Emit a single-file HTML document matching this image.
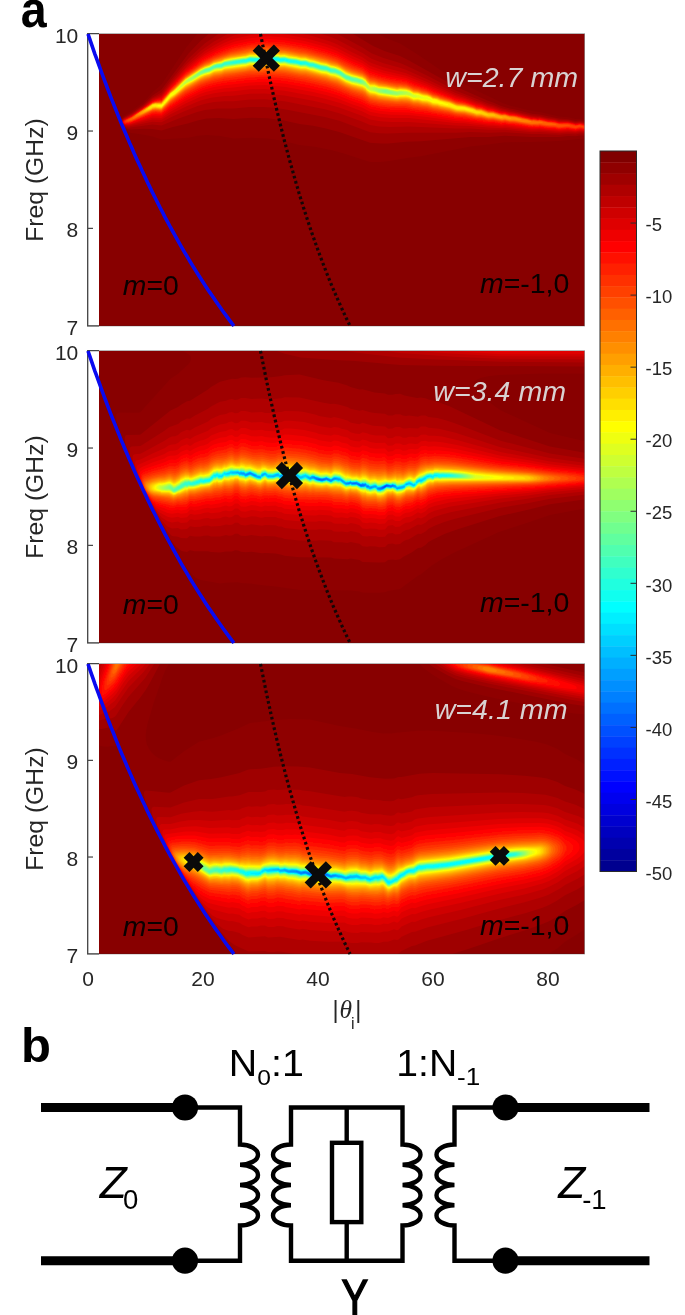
<!DOCTYPE html>
<html><head><meta charset="utf-8"><title>Figure</title><style>html,body{margin:0;padding:0;background:#fff}svg{display:block}</style></head><body>
<svg width="685" height="1315" viewBox="0 0 685 1315" font-family="'Liberation Sans', sans-serif">
<defs>
<filter id="bl" x="-5%" y="-5%" width="110%" height="110%"><feGaussianBlur stdDeviation="0.7"/></filter>
<clipPath id="c0"><rect x="99" y="34" width="485.5" height="292"/></clipPath>
<clipPath id="c1"><rect x="99" y="351" width="485.5" height="292"/></clipPath>
<clipPath id="c2"><rect x="99" y="664" width="485.5" height="290"/></clipPath>
<g id="xm"><rect x="-15" y="-4.3" width="30" height="8.6" transform="rotate(45)"/><rect x="-15" y="-4.3" width="30" height="8.6" transform="rotate(-45)"/></g>
<g id="xs"><rect x="-10" y="-4.1" width="20" height="8.2" transform="rotate(45)"/><rect x="-10" y="-4.1" width="20" height="8.2" transform="rotate(-45)"/></g>
</defs>
<rect width="685" height="1315" fill="#fff"/>
<g clip-path="url(#c0)"><g filter="url(#bl)">
<rect x="93" y="28" width="497.5" height="304" fill="#880000"/>
<path fill="#8f0000" d="M118.4 121 119.5 119 123.2 116 131.5 110.9 143.5 101.9 152.5 92.2 161.5 84.5 186.5 47 198.8 32 373.8 32 386 38 400 43.5 418 54.7 451 77.2 476.5 90.5 502 102.8 509.5 105.4 532 111 539.5 112.1 559 116.4 568 117.3 575.5 119.1 580 119 586 120.3 586 138.3 559 140.9 532 142.1 505 142.3 488.5 144.6 470.5 146.4 421 156.2 407 158 389.5 161 380.5 161.9 371.5 162 368.5 161.5 343 153.2 331 150 316 147.1 299.5 144.9 283.5 141 268 138.6 251.5 137.7 233.5 138.4 220 136 206.5 135.1 197.5 135.8 188.5 137.7 161.5 139.4 152.5 136.6 145 134.9 130 132.7 127 131.1 122.1 127 118.7 123Z"/>
<path fill="#9f0000" d="M119.6 122 119.7 121 124 117.1 131.5 112.8 143.5 104.2 152.5 95.6 161.5 89.6 188.5 53.4 200.5 41 210.9 32 349.8 32 373.1 46 385 51.2 400 56.1 409 60.4 455.5 86.6 488.5 101 493 102.4 501.1 106 509.5 108.5 514 109.2 532 113.7 539.5 114.5 559 118.6 568 119.2 575.5 121 580 120.6 586 122 586 135.4 580 135.4 575.5 136.2 568 136.1 559 136.9 532 137 505 135.8 488.5 136.9 470.5 137.1 421 141.2 406 141.7 388 143.4 380.5 143.5 370 142.7 340 132.2 325 128.2 313 125.8 299.5 123.9 283 120.3 268 118.3 251.5 117.8 233.5 119.1 218.5 118.1 206.5 118.6 197.5 120.4 188.5 123.2 172 127.2 161.5 130.4 152.5 128.9 143.5 128.8 131.5 129.6 128.5 129.3 125.5 128.1 122.5 126 120.5 124Z"/>
<path fill="#af0000" d="M120.4 122 121.7 120 124 118 131.5 113.9 143.5 105.4 152.5 97.4 161.5 92.4 170.5 80.4 188.5 58.4 205 43.2 221.3 32 333.8 32 362.5 47.5 371.5 53.2 383.5 58.1 400 63 406 65.4 427 75.6 455.5 90.4 488.5 103.5 493 104.7 502 108.3 532 115.3 539.5 115.9 548.5 117.9 554.5 118.6 559 119.8 568 120.2 575.5 122 580 121.5 586 122.9 586 133.8 580 133.6 575.5 134.4 568 134 559 134.7 539.5 133.9 532 134.1 505 132.3 488.5 132.7 470.5 132.1 455.5 132.7 406 132.7 388 133.6 379 133.3 370 132.2 340 121.1 325 117 284.5 109.2 274 107.7 263.5 106.9 250 107 233.5 108.5 217 108.4 205 109.9 197.1 112 178 118.8 161.5 125.6 152.5 124.6 128.5 127.7 125.5 126.9 122.5 125.2 121.3 124Z"/>
<path fill="#bf0000" d="M121.1 122 121.6 121 124 118.6 131.5 114.6 143.5 106.3 152.5 98.6 161.5 94.4 170.5 82.7 185.5 65 200.5 51.1 214 41.5 231.3 32 315.3 32 329.5 36.4 337 39.6 362.5 53 371.5 58.7 383.5 63.3 400 67.7 406 69.8 427 79.2 455.5 93 464.5 96 476.5 100.9 481 102.1 488.5 105.2 493 106.2 502 109.6 505 110 509.5 111.4 517 112.7 532 116.3 538 117 539.5 116.8 548.5 118.8 554.5 119.4 559 120.7 568 121 575.5 122.7 580 122.2 586 123.5 586 132.7 580 132.3 575.5 133.1 568 132.5 559 133.2 539.5 132 532 132.2 505 129.8 488.5 129.8 470.5 128.6 455.5 128.6 409 126.6 389.5 126.9 379 126.4 370 125 362.5 121.7 340 113.5 325 109.3 284.5 101.3 265 99.3 250 99.5 233.5 101.2 224.5 101.2 214 102.1 205 103.7 197.5 106 182.5 112.1 170.5 117.4 161.5 122.3 152.5 121.7 128.5 126.5 125.5 126 122.5 124.5Z"/>
<path fill="#cf0000" d="M121.6 122 124 119.2 131.5 115.2 143.5 107 152.5 99.6 161.5 95.9 170.5 84.4 188.5 64.4 205 50.8 214 45.2 224.5 39.5 233.5 35.5 247.6 32 294 32 313 36.2 329.5 41.2 337 44.3 352 52.2 362.5 57.2 368.5 61.4 371.5 63 383.5 67.3 406 73.2 427 81.9 455.5 95 464.5 97.7 476.5 102.4 481 103.5 487 106 493 107.4 502 110.7 517 113.5 532 117.2 538 117.8 539.5 117.5 548.5 119.5 554.5 120.1 559 121.4 568 121.5 575.5 123.3 580 122.7 586 124.1 586 131.8 580 131.3 575.5 132.1 568 131.4 559 132 539.5 130.5 532 130.7 505 127.9 502 128.2 488.5 127.6 470.5 125.9 455.5 125.4 409 121.9 391 121.9 380.5 121.3 370 119.6 362.5 116.1 340 107.7 325 103.4 313 100.7 284.5 95.4 265 93.5 250 93.8 233.5 95.7 224.5 95.9 211 97.7 200.5 100.4 185.5 106.7 170.5 114.2 161.5 119.8 152.5 119.5 128.5 125.5 124 124.8 122.5 124Z"/>
<path fill="#df0000" d="M122.1 122 124 119.6 131.5 115.7 143.5 107.5 152.5 100.4 161.5 97.1 170.5 85.8 185.5 69.3 196 60.2 205 53.4 217 46.5 224.5 42.8 233.5 39.1 250 35.2 265 33.2 269.5 33.1 284.5 34.3 307 38.5 326.5 43.9 337 47.9 352 55.8 362.5 60.5 370 65.8 383.5 70.4 406 75.8 427 84.1 433 87.1 457 97.1 464.5 99.1 476.5 103.7 481 104.6 488.5 107.6 493 108.4 500.5 111.1 505 111.7 509.5 113.1 514 113.6 532 117.8 533.5 117.6 538 118.4 539.5 118.1 548.5 120.1 554.5 120.6 559 121.9 568 122 575.5 123.8 580 123.2 586 124.5 586 131.1 580 130.4 575.5 131.3 568 130.4 559 131 539.5 129.3 532 129.5 505 126.4 502 126.7 493 125.8 487 125.7 481 124.8 476.5 124.7 464.5 123.3 455.5 123 409 118.1 391 117.9 380.5 117.2 370 115.3 362.5 111.5 340 103.1 325 98.7 313 95.9 284.5 90.7 265 88.9 250 89.3 233.5 91.2 224.5 91.7 214 93.2 206.5 94.9 200.5 96.8 185.5 103.5 170.5 111.7 161.5 117.9 152.5 117.7 128.5 124.8 124 124.3 122.5 123.2Z"/>
<path fill="#ef0000" d="M122.6 122 124.1 120 131.5 116.1 143.5 108 152.5 101 155.5 99.7 161.5 98.1 170.5 87 185.5 70.9 200.5 58.6 205 55.6 214 50.5 224.5 45.5 235 41.6 250 38.3 265 36.4 269.5 36.3 284.5 37.6 305.5 41.3 326.5 47.1 337 51 352 58.7 362.5 63.2 370 68.6 383.5 73 406 78 413.5 81.1 427 85.9 433 88.8 455.5 97.9 464.5 100.2 476.5 104.7 481 105.6 488.5 108.5 493 109.2 502 112.2 505 112.3 509.5 113.7 517 114.8 532 118.4 533.5 118.2 538 118.9 539.5 118.6 548.5 120.6 554.5 121.1 559 122.4 568 122.4 575.5 124.2 580 123.5 586 124.9 586 130.5 580 129.7 575.5 130.7 568 129.6 559 130.2 554.5 129.5 548.5 129.4 539.5 128.3 538 128.6 532 128.5 505 125.1 502 125.4 493 124.4 488.5 124.4 464.5 121.4 455.5 120.9 427 117 409 115 391 114.7 380.5 113.8 370 111.8 362.5 107.8 352 104.2 337 98.2 325.6 95 313 92 285.8 87 265 85 250 85.6 233.5 87.6 224.5 88.2 214 89.9 206.5 91.8 200.5 93.7 185.5 100.8 170.5 109.6 161.5 116.3 152.5 116.2 131.5 123.5 128.5 124.1 125.5 124.2 124 123.8 122.9 123Z"/>
<path fill="#ff0000" d="M123.1 122 123.4 121 124.6 120 131.5 116.4 143.5 108.3 152.5 101.5 155.5 100.3 161.5 99 170.5 88 185.5 72.2 200.5 60.3 205 57.4 217 51.1 224.5 47.8 233.5 44.5 250 40.9 265 39.1 269.5 39.1 284.5 40.3 305.5 44 326.5 49.7 337 53.5 352 61.2 362.5 65.5 370 71 379 74 391 77 406 79.8 413.7 83 427 87.4 433 90.3 455.5 99 464.5 101.2 476.5 105.6 481 106.4 487.6 109 493 109.8 502 112.8 505 112.8 509.5 114.2 514 114.6 532 118.9 533.5 118.6 538 119.3 539.5 119.1 548.5 121 554.5 121.5 559 122.8 568 122.8 572.5 123.5 575.5 124.6 580 123.9 586 125.2 586 129.9 580 129.1 575.5 130 568 128.9 559 129.5 554.5 128.7 548.5 128.6 539.5 127.4 538 127.8 532 127.6 505 124.1 502 124.4 493 123.1 488.5 123.2 464.5 119.8 457 119.4 427 114.7 415 113.5 409 112.4 391 111.9 379 110.7 370 108.8 362.5 104.6 352 101.1 337 95 326.5 92 305.5 87.2 284.5 83.5 265 81.8 250 82.4 224.5 85.3 214 87.1 205 89.6 200.5 91.2 185.5 98.5 170.5 107.8 161.5 115 155.5 114.6 152.5 114.9 128.5 123.6 125.5 123.8 124 123.4Z"/>
<path fill="#ff1000" d="M123.6 122 123.8 121 125 120 131.5 116.7 152.5 102 155.5 100.9 161.5 99.7 170.5 88.8 185.5 73.3 200.5 61.7 205 58.9 217 52.8 232 47.1 250 43.1 266.5 41.4 284.5 42.6 305.5 46.2 326.5 51.9 337 55.6 352 63.3 362.5 67.4 370 73.1 379 75.9 391 78.8 406 81.3 415 85 427 88.6 433 91.5 449.5 97.4 455.5 100 464.5 102 476.5 106.3 482.5 107.5 488.5 109.9 493 110.4 500.7 113 505 113.3 509.5 114.7 517 115.6 532 119.3 533.5 119 538 119.7 539.5 119.4 548.5 121.4 554.5 121.8 559 123.1 568 123.1 572.5 123.8 575.5 124.9 580 124.2 586 125.5 586 129.5 580 128.6 575.5 129.5 568 128.3 559 128.9 554.5 128 548.5 127.9 539.5 126.7 538 127 532 126.9 514 124.2 509.5 124.1 505 123.2 500.5 123.4 493 122.1 488.5 122.2 464.5 118.4 457 118 427 112.7 413.5 111.2 409 110.2 391 109.6 380.5 108.5 370 106.3 362.5 102 352 98.5 337 92.3 326.5 89.2 305.5 84.4 284.5 80.7 265 79.1 250 79.7 224.5 82.8 214 84.8 205 87.3 200.5 89 185.5 96.6 170.5 106.3 161.5 113.9 155.5 113.5 152.5 113.8 139 118.9 131.5 122.3 128.5 123.1 125.5 123.4 124.1 123Z"/>
<path fill="#ff2000" d="M124.2 122 124.3 121 125.5 120 131.5 117 152.5 102.3 155.5 101.3 161.5 100.3 170.5 89.4 185.5 74.2 200.5 63 205 60.2 217 54.3 232 48.8 250 45 266.5 43.3 284.5 44.5 305.5 48.2 326.5 53.8 337 57.4 352 65.1 362.5 69 370 74.8 379 77.6 391 80.3 406 82.6 414.3 86 418 86.8 427 89.7 433 92.5 449.5 98.2 455.5 100.8 464.5 102.7 473.5 105.6 476.5 107 481 107.6 487 110 493 110.9 502 113.7 505 113.6 509.5 115.1 514 115.4 532 119.6 533.5 119.3 538 120.1 539.5 119.7 548.5 121.7 554.5 122.1 559 123.4 568 123.4 572.5 124.2 575.5 125.2 580 124.5 586 125.8 586 129 580 128.1 575.5 129 568 127.8 559 128.4 554.5 127.5 548.5 127.4 539.5 126 538 126.4 533.5 126 532 126.3 517 123.8 509.5 123.4 505 122.4 502 122.7 493 121.3 488.5 121.3 481 119.7 476.5 119.5 464.5 117.2 457 116.7 449.5 115 433 112.5 427 111 413.5 109.5 406 107.9 391 107.6 380.5 106.5 370 104.2 362.5 99.7 352 96.3 337 89.9 326.5 86.8 305.5 81.9 284.5 78.3 265 76.7 250 77.4 224.5 80.7 214 82.8 205 85.4 200.5 87.2 185.5 94.9 170.5 105 161.5 112.9 155.5 112.5 152.5 112.9 131.5 121.8 125.5 123Z"/>
<path fill="#ff3000" d="M125 121 127 119.5 131.5 117.3 152.5 102.7 155.5 101.7 161.5 100.9 169.6 91 185.5 75.1 200.5 64 205 61.3 214 56.8 230.5 50.7 250 46.6 260.5 45.9 265 44.9 284.5 46.2 305.5 49.8 326.5 55.4 337 59 352 66.6 362.5 70.4 370 76.3 379 79 391 81.7 406 83.8 413.9 87 418 87.8 427 90.7 433 93.5 451 99.5 455.5 101.5 464.5 103.3 473.5 106.1 476.5 107.5 481 108.1 488.5 110.9 493 111.3 501.4 114 505 114 509.5 115.4 514 115.7 523 118 527.5 118.6 532 120 533.5 119.6 538 120.4 539.5 120 548.5 122 554.5 122.4 559 123.7 568 123.6 572.5 124.5 575.5 125.6 580 124.7 581.5 125.5 586 126.3 586 128.4 581.5 128.1 580 127.5 575.5 128.5 568 127.2 559 127.9 554.5 126.9 548.5 126.8 539.5 125.4 538 125.8 533.5 125.4 532 125.7 514 122.8 509.5 122.7 505 121.7 502 122 493 120.5 488.5 120.5 481 118.8 476.5 118.7 464.5 116.2 457 115.7 449.5 113.9 433 111.1 427 109.5 413.5 107.9 406 106.2 391 105.9 379 104.5 370 102.4 362.5 97.7 352 94.4 337 87.9 326.5 84.8 305.5 79.9 284.5 76.3 265 74.7 260.5 75.3 250 75.5 224.5 78.8 214 81 205 83.8 200.5 85.6 185.5 93.5 170.5 103.9 161.5 112.1 160 112.3 155.5 111.7 152.5 112.1 131.5 121.4 128.5 122.3 125.5 122.4 125 122Z"/>
<path fill="#ff4000" d="M125.8 121 126.6 120 131.5 117.5 152.5 103 155.5 102 161.5 101.3 170.1 91 185.5 75.8 200.5 64.9 205 62.3 214 57.9 230.5 52 250 47.9 260.5 47.3 265 46.3 284.5 47.6 305.5 51.2 326.5 56.8 337 60.3 346 65.2 352 67.9 362.5 71.6 370 77.7 374.5 78.6 379 80.2 391 82.8 406 84.7 414.1 88 418 88.7 421.3 90 427 91.4 433 94.3 437.5 95.4 440.5 96.8 449.5 99.5 455.5 102.1 464.5 103.8 473.5 106.6 476.5 108 481 108.5 487.2 111 493 111.6 502 114.4 505 114.3 509.5 115.7 517 116.6 532 120.3 533.5 120 538 120.6 539.5 120.3 548.5 122.3 554.5 122.7 560.5 124.2 568 123.9 575.5 125.9 580 125.3 583 126 583.5 127 581.5 127.1 580 126.7 575.5 128.1 568 126.7 559 127.4 554.5 126.4 548.5 126.3 539.5 124.9 538 125.3 533.5 124.9 532 125.2 514 122.2 509.5 122.1 505 121.1 502 121.5 493 119.8 488.5 119.9 481 118.1 476.5 117.9 464.5 115.3 457 114.8 449.5 112.8 433 110 427 108.3 413.5 106.6 406 104.8 391 104.5 379 102.9 370 100.9 362.5 96 352 92.8 337 86.2 326.5 83.1 305.5 78.1 301 77.6 284.5 74.5 265 72.9 260.5 73.6 250 73.8 224.5 77.3 214 79.5 205 82.4 200.5 84.2 185.5 92.2 170.5 102.9 161.5 111.4 160 111.6 155.5 111 152.5 111.4 131.5 121 127 122Z"/>
<path fill="#ff5000" d="M127.3 121 127.4 120 131.5 117.7 152.5 103.2 155.5 102.3 161.5 101.8 169.6 92 185.5 76.4 200.5 65.6 205 63.1 209.5 61.3 214 58.8 230.5 53.1 250 49.1 260.5 48.6 265 47.6 284.5 48.8 301 52 305.5 52.4 326.5 58 337 61.5 346 66.4 352 69.1 362.5 72.7 365.5 74.7 370 78.8 374.5 79.7 379 81.3 397 84.8 400 84.7 406 85.5 414.6 89 418 89.4 422 91 427 92.1 433 95 437.5 96 440.5 97.4 449.5 100.1 456.6 103 464.5 104.3 473.5 107 476.5 108.4 482.5 109.4 488.5 111.7 493 112 502 114.7 505 114.5 509.5 116 517 116.8 532 120.5 533.5 120.3 538 120.9 539.5 120.6 548.5 122.6 554.5 123 559 124.6 569.9 125 569.5 125.7 559 126.8 554.5 125.8 544 125.3 539.5 124.3 538 124.8 533.5 124.4 532 124.7 514 121.7 509.5 121.6 505 120.6 500.5 120.8 493 119.2 488.5 119.3 481 117.5 476.5 117.3 464.5 114.6 455.5 113.7 449.5 112 433 109 427 107.2 413.5 105.5 409 104 406 103.5 397 103.7 379 101.7 370 99.6 362.5 94.5 352 91.3 337 84.7 326.5 81.6 305.5 76.5 301 76.1 284.5 73 265 71.4 260.5 72.2 250 72.3 224.5 75.9 221.5 76.9 214 78.2 200.5 83 185.5 91.1 170.5 102.1 161.5 110.8 155.5 110.4 152.5 110.8 131.5 120.6 128.5 121.3Z"/>
<path fill="#ff6000" d="M129.4 120 129.9 119 152.5 103.4 155.5 102.5 161.5 102.1 169.9 92 173.5 89 185.5 76.9 200.5 66.3 205 63.8 209.5 62.1 214 59.5 230.5 54 250 50.1 260.5 49.7 265 48.6 284.5 49.9 301 53.1 305.5 53.4 326.5 59 337 62.5 346 67.5 352 70.1 362.5 73.5 365.5 75.6 370 79.8 374.5 80.6 379 82.2 397 85.6 400 85.5 406 86.3 409 87.1 413.5 89.4 418 90.1 422.5 91.8 427 92.7 433 95.5 437.5 96.5 440.5 97.9 449.5 100.5 455.5 103.1 458.5 104 464.5 104.7 473.5 107.4 476.5 108.8 481 109.2 488.5 112.1 493 112.3 501.9 115 505 114.8 509.5 116.2 514 116.5 532 120.8 533.5 120.6 538 121.3 539.5 120.8 544 122.1 545.5 122 547 122.7 551.7 123 553 123.7 555.6 124 556.4 125 548.5 125.2 539.5 123.8 538 124.3 533.5 123.9 532 124.3 514 121.2 509.5 121.2 505 120.1 502 120.5 493 118.7 488.5 118.8 481 116.9 476.5 116.7 464.5 113.9 457 113.3 449.5 111.2 433 108.1 427 106.2 422.5 105.8 418 104.7 413.5 104.5 409 102.9 401.5 102.3 397 102.6 379 100.5 370 98.4 365.5 94.9 362.5 93.2 352 90.1 337 83.4 326.5 80.2 305.5 75.2 301 74.8 284.5 71.7 265 70.1 260.5 70.9 250 71 224.5 74.7 221.5 75.8 214 77.1 200.5 82 185.5 90.2 170.5 101.4 161.5 110.2 160 110.5 155.5 109.8 152.5 110.3 131.5 120.1Z"/>
<path fill="#ff7000" d="M132.6 118 136 114.8 152.5 103.6 155.5 102.8 157 103 161.5 102.5 170.3 92 175 87.9 185.5 77.3 200.5 66.9 205 64.4 209.5 62.7 214 60.2 230.5 54.8 245.5 52.2 250 51 260.5 50.7 265 49.5 284.5 50.8 301 54 305.5 54.3 310 55.8 313 56.2 326.5 59.9 337 63.3 346 68.4 352 70.9 362.5 74.3 365.5 76.4 367 78.2 370 80.7 374.5 81.4 379 83 397 86.4 400 86.2 406 86.9 410.5 88.4 413.5 90 418 90.7 421.3 92 427 93.3 433 96.1 437.5 97.1 440.5 98.4 449.5 101 457 104 464.5 105 473.5 107.7 476.5 109.1 481 109.5 488.5 112.3 493 112.5 502 115.3 505 115 509.5 116.5 514 116.7 523 119.1 527.5 119.7 532 121.3 533.5 120.9 535 121.5 542.3 122 542.9 123 532 123.7 514 120.7 509.5 120.7 505 119.6 502 120 493 118.3 488.5 118.3 481 116.4 476.5 116.2 464.5 113.3 455.5 112.4 449.5 110.5 440.5 108.9 437.5 107.9 433 107.4 427 105.4 422.5 104.9 418 103.8 413.5 103.6 409 102 401.5 101.3 397 101.7 379 99.5 370 97.4 367 95.4 365.5 93.8 362.5 92.1 352 89 346 86.7 337 82.2 331 80.7 326.5 79.1 305.5 74 301 73.7 284.5 70.5 265 68.9 260.5 69.9 250 69.9 245.5 70.9 224.5 73.7 221.5 74.8 214 76.1 209.5 78 205 79.2 200.5 81.1 185.5 89.4 170.5 100.7 161.5 109.8 155.5 109.4 152.5 109.8 133 119Z"/>
<path fill="#ff8000" d="M135.5 116 136 115 152.5 103.8 155.5 103 161.5 102.8 169.6 93 173.5 89.7 185.5 77.7 200.5 67.4 205 65 209.5 63.3 214 60.8 230.5 55.6 245.5 53 250 51.8 260.5 51.5 265 50.3 278.5 51.1 280 51.6 284.5 51.6 301 54.8 305.5 55.2 326.5 60.6 331 62.5 337 64.1 340 65.4 346 69.2 352 71.7 362.5 75 365.5 77.1 367 79 370 81.5 374.5 82.1 379 83.7 386.5 84.8 391 86 397 87 400 86.8 406 87.4 409 88.3 414.9 91 418 91.2 422.5 92.9 427 93.7 433 96.5 437.5 97.5 440.5 98.9 449.5 101.3 455.8 104 464.5 105.3 473.5 108 476.5 109.4 481 109.8 488.5 112.6 493 112.8 500.5 115.2 505 115.3 509.5 116.7 514 117 523 119.6 527.2 120 529 120.9 530.5 121 531.6 122 529 122.3 523 121.9 514 120.3 509.5 120.3 505 119.2 502 119.6 493 117.8 488.5 117.9 481 115.9 476.5 115.8 464.5 112.7 455.5 111.9 449.5 109.9 440.5 108.2 437.5 107.2 433 106.7 427 104.6 422.5 104.2 418 103 413.5 102.8 409 101.1 401.5 100.5 397 100.9 379 98.7 374.5 97.3 370 96.5 367 94.5 365.5 92.8 362.5 91.1 352 88.1 346 85.8 337 81.2 331 79.8 326.5 78.1 305.5 73 301 72.7 284.5 69.5 280 69.4 278.5 69 265 67.9 260.5 68.9 250 68.9 245.5 70 224.5 72.8 221.5 73.9 214 75.2 209.5 77.2 205 78.4 200.5 80.3 185.5 88.7 170.5 100.2 161.5 109.4 160 109.6 155.5 108.9 152.5 109.4 151 110.5 135.6 117Z"/>
<path fill="#ff8f00" d="M137.5 115 139 113 152.5 104 155.5 103.2 161.5 103.1 169.9 93 173.5 90 185.5 78.1 200.5 67.8 205 65.4 209.5 63.9 214 61.3 230.5 56.2 245.5 53.7 250 52.5 260.5 52.2 265 51 278.5 51.9 280 52.4 284.5 52.4 301 55.6 305.5 55.9 320.5 60.1 326.5 61.3 331 63.2 337 64.8 340 66.1 346 69.9 352 72.4 362.5 75.6 365.5 77.7 367 79.6 370 82.2 374.5 82.8 379 84.4 397 87.6 400 87.3 406 87.9 410.5 89.4 413.5 91.1 418 91.7 421.3 93 427 94.2 430 95.2 433 97 437.5 97.9 440.5 99.2 449.5 101.6 457 104.7 464.5 105.6 473.5 108.3 476.5 109.7 481 110.1 488.5 112.9 493 113 500.5 115.5 505 115.6 509.5 117 517 117.9 518.5 118.8 520.2 119 521.6 120 518.5 120.3 514 119.6 509.5 119.8 505 118.7 502 119.2 493 117.4 488.5 117.5 481 115.5 476.5 115.4 473.5 114.3 464.5 112.2 455.5 111.4 449.5 109.3 440.5 107.6 437.5 106.6 433 106.1 427 103.9 422.5 103.5 418 102.3 413.5 102.1 406.9 100 401.5 99.7 397 100.2 379 97.9 376 96.8 370 95.7 367 93.7 365.5 92 362.5 90.2 352 87.3 346 84.9 337 80.3 331 78.9 326.5 77.2 305.5 72 301 71.8 284.5 68.6 280 68.6 278.5 68.1 268 67.6 265 67 260.5 68.1 250 68.1 245.5 69.1 224.5 71.9 221.5 73.2 214 74.5 209.5 76.5 205 77.7 200.5 79.6 185.5 88 174.4 97 170.5 99.7 161.5 109 160 109.2 155.5 108.6 152.5 109 143.5 113.5 139 115.1Z"/>
<path fill="#ff9f00" d="M140.3 113 152.5 104.2 155.5 103.3 161.5 103.3 170.1 93 175 88.9 185.5 78.4 200.5 68.2 205 65.9 209.5 64.3 214 61.8 221.5 59.9 224.5 58.3 230.5 56.8 245.5 54.3 250 53.1 260.5 52.9 265 51.6 278.5 52.5 280 53.1 284.5 53 301 56.2 305.5 56.5 310 58 313 58.3 321.5 61 326.5 62 331 63.8 337 65.3 340 66.7 346 70.5 352 73 362.5 76.2 365.5 78.3 367 80.2 370 82.8 374.5 83.3 379 84.9 386.5 85.9 397 88.1 400 87.8 406 88.3 409 89.2 413.5 91.5 418 92.1 422.5 93.7 427 94.5 430 95.6 433 97.4 437.5 98.2 440.5 99.6 449.5 102 457 105 464.5 105.9 473.5 108.5 476.5 110 481 110.3 488.5 113.2 493 113.3 500.5 115.8 505 115.9 509.5 117.8 511.6 118 510.5 119 509.5 119.1 505 118.1 500.5 118.5 493 117 488.5 117.1 481 115.1 476.5 115 473.5 113.9 464.5 111.8 457 111.2 449.5 108.8 440.5 107.1 437.5 106 433 105.5 427 103.3 422.5 102.9 418 101.7 413.5 101.5 409 99.7 406 99.2 400 99.1 397 99.5 379 97.2 375.6 96 370 95 367 92.9 365.5 91.2 362.5 89.4 352 86.6 346 84.2 337 79.5 331 78.1 326.5 76.4 322 75.6 305.5 71.2 301 71 284.5 67.8 280 67.8 278.5 67.3 268 66.8 265 66.2 260.5 67.4 250 67.3 245.5 68.4 224.5 71.2 221.5 72.5 214 73.8 209.5 75.9 205 77.1 200.5 78.9 185.5 87.4 173.8 97 170.5 99.2 161.5 108.7 155.5 108.2 152.5 108.7 151 109.8 143.5 113.1 140.5 114Z"/>
<path fill="#ffaf00" d="M142.1 112 152.5 104.3 155.5 103.5 161.5 103.5 170.4 93 175 89.2 185.5 78.7 200.5 68.6 205 66.3 209.5 64.8 214 62.2 221.5 60.3 224.5 58.8 230.5 57.3 245.5 54.9 250 53.6 260.5 53.5 265 52.2 278.5 53.1 280 53.6 284.5 53.5 301 56.8 305.5 57 320.5 61.3 326.5 62.5 331 64.4 337 65.9 340 67.2 346 71.1 352 73.5 362.5 76.6 365.5 78.7 367 80.8 370 83.4 374.5 83.8 379 85.4 386.5 86.4 397 88.5 400 88.2 406 88.7 409 89.6 413.5 92 418 92.5 422 94 427 94.9 430 96 433 97.7 437.5 98.5 440.5 99.9 449.5 102.3 455.9 105 464.5 106.2 473.5 108.8 476.5 110.3 481 110.6 488.5 113.5 493 113.6 502.8 117 502.1 118 500.5 118 493 116.5 487 116.5 481 114.6 476.5 114.6 473.5 113.5 464.5 111.4 458.5 111.1 455.5 110.5 449.5 108.3 440.5 106.6 437.5 105.5 433 105 427 102.7 422.5 102.3 418 101.1 413.5 101 409 99.1 406 98.5 397 98.9 379 96.6 374.5 95.1 370 94.4 367 92.3 365.5 90.5 362.5 88.7 352 85.9 346 83.6 340 80.1 337 78.8 331 77.5 326.5 75.7 320.5 74.5 305.5 70.5 301 70.3 284.5 67.1 280 67.1 278.5 66.6 268 66.1 265 65.5 260.5 66.7 250 66.6 245.5 67.8 224.5 70.6 221.5 71.9 214 73.1 209.5 75.3 205 76.5 200.5 78.4 185.5 86.9 174.5 96 170.5 98.7 161.5 108.3 160 108.5 155.5 107.8 152.5 108.4 151 109.4 143.5 112.5Z"/>
<path fill="#ffbf00" d="M144.1 111 146.1 109 152.5 104.5 155.5 103.7 161.5 103.7 170.5 93.1 173.5 90.8 185.5 79 200.5 68.9 205 66.6 209.5 65.1 214 62.6 221.5 60.8 224.5 59.2 230.5 57.7 245.5 55.4 250 54.1 260.5 54 265 52.6 268 53.2 278.5 53.6 280 54.2 284.5 54.1 301 57.3 305.5 57.5 310 59.1 313 59.4 321.2 62 326.5 63 331 64.9 337 66.3 340 67.7 346 71.6 352 74 362.5 77.1 365.5 79.2 367 81.2 370 83.9 374.5 84.3 379 85.9 386.5 86.8 397 89 400 88.6 406 89.1 410.5 90.6 413.5 92.3 418 92.8 422.5 94.5 427 95.2 430 96.3 433 98.1 437.5 98.9 440.5 100.3 449.5 102.5 455.5 105.2 458.5 105.9 464.5 106.4 473.5 109 476.5 110.5 481.6 111 487 113.5 493 113.9 495.2 115 495.3 116 487 116.1 481 114.2 476.5 114.2 473.5 113.1 464.5 110.9 457 110.4 449.5 107.8 440.5 106.1 437.5 105 433 104.5 430 103 427 102.2 422.5 101.8 418 100.6 413.5 100.5 409 98.5 406 98 400 98 397 98.4 379 96.1 376 94.9 370 93.8 367 91.7 365.5 89.9 362.5 88.1 352 85.3 346 83 337 78.2 331 76.8 326.5 75 322 74.3 305.5 69.9 301 69.7 284.5 66.5 280 66.5 278.5 65.9 268 65.5 265 64.9 260.5 66.1 250 66 245.5 67.2 224.5 70 221.5 71.3 214 72.6 209.5 74.8 205 76 200.5 77.9 185.5 86.4 174 96 170.5 98.3 161.5 108 160 108.2 155.5 107.5 152.5 108 151 109.1 146.5 111 145 111.3Z"/>
<path fill="#ffcf00" d="M146 110 146.4 109 152.5 104.7 155.5 103.8 157 104.2 161.5 104 170.5 93.3 173.6 91 185.5 79.2 200.5 69.2 205 66.9 209.5 65.5 214 62.9 221.5 61.1 224.5 59.5 230.5 58.1 245.5 55.9 250 54.5 260.5 54.5 265 53.1 268 53.6 278.5 54.1 280 54.6 284.5 54.5 289 55.7 296.5 56.6 301 57.8 305.5 58 320.5 62.3 326.5 63.4 331 65.3 337 66.8 340 68.1 346 72.1 352 74.4 362.5 77.4 365.5 79.6 367 81.7 370 84.4 374.5 84.7 379 86.3 386.5 87.2 397 89.3 400 88.9 406 89.4 409 90.2 413.5 92.7 418 93.2 422.5 94.8 427 95.5 430 96.6 433 98.4 434.5 98.4 440.5 100.6 449.5 102.8 455.5 105.5 458.5 106.2 464.5 106.7 473.5 109.4 476.5 110.8 481 111.2 487.4 114 488 115 485.5 115 481 113.7 476.5 113.8 473.5 112.7 464.5 110.5 457 110 449.5 107.4 440.5 105.6 437.5 104.5 433 104 430 102.5 427 101.7 422.5 101.3 418 100.1 413.5 100 409 98 406 97.5 400 97.5 397 97.9 379 95.6 374.6 94 370 93.3 367 91.1 365.5 89.3 362.5 87.5 352 84.8 346 82.5 340 78.9 337 77.6 331 76.3 326.5 74.5 320.5 73.4 305.5 69.3 301 69.1 284.5 65.9 280 66 278.5 65.4 268 64.9 265 64.3 260.5 65.6 250 65.4 245.5 66.7 224.5 69.5 221.5 70.8 214 72.1 209.5 74.3 205 75.5 200.5 77.4 185.5 85.9 175 94.8 170.5 97.9 161.5 107.7 155.5 107.2 152.5 107.6 151 108.8 148 109.9Z"/>
<path fill="#ffdf00" d="M148 109 148.1 108 152.5 104.8 155.5 104 157 104.5 161.9 104 170.5 93.6 173.9 91 185.5 79.4 200.5 69.5 205 67.2 209.5 65.8 214 63.2 221.5 61.5 224.5 59.9 230.5 58.5 245.5 56.3 250 54.9 260.5 55 265 53.5 268 54.1 278.5 54.4 280 55.1 284.5 54.9 301 58.2 305.5 58.3 310 60 313 60.2 321.7 63 326.5 63.8 331 65.7 337 67.2 340 68.5 346 72.5 352 74.8 362.5 77.8 365.5 80 367 82.1 370 84.8 374.5 85.1 379 86.7 386.5 87.5 397 89.7 400 89.3 406 89.7 409 90.5 413.5 93 418 93.5 422.5 95.1 427 95.8 430 96.9 433 98.7 434.5 98.7 440.5 100.9 449.5 103.1 457 106.2 464.5 106.9 474.4 110 476.5 111.3 480.7 112 480.4 113 476.5 113.2 464.5 110.1 457 109.5 449.5 106.9 440.5 105.2 437.5 104 433 103.6 430 102 427 101.2 422.5 100.8 418 99.6 413.5 99.6 409 97.5 406 97 400 97 397 97.5 379 95.1 376 93.9 370 92.8 367 90.6 365.5 88.8 362.5 87 352 84.3 346 82 340 78.4 334 76.1 331 75.8 326.5 73.9 322 73.2 305.5 68.8 301 68.7 284.5 65.4 280 65.5 278.5 64.9 268 64.5 265 63.8 260.5 65.1 250 64.9 245.5 66.2 224.5 69 221.5 70.4 214 71.6 209.5 73.9 205 75.1 200.5 77 185.5 85.5 175 94.4 170.5 97.5 161.5 107.4 157 107.2 155.5 106.8 152.5 107.3 149.5 109Z"/>
<path fill="#ffef00" d="M152.2 106 152.5 105 161.5 104.6 162.3 104 170.5 93.8 174.2 91 185.5 79.7 200.5 69.7 205 67.4 209.5 66.1 214 63.5 221.5 61.8 224.5 60.2 230.5 58.8 244 56.5 245.5 56.6 250 55.2 260.5 55.3 262 54.5 265 53.8 268 54.4 278.5 54.8 280 55.5 284.5 55.3 289 56.5 296.5 57.4 301 58.6 305.5 58.7 320.5 63.1 326.5 64.2 331 66.1 334 66.5 340 68.9 346 72.9 352 75.2 362.5 78.1 365.5 80.3 367 82.5 370 85.3 374.5 85.5 379 87.1 386.5 87.8 397 90 400 89.5 406 90 409 90.8 413.5 93.4 418 93.8 422.5 95.5 427 96.2 430 97.3 433 99.1 434.5 99 437.5 99.8 440.5 101.3 451 104 457 106.7 462.5 107 466.2 108 470.5 109.7 472.6 110 473.1 111 466 110 464.5 109.3 456.8 109 449.5 106.3 446.5 106 442 104.6 439 104.2 437.5 103.5 433 103.1 430 101.5 427 100.7 422.5 100.4 418 99.1 413.5 99.2 409 97.1 406 96.5 400 96.6 397 97.1 379 94.7 374.5 93 370 92.3 367 90.2 365.5 88.3 362.5 86.5 352 83.9 346 81.6 340 77.9 334 75.7 331 75.3 326.5 73.5 320.5 72.4 305.5 68.3 301 68.2 284.5 64.9 280 65 278.5 64.4 268 64 265 63.3 260.5 64.7 250 64.5 245.5 65.8 224.5 68.6 221.5 70 214 71.2 209.5 73.6 205 74.7 200.5 76.6 185.5 85.1 175 94 170.5 97.1 161.5 107.1 158.2 107 155.5 106.3 152.5 106.6ZM150.6 107 151.6 107 151 107.6Z"/>
<path fill="#ffff00" d="M165.6 101 166 99.8 167.1 99 167.4 98 168.7 97 168.9 96 170.1 95 170.5 94.1 175.6 90 185.5 79.9 200.5 70 205 67.7 209.5 66.3 214 63.7 221.5 62.1 224.5 60.5 238 57.8 245.5 57 250 55.6 260.5 55.7 265 54.2 268 54.8 278.5 55.2 280 55.8 284.5 55.6 289 56.9 296.5 57.7 301 59 305.5 59.1 310 60.7 313 61 322 63.8 326.5 64.5 331 66.4 334 66.8 340 69.2 346 73.2 352 75.5 356.5 76.4 362.5 78.4 365.5 80.6 367 82.8 370 85.7 374.5 85.8 379 87.4 386.5 88.1 397 90.3 400 89.8 406 90.3 410.5 91.8 413.5 93.7 418 94.1 421 95.4 427 96.6 430 97.6 433 99.6 436.4 100 439 101.4 442 101.9 446.5 103.9 448.1 104 448.1 105 446.1 105 442 103.9 440.5 103.9 437.5 102.8 433 102.5 427 100.1 422.5 99.9 418 98.7 413.5 98.7 409 96.6 406 96.1 400 96.2 397 96.8 379 94.3 376 93 370 91.9 367 89.7 365.5 87.8 362.5 86.1 352 83.5 346 81.2 340 77.5 334 75.2 331 74.9 326.5 73 322 72.4 313 69.7 310 69.4 305.5 67.8 301 67.8 284.5 64.5 280 64.7 278.5 64 268 63.6 265 62.9 260.5 64.3 250 64.1 245.5 65.4 224.5 68.2 221.5 69.7 217 70.1 214 70.8 209.5 73.2 205 74.4 200.5 76.2 191.5 81.7 188.5 82.9 185.5 84.8 173.5 94.7 169.8 97 166 101.8ZM165.6 102 164.5 103.5 163.8 103 164.5 101.8ZM163.7 104 163 105.2 161.5 106.4 157.5 106 157.7 105 161.5 104.9 163 103.6Z"/>
<path fill="#efff10" d="M172.2 94 183.6 82 188.5 77.9 191.5 76.3 200.5 70.1 205 67.9 209.5 66.5 214 64 221.5 62.3 224.5 60.7 230.5 59.4 244 57.2 245.5 57.3 250 55.9 260.5 56 262 55.2 265 54.4 268 55.1 278.5 55.4 280 56.1 284.5 55.9 289 57.2 296.5 58 301 59.3 305.5 59.3 310 61 313 61.2 321.6 64 326.5 64.8 331 66.8 335.5 67.5 340 69.4 346 73.5 352 75.8 356.5 76.7 362.5 78.7 365.5 80.9 367 83.2 370 86.1 374.5 86.2 379 87.7 386.5 88.3 391 89.6 397 90.6 400 90.1 406 90.5 409 91.4 415 94.4 418 94.5 422.5 96.3 427 96.9 429.8 98 432.2 100 431.5 100.9 427 99.4 422.5 99.3 418 98.2 413.5 98.3 409 96.2 406 95.7 400 95.8 397 96.4 379 93.9 374.5 92.2 370 91.4 367 89.3 365.5 87.4 362.5 85.7 352 83.1 346 80.8 340 77.1 334 74.8 331 74.6 326.5 72.6 320.5 71.6 305.5 67.5 301 67.4 296.5 66.2 289 65.3 284.5 64.1 280 64.3 278.5 63.6 268 63.2 265 62.5 260.5 63.9 250 63.7 245.5 65 224.5 67.8 221.5 69.3 217 69.7 214 70.5 209.5 72.9 205 74 200.5 75.9 191.5 81.3 188.5 82.5 185.5 84.4 173.5 94.1Z"/>
<path fill="#dfff20" d="M175.9 91 178 87.9 180.4 86 180.9 85 185.5 80.4 188.5 78.1 191.5 76.5 200.5 70.3 205 68.1 209.5 66.8 214 64.2 221.5 62.6 224.5 61 230.5 59.6 244 57.4 245.5 57.5 250 56.1 260.5 56.3 262 55.4 265 54.7 268 55.4 278.5 55.7 280 56.4 284.5 56.2 289 57.4 296.5 58.3 301 59.6 305.5 59.6 310 61.3 313 61.5 320.5 64 326.5 65.1 331 67.1 334 67.4 340 69.7 346 73.8 352 76.1 356.5 77 362.5 79 365.5 81.2 367 83.5 370 86.5 374.5 86.5 379 88 386.5 88.6 391 89.9 397 90.9 400 90.4 406 90.8 409.8 92 413.5 94.4 418.6 95 421 96.7 422.4 97 422.5 98 421 98.1 419.5 97.4 414.1 98 409 95.8 406 95.3 400 95.5 397 96.1 379 93.6 374.5 91.8 370 91 367 88.9 365.5 87 362.5 85.3 352 82.8 346 80.5 340 76.7 336 75 331 74.2 326.5 72.3 320.5 71.3 313 68.9 310 68.7 305.5 67.1 301 67.1 296.5 65.8 289 65 284.5 63.7 280 63.9 278.5 63.3 268 62.9 265 62.1 260.5 63.7 250 63.4 245.5 64.7 241 65 224.5 67.5 221.5 69 214 70.2 209.5 72.6 205 73.8 200.5 75.6 193 80.2 185.5 84 179.5 89.2 176.5 91.2Z"/>
<path fill="#cfff30" d="M179.5 87 184 82 188.5 78.3 200.5 70.5 205 68.3 209.5 67 214 64.4 217 63.4 221.5 62.8 224.5 61.2 230.5 59.9 244 57.7 245.5 57.8 250 56.3 260.5 56.6 262 55.7 265 55 268 55.6 278.5 56 280 56.7 284.5 56.4 289 57.7 296.5 58.6 301 59.9 305.5 59.9 310 61.5 313 61.8 320.5 64.3 326.5 65.3 331 67.3 334 67.6 340 70 346 74.1 352 76.4 356.5 77.2 362.5 79.2 365.5 81.5 367 83.8 370 87 374.5 86.8 379 88.3 386.5 88.8 391 90.2 397 91.2 400 90.6 406 91.1 409.2 92 413.5 94.8 416.6 96 416.1 97 413.5 97.3 409 95.3 406 94.9 400 95.1 397 95.8 379 93.3 376 91.8 370 90.4 367 88.5 365.5 86.6 362.5 84.9 352 82.5 346 80.2 340 76.4 334 74.1 331 73.9 326.5 71.9 322 71.3 313 68.6 310 68.4 305.5 66.7 301 66.8 296.5 65.5 289 64.7 284.5 63.4 280 63.7 278.5 62.9 268 62.6 265 61.8 260.5 63.4 250 63 245.5 64.4 238 65.1 224.5 67.2 221.5 68.7 217 69.1 214 69.9 209.5 72.3 205 73.5 200.5 75.3 193 79.9 185.5 83.6 181 87.2Z"/>
<path fill="#bfff40" d="M183.2 84 185.5 80.9 200.5 70.7 205 68.5 209.5 67.2 214 64.5 217 63.6 221.5 63 224.5 61.4 230.5 60.1 244 57.9 245.5 58.1 250 56.6 257.5 57.1 260.5 56.8 262 56 265 55.2 268 55.9 278.5 56.2 280 57 284.5 56.7 289 58 296.5 58.8 301 60.1 305.5 60.1 310 61.8 313 62 322 64.9 326.5 65.5 331 67.5 335.5 68.2 340 70.2 346 74.4 352 76.6 356.5 77.5 362.5 79.5 365.5 81.8 370 87.9 374.5 87.2 379 88.6 386.5 89.1 391 90.4 397 91.4 400 90.9 406 91.5 410.3 93 412.1 95 410.5 95.2 406 94.4 400 94.8 397 95.5 379.4 93 376 91.4 368.5 89.1 367 88.1 365.5 86.2 362.5 84.6 352 82.2 346 79.9 340 76.1 334 73.8 331 73.6 326.5 71.6 320.5 70.7 313 68.3 310 68.1 305.5 66.4 301 66.5 296.5 65.2 289 64.4 284.5 63.1 280 63.4 278.5 62.7 268 62.3 265 61.5 260.5 63.1 250 62.8 245.5 64.1 244 64 224.5 66.9 221.5 68.5 217 68.8 214 69.6 209.5 72 205 73.2 200.5 75 191.5 80.4 188.5 81.4 184 84.2Z"/>
<path fill="#afff50" d="M186.6 81 188.5 78.9 191.5 77.3 200.5 70.9 205 68.7 209.5 67.4 214 64.7 217 63.8 221.5 63.2 224.5 61.6 230.5 60.3 244 58.1 245.5 58.3 250 56.8 260.5 57.1 262 56.2 265 55.4 268 56.1 278.5 56.4 280 57.2 284.5 56.9 289 58.2 296.5 59 301 60.3 305.5 60.3 310 62 313 62.2 321.5 65 326.5 65.8 331 67.8 335.5 68.4 340 70.4 346 74.6 352 76.9 356.5 77.7 362.5 79.7 365.5 82.1 368.5 86.8 368.7 88 367 87.6 366 86 362.5 84.2 361 84.2 356.5 82.7 352 81.9 346 79.7 340 75.8 335.8 74 331 73.3 326.5 71.3 320.5 70.4 313 68 310 67.8 305.5 66.1 301 66.2 296.5 64.9 289 64.1 284.5 62.8 280 63.1 278.5 62.4 268 62 265 61.2 260.5 62.8 250 62.5 245.5 63.9 241 64.2 224.5 66.7 221.5 68.2 217 68.6 214 69.3 209.5 71.8 205 72.9 200.5 74.7 191.5 80 187 81.7ZM372.5 89 372.8 88 376 87.8 377.5 88.6 386.5 89.3 397 91.7 400 91.2 406 91.9 407.7 93 404.5 94.2 400 94.4 397 95.1 391 94.6 379 92.5 373.1 90Z"/>
<path fill="#9fff60" d="M189.9 79 200.6 71 205 68.8 209.5 67.5 214 64.9 221.5 63.4 224.5 61.7 230.5 60.4 244 58.3 245.5 58.5 250 57 260.5 57.3 262 56.3 265 55.6 268 56.3 278.5 56.6 280 57.4 284.5 57.1 289 58.4 296.5 59.2 301 60.5 305.5 60.5 310 62.2 313 62.4 320.6 65 326.5 66 331 68 335.5 68.6 340 70.6 346 74.8 352 77.1 356.5 77.9 362.5 79.9 365.5 82.5 366.6 85 365.5 85.3 362.5 83.9 361 83.9 356.5 82.4 352 81.6 346 79.4 340 75.5 335.5 73.6 331 73.1 326.5 71 322 70.5 313 67.7 310 67.6 305.5 65.9 301 65.9 296.5 64.7 289 63.9 284.5 62.6 280 62.9 278.5 62.1 268 61.8 265 61 260.5 62.6 250 62.2 245.5 63.7 241 63.9 224.5 66.4 221.5 68 217 68.3 214 69.1 209.5 71.6 205 72.7 200.5 74.5 191.5 79.3 190 79.3ZM375.4 89 376 88.7 379 89.3 386.5 89.5 397 92 400 91.7 402.9 92 403.2 93 397 94.7 391 94.3 378.5 92 375.6 90Z"/>
<path fill="#8fff70" d="M193.2 77 200.5 71.4 205 69 209.5 67.7 214 65.1 217 64.2 221.5 63.6 224.5 61.9 244 58.5 245.5 58.7 250 57.2 257.5 57.7 260.5 57.5 262 56.5 265 55.8 268 56.5 278.5 56.8 280 57.6 284.5 57.3 289 58.6 296.5 59.4 301 60.7 305.5 60.7 310 62.4 313 62.6 320.5 65.2 326.5 66.2 331 68.2 335.5 68.8 340 70.8 346 75.1 352 77.3 356.5 78.1 362.5 80.3 365.5 83 365.5 84 361 83.6 356.5 82.1 352 81.4 346 79.2 340 75.3 335.5 73.3 331 72.8 326.5 70.8 322 70.3 313 67.5 310 67.3 305.5 65.6 301 65.7 296.5 64.5 289 63.7 284.5 62.4 280 62.7 278.5 61.9 268 61.6 265 60.8 260.5 62.4 257.5 62.6 250 62 245.5 63.5 238 64.1 224.5 66.2 221.5 67.8 217 68.1 214 68.8 209.5 71.4 205 72.4 200.5 74.2 194.5 77.3ZM378.4 90 386.5 89.8 391 91.3 395.5 91.9 397 92.8 398.4 93 397 94.1 391 93.9 380 92 378.4 91Z"/>
<path fill="#80ff80" d="M196.5 75 200.5 71.7 205 69.3 209.5 67.9 214 65.3 217 64.3 221.5 63.8 224.5 62.1 238 59.6 239.5 59.7 244 58.7 245.5 58.9 250 57.3 257.5 57.9 260.5 57.6 262 56.7 265 56 268 56.7 278.5 57 280 57.8 284.5 57.4 289 58.8 296.5 59.6 301 60.9 305.5 60.9 310 62.6 313 62.8 320.5 65.3 326.5 66.3 331 68.4 334 68.7 337 69.7 341.5 72 346 75.3 350.5 76.7 352 77.5 356.5 78.4 362.5 80.6 364 82 364 83 361 83.2 356.5 81.8 352 81.1 346 78.9 340 75 335.5 73.1 331 72.6 326.5 70.6 320.5 69.7 313 67.2 310 67.1 305.5 65.4 301 65.5 296.5 64.2 289 63.4 284.5 62.1 280 62.5 278.5 61.7 268 61.4 265 60.5 260.5 62.2 257.5 62.4 250 61.8 245.5 63.3 244 63.1 224.5 65.9 221.5 67.6 217 67.8 214 68.6 209.5 71.1 205 72.2 197.5 75.2ZM381.2 91 381.7 90 386.4 90 391 91.9 392.5 92 392.5 93 389.5 93.1 383.5 92.2Z"/>
<path fill="#70ff8f" d="M199.9 73 200.4 72 206.3 69 209.5 68.2 214 65.5 217 64.5 221.5 63.9 224.5 62.3 238 59.8 239.5 59.8 244 58.9 245.5 59.1 250 57.5 257.5 58.1 260.5 57.8 262 56.9 265 56.1 268 56.8 278.5 57.2 280 58 284.5 57.6 289 59 296.5 59.8 301 61.1 305.5 61.1 310 62.8 313 63 320.5 65.5 326.5 66.5 331 68.6 334 68.8 337 69.8 341.1 72 346 75.6 350.5 76.9 352 77.8 356.5 78.6 362.4 81 362.4 82 361 82.8 356.5 81.4 352 80.8 346 78.6 340 74.7 335.5 72.8 331 72.3 326.5 70.3 320.5 69.5 313 67 310 66.9 305.5 65.2 301 65.3 296.5 64 289 63.2 284.5 61.9 280 62.3 278.5 61.5 268 61.2 265 60.3 260.5 62 257.5 62.2 250 61.6 245.5 63 244 62.9 224.5 65.7 221.5 67.3 217 67.6 214 68.3 209 71 202 73.1ZM384.2 91 385 90.6 386.6 91 385 92Z"/>
<path fill="#60ff9f" d="M203.4 71 205 69.8 209.5 68.5 214 65.7 217 64.7 221.5 64.2 224.5 62.5 238 59.9 239.5 60 244 59.1 245.5 59.2 250 57.6 257.5 58.2 260.5 58 262 57.1 265 56.3 268 57 278.5 57.3 280 58.1 284.5 57.8 289 59.1 296.5 59.9 301 61.3 305.5 61.2 310 63 313 63.2 322 66.1 326.5 66.7 331 68.8 335.5 69.5 340 71.5 346 75.8 353.5 78.5 356.9 79 359.5 80 360.8 81 360.7 82 359.5 82.1 356.5 81.1 352 80.4 346 78.4 340 74.4 335.5 72.5 331 72.1 326.5 70.1 320.5 69.2 313 66.8 310 66.7 305.5 64.9 301 65.1 296.5 63.8 289 63 284.5 61.7 280 62.1 278.5 61.3 268 61 265 60.1 260.5 61.8 257.5 62 250 61.4 245.5 62.8 244 62.7 224.5 65.5 221.5 67.1 217 67.3 214 68.1 207.9 71 205 71.3 203.5 72Z"/>
<path fill="#50ffaf" d="M207.9 70 208.7 69 209.5 68.9 214 65.9 215.5 65.7 217 64.9 221.5 64.4 224.5 62.7 238 60.1 239.5 60.2 241 59.7 245.5 59.4 250 57.8 257.5 58.4 260.5 58.2 262 57.2 265 56.4 268 57.2 278.5 57.5 280 58.3 284.5 57.9 289 59.3 296.5 60.1 301 61.5 305.5 61.4 310 63.2 313 63.4 322 66.4 326.5 66.9 331 69 336.3 70 340.4 72 346 76.2 350.5 77.8 352 78.8 353.9 79 354.8 80 352 80 350.5 79.2 346 78.1 340 74.1 335.5 72.2 331 71.8 326.5 69.8 320.5 69 313 66.5 310 66.5 305.5 64.7 301 64.9 296.5 63.6 289 62.8 284.5 61.5 280 61.9 278.5 61.1 268 60.8 265 59.9 260.5 61.6 250 61.2 245.5 62.6 241 62.9 224.5 65.3 221.5 66.8 214 67.6 209.5 70.1Z"/>
<path fill="#40ffbf" d="M214.6 67 215.1 66 221.5 64.7 224.5 62.8 238 60.4 239.5 60.5 241 59.8 245.5 59.6 250 57.9 257.5 58.6 260.5 58.4 262 57.4 265 56.5 268 57.3 278.5 57.6 280 58.5 284.5 58.1 289 59.5 296.5 60.3 301 61.6 305.5 61.6 310 63.4 314.5 64 322 66.6 326 67 331 69.5 335.5 69.9 341.2 73 338.5 73.1 334 71.4 331 71.4 326.5 69.4 321.4 69 313 66.3 310 66.2 305.5 64.5 301 64.7 296.5 63.4 289 62.6 284.5 61.3 280 61.7 278.5 60.9 268 60.6 265 59.7 260.5 61.5 250 61 245.5 62.5 244 62.3 233.5 64 230.5 64 224.5 65 221.5 66.4 218.6 67 217 66.4 215.7 67ZM341.5 74.2 341.2 74 341.5 73.3 341.9 74Z"/>
<path fill="#30ffcf" d="M221.2 66 221.4 65 224.9 63 239.5 60.7 241 60 245.5 59.8 250 58.2 260.5 58.6 262 57.5 265 56.7 268 57.5 278.5 57.8 280 58.6 284.5 58.3 289 59.6 296.5 60.5 301 61.8 305.5 61.7 310 63.6 313.9 64 320.5 66.6 325 67.1 331.4 70 331 70.9 328 69.4 318.9 68 313 66.1 310 66 305.5 64.3 301 64.5 296.5 63.2 289 62.4 284.5 61.1 280 61.5 278.5 60.7 268 60.4 265 59.5 260.5 61.3 257.5 61.4 250 60.7 245.5 62.3 241 62.4 239.5 62.9 238 62.7 233.5 63.5 230.5 63.5 229 64.1 224.5 64.3Z"/>
<path fill="#20ffdf" d="M231.7 63 231.9 62 236.5 61.6 237.3 61 244 59.8 245.5 59.9 250 58.5 260.5 58.7 262 57.7 265 56.8 268 57.7 278.5 57.9 280 58.8 284.5 58.5 289 59.8 298 61 299.5 61.7 305.5 61.9 310 63.9 313.2 64 319.7 67 316.9 67 313 65.5 310 65.5 305.5 64.1 301 64.2 295 62.8 289 62.3 284.5 60.9 280 61.3 278.5 60.5 268 60.3 265 59.3 263.5 59.6 260.5 61.1 257.5 61.3 250 60.4 245.5 62.1 244 61.7 238 62.3 235.8 63Z"/>
<path fill="#10ffef" d="M242.6 61 244 60.5 245.5 60.7 248.5 59 256 58.8 257.5 59.3 260.5 58.9 262 57.9 265 57 268 57.8 274 58.3 277 58 280 58.9 286 59 290.5 60.4 297.1 61 301 62.6 302.5 62.3 307.1 63 307.9 64 306.9 64 305.5 63.2 300.8 64 296.5 62.5 289 62.1 284.5 60.5 283 61.1 280 61.1 278.5 60.3 268 60.1 265 59.1 259.3 61 250 60.2 247 61.1Z"/>
<path fill="#00ffff" d="M261.2 59 262.4 58 265 57.6 272.5 58.6 278.5 58.7 280 59.5 281.5 59 283 59.5 284.5 58.9 289 60.9 292.5 61 287.5 61.1 284.5 60.1 280 60.6 278.5 60.1 270.4 60 265 58.6 262 59.3ZM255 60 260.5 59.5 260.9 60Z"/>
</g></g>
<rect x="87.5" y="33.5" width="497" height="292.5" fill="none" stroke="#303030" stroke-width="1" opacity="0.35"/>
<path d="M99 33.6H87.7V325.8H99" fill="none" stroke="#444" stroke-width="1.3"/>
<path d="M88 131.033h5" stroke="#444" stroke-width="1.2"/>
<path d="M88 228.367h5" stroke="#444" stroke-width="1.2"/>
<text x="78.3" y="42.8" font-size="21" fill="#262626" text-anchor="end">10</text>
<text x="78.3" y="140.133" font-size="21" fill="#262626" text-anchor="end">9</text>
<text x="78.3" y="237.467" font-size="21" fill="#262626" text-anchor="end">8</text>
<text x="78.3" y="334.8" font-size="21" fill="#262626" text-anchor="end">7</text>
<text transform="translate(42.8 180) rotate(-90)" font-size="24.7" fill="#262626" text-anchor="middle">Freq (GHz)</text>
<path d="M88.0 34.0 89.7 38.9 91.4 43.9 93.1 48.8 94.8 53.8 96.6 58.7 98.4 63.7 100.2 68.6 102.0 73.6 103.8 78.5 105.7 83.5 107.5 88.4 109.4 93.4 111.3 98.3 113.3 103.3 115.2 108.2 117.2 113.2 119.2 118.1 121.2 123.1 123.3 128.0 125.4 133.0 127.5 137.9 129.6 142.9 131.8 147.8 133.9 152.8 136.1 157.7 138.4 162.7 140.7 167.6 142.9 172.6 145.3 177.5 147.6 182.5 150.0 187.4 152.4 192.4 154.9 197.3 157.4 202.3 159.9 207.2 162.5 212.2 165.0 217.1 167.7 222.1 170.3 227.0 173.1 232.0 175.8 236.9 178.6 241.9 181.4 246.8 184.3 251.8 187.2 256.7 190.2 261.7 193.2 266.6 196.3 271.6 199.4 276.5 202.6 281.5 205.8 286.4 209.1 291.4 212.5 296.3 215.9 301.3 219.4 306.2 222.9 311.2 226.5 316.1 230.2 321.1 233.9 326.0" fill="none" stroke="#0a0af0" stroke-width="3.6"/>
<path d="M260.5 34.0 261.5 38.9 262.5 43.9 263.5 48.8 264.5 53.8 265.5 58.7 266.5 63.7 267.6 68.6 268.6 73.6 269.7 78.5 270.8 83.5 271.9 88.4 273.0 93.4 274.1 98.3 275.3 103.3 276.4 108.2 277.6 113.2 278.8 118.1 280.0 123.1 281.2 128.0 282.5 133.0 283.7 137.9 285.0 142.9 286.3 147.8 287.6 152.8 288.9 157.7 290.3 162.7 291.7 167.6 293.1 172.6 294.5 177.5 295.9 182.5 297.4 187.4 298.8 192.4 300.3 197.3 301.9 202.3 303.4 207.2 305.0 212.2 306.6 217.1 308.2 222.1 309.9 227.0 311.5 232.0 313.3 236.9 315.0 241.9 316.8 246.8 318.6 251.8 320.4 256.7 322.3 261.7 324.2 266.6 326.1 271.6 328.1 276.5 330.1 281.5 332.1 286.4 334.2 291.4 336.4 296.3 338.5 301.3 340.8 306.2 343.0 311.2 345.3 316.1 347.7 321.1 350.1 326.0" fill="none" stroke="#140606" stroke-width="3.2" stroke-dasharray="2.7 2.7"/>
<text x="445.3" y="86.7" font-size="27" font-style="italic" fill="#d9d2d2" textLength="132.8" lengthAdjust="spacingAndGlyphs">w=2.7 mm</text>
<text x="122.8" y="294.5" font-size="27" fill="#0a0000" textLength="56" lengthAdjust="spacingAndGlyphs"><tspan font-style="italic">m</tspan>=0</text>
<text x="479.9" y="292.9" font-size="27" fill="#0a0000" textLength="89.5" lengthAdjust="spacingAndGlyphs"><tspan font-style="italic">m</tspan>=-1,0</text>
<use href="#xm" x="266.3" y="58.2" fill="#0a0a0a"/>
<g clip-path="url(#c1)"><g filter="url(#bl)">
<rect x="93" y="345" width="497.5" height="304" fill="#880000"/>
<path fill="#8f0000" d="M116.2 415 116.5 413.9 118 412.9 119.5 412.6 139 412.7 140.5 412.1 170.5 378.8 178 373.8 188.5 364 190.1 362 191.1 359 190.9 357 190 355.4 185 352 177.3 349 586 349 586 373.6 542.5 373.4 498.9 375 488.5 376.2 480.6 378 478 379 475 380.9 474.1 382 473.4 384 473.6 386 475 388.9 479.4 394 488.9 402 500.5 410.3 550 433 586 441.6 586 508.2 550 515 529 522.3 499 531.9 455.5 551.9 442 559 431.5 565.8 421 574.2 418 575.7 400 589.1 388 590.9 385 592.2 379 592.7 367 592.8 362.5 592.5 359.5 591.5 350.5 590.5 334 590.3 331 589.9 299.5 590 275.5 586.5 262 585.3 251.5 583.8 241 583.1 238 582.3 226 582.7 220 583.5 200.5 580.1 196 578.1 193 575.4 187 568.4 181 559.9 166.6 537 139.5 489 132 470 122 441 116.5 421.4Z"/>
<path fill="#9f0000" d="M271.2 349 586 349 586 366.5 436 365.8 400 365.1 355 360.9 334 359.9 301 357.4 284.5 353.7ZM124.7 438 125.5 435.6 127 435 139 434.8 140.5 434.4 170.5 410.4 178 407.1 181 404.7 187 401.3 190 400.8 208 389.4 211 387.1 220 381.7 232 378.7 235 379.1 238 378.7 241 377.6 245.5 377.3 251.5 377.8 271 377.2 281.5 376 284.5 375.2 299.5 374.6 323.5 380.3 338.5 382.8 347.5 385.4 350.5 387 359.5 389.4 362.5 389.2 374.5 392.4 385 393.5 388 394.8 392.5 394.8 395.5 394 400 393.8 404.5 395.6 417.1 398 421 397.5 425.5 398.2 428.5 399.5 439 402.2 449.5 406.2 500.5 430.6 550 446.5 586 453 586 499.2 550 504.3 529 509.6 499 516.2 458.5 529 445 533.8 432.1 540 428.5 542.1 425.5 545 421 547.7 418 548.1 412 552.3 403 557 400 559.3 395.5 560.1 392.5 559.4 388 560.1 385 562.2 379 562.6 362.5 562 359.5 560.1 350.5 558.6 347.5 559.2 334 558.6 331 557.6 299.5 557.3 284.5 555.7 281.5 554.7 275.5 553.6 265 553 262 553.3 251.5 551.7 245.5 552.2 241 551.8 238 550.4 235 550.3 232 551.6 226 551.4 220 552.5 211 552 208 551.2 194.5 551.2 190 550.3 187 551.9 184 551.6 181 550.8 175 545.4 170.5 539.6 156.6 517 141.2 490 136.9 480 129.3 458 125.5 444.8Z"/>
<path fill="#af0000" d="M331.6 349 586 349 586 362.4 500.5 361.8 425.5 359.1 398.5 357.5 365.5 353.7ZM129.5 449 130 447.4 131.5 446.6 140.5 446 164.5 430.7 169 427.3 178 423.9 181 421.4 187 418.5 190 418.8 194.5 415.8 208 408.8 211 406.4 220 401.8 226 400.8 229 399.5 232 399 235 399.9 238 399.6 241 398 245.5 397.9 251.5 398.9 262 398.5 265 399 271 399.2 281.5 398.2 284.5 397.3 299.5 397.6 323.5 402.8 331 404.1 334 403.7 338.5 404.5 347.5 407 350.5 408.7 359.5 410.7 362.5 409.9 370 412.2 374.5 413 385 413.7 388 415.6 392.5 415.5 395.5 414.3 400 414.2 403 415.5 406 415.9 409 415.6 418 416.8 421 415.4 425.5 415.6 428.5 416.9 437.5 418.1 446.5 420.4 455.5 423.4 500.5 440.7 550 453.5 586 458.9 586 494.4 550 498.7 527.5 503.3 500.5 507.8 454.1 519 443.5 522.2 434.5 525.7 428.5 528.7 425.5 531.6 421 534.1 418 533.8 409 539.3 406 540 403 541.5 400 544 395.5 544.6 392.5 543.4 388 544.1 385 546.9 379 547.2 376 546.6 370 546.3 367 546.8 362.5 546.3 359.5 543.7 350.5 541.9 347.5 542.9 341.5 542.2 334 542.2 331 540.8 319 540.3 316 540.8 299.5 540.5 284.5 539 281.5 537.7 278.5 537.5 275.5 536.5 265 536.1 262 536.6 251.5 535.1 245.5 536 241 535.7 238 533.7 235 533.7 232 535.4 229 535.7 226 535.1 220 536.4 211 536.5 208 535.6 203.5 535.8 200.5 536.5 194.5 536.6 190 535.8 187 538.2 181 538.1 178 536.8 172 535.9 167.5 531.5 158.5 518.2 144.1 494 139.6 485 134 469 130 455.4Z"/>
<path fill="#bf0000" d="M374.8 349 586 349 586 359.3 500.5 358.8 454 356.8 400 353ZM132.6 457 133 455.3 134.5 454.3 140.5 453.7 164.5 440.8 169 437.7 172 436.6 175 436.2 178 435 181 432.3 187 429.7 190 430.6 194.5 427.7 208 421.5 211 419 220 414.9 226 414 229 412.6 232 412.1 235 413.3 238 413.1 241 411.1 245.5 411 251.5 412.5 262 412.1 265 412.9 275.5 413 278.5 412.1 281.5 412 284.5 410.9 298 411.3 304 412.1 316 414.8 319 415.9 331 417.9 334 417.1 338.5 417.9 347.5 420.4 350.5 422.4 355 423.5 359.5 424.2 362.5 422.8 373 425.7 385 426.4 388 428.7 392.5 428.6 395.5 427 400 426.9 403 428.4 406 428.6 409 427.9 418 428.6 421 426.6 425.5 426.6 428.5 427.8 439 428.7 455.5 432.7 500.5 447.2 550 458.1 586 463 586 491.2 550 495 529 498.6 500.5 502.5 451.7 512 442 514.5 434.5 517.1 428.5 519.9 425.5 522.8 421 525.1 418 524.4 409 529.6 406 530.1 403 531.5 400 533.9 395.5 534.4 392.5 532.9 388 533.5 385 536.8 379 537.1 376 536.3 370 536 367 536.5 362.5 536 359.5 533 355 531.7 350.5 531 347.5 532.2 341.5 531.4 338.5 531.7 334 531.4 331 529.8 319 529.2 316 529.7 299.5 529.4 284.5 528.1 281.5 526.6 278.5 526.4 275.5 525.2 265 525 262 525.8 251.5 524.2 245.5 525.4 241 525.1 238 522.7 235 522.7 232 524.8 229 525.1 226 524.4 220 525.9 211 526.4 208 525.4 203.5 525.8 200.5 526.7 194.5 527.1 190 526.3 187 529.1 181 529.4 178 528 172 528.5 167.5 526.6 161.5 520.3 157 514 145.9 496 141 487 138.3 480 133 462Z"/>
<path fill="#cf0000" d="M406.1 349 586 349 586 356.6 499 356.3 442.6 353 420.9 351ZM134.9 463 136 460.4 140.5 459.4 152.5 453.5 164.5 448.2 169 445.3 172 444.4 175 444.3 178 443.1 181 440.3 187 437.8 190 439.2 194.5 436.3 208 430.8 211 428.2 220 424.5 226 423.6 229 422.1 232 421.6 235 423.2 238 423 241 420.7 245.5 420.7 251.5 422.4 262 422 265 423 271 423.4 275.5 423.3 278.5 422.2 281.5 422.1 284.5 420.8 290.5 420.8 304 422.1 316 424.9 319 426.1 331 427.9 334 426.9 338.5 427.6 341.5 428.8 347.5 430.1 350.5 432.3 355 433.4 359.5 434 362.5 432.2 367 433.2 370 434.6 376 435.6 385 435.6 388 438.3 392.5 438.1 395.5 436.3 400 436.2 403 437.7 406 437.7 409 436.8 412 436.7 415 437.3 418 437.1 421 434.8 425.5 434.5 428.5 435.7 434.5 435.7 442 436.6 457 439.9 500.5 452 550 461.5 586 466 586 488.7 550 492.3 527.5 495.6 500.5 498.6 449.5 506.8 434.5 510.8 428.5 513.4 425.5 516.3 421 518.5 418 517.6 412 521.3 409 522.6 406 522.8 403 524.2 400 526.6 395.5 526.9 392.5 525.1 388 525.8 385 529.4 379 529.7 376 528.8 370 528.5 367 529.1 362.5 528.4 359.5 525.2 355 523.7 350.5 523 347.5 524.4 341.5 523.5 338.5 523.8 334 523.6 331 521.8 319 521.1 316 521.7 299.5 521.3 284.5 520.1 281.5 518.5 278.5 518.3 275.5 517 265 516.9 262 517.8 260.5 517.7 256 516.6 251.5 516.2 245.5 517.7 241 517.4 238 514.7 235 514.7 232 517.1 229 517.4 226 516.6 223 517.1 220 518.2 211 519 208 518 203.5 518.5 200.5 519.6 194.5 520.1 191.5 519.3 190 519.4 187 522.5 181 522.9 178 521.6 172 522.4 167.5 521.3 161.5 517.2 157 512.2 148.9 500 142.9 490 139.9 483 135.9 470Z"/>
<path fill="#df0000" d="M440.1 349 586 349 586 354.2 500.5 354.2 460 351.4ZM136.8 468 137.1 466 137.8 465 152.5 458.5 164.5 453.9 167.5 451.9 170.5 450.8 175 450.5 178 449.4 181 446.6 187 444.2 190 445.9 191.5 445.3 194.5 443.1 200.5 440.4 203.5 439.9 208 438 211 435.4 220 431.9 226 431.1 229 429.5 232 429 235 430.8 238 430.6 241 428.1 245.5 428.1 251.5 430.2 256 430.3 262 429.7 265 430.8 272.5 431.3 275.5 431.2 278.5 430 281.5 430 284.5 428.4 290.5 428.5 304 429.9 316 432.7 319 434 331 435.7 334 434.4 338.5 435.1 341.5 436.3 347.5 437.6 350.5 440 355 441.1 359.5 441.5 362.5 439.4 367 440.4 370 442 376 442.9 385 442.8 388 445.7 392.5 445.4 395.5 443.5 400 443.4 403 445 406 444.8 409 443.6 412 443.5 415 444.1 418 443.8 421 441.2 425.5 440.7 428.5 441.8 434.5 441.6 442 442.3 457 445.1 500.5 455.8 529 460.3 550 464.2 586 468.4 586 486.8 550 490.1 527.5 493.1 500.5 495.6 449.5 502.4 434.5 505.9 428.5 508.3 425.5 511.2 421 513.4 418 512.3 412 515.9 409 517 406 517.2 403 518.5 400 521 395.5 521.1 392.5 519.2 388 519.9 385 523.6 379 524 375.8 523 370 522.6 367 523.2 362.5 522.6 359.5 519.1 355 517.6 350.5 516.8 347.5 518.3 341.5 517.3 338.5 517.7 334 517.4 331 515.6 319 514.8 316 515.4 304 515.3 284.5 513.8 281.5 512.2 278.5 512 275.5 510.7 268 510.9 265 510.6 262 511.6 260.5 511.6 256 510.5 251.5 510 245.5 511.7 241 511.3 238 508.4 235 508.4 232 511 229 511.3 226 510.5 223 511 220 512.2 211 513.2 208 512.3 203.5 512.9 200.5 514 194.5 514.7 191.5 513.9 190 514 187 517.2 181 517.9 178 516.7 172 517.7 167.5 516.7 160 512.8 157 510.2 152.5 504.5 144.4 492 141.4 486 137.5 473.1Z"/>
<path fill="#ef0000" d="M472.8 349 586 349 586 351 500.5 352.1 486.7 351ZM138.4 471 139 468.9 142 466.9 152.5 462.6 164.5 458.5 167.5 456.6 170.5 455.7 175 455.6 178 454.5 181 451.7 187 449.4 190 451.3 194.5 448.5 200.5 446 203.5 445.6 208 443.8 211 441.1 220 437.8 226 437.1 229 435.4 232 434.9 235 436.9 238 436.7 241 434.1 245.5 434.2 251.5 436.3 256 436.6 262 435.9 265 437.1 272.5 437.7 275.5 437.6 278.5 436.3 281.5 436.3 284.5 434.6 290.5 434.7 304 436.2 316 439 319 440.3 331 442 334 440.5 338.5 441.1 341.5 442.4 347.5 443.7 350.5 446.2 355 447.3 359.5 447.6 362.5 445.3 367 446.3 370 448 376 448.8 385 448.6 388 451.7 392.5 451.3 395.5 449.2 400 449.3 403 450.8 406 450.5 409 449.2 412 449 415 449.6 418 449.1 421 446.3 425.5 445.7 428.5 446.7 434.5 446.3 442 446.9 457 449.3 500.5 458.8 527.5 462.6 550 466.4 586 470.5 586 485.1 550 488.4 527.5 491.1 500.5 493.2 448 499.1 434.5 501.9 428.5 504.2 425.5 507.1 421 509.2 418 508 412 511.6 409 512.6 406 512.7 403 514 400 516.4 395.5 516.5 392.5 514.4 388 515.1 385 518.9 379 519.3 374.5 518.2 370 517.9 367 518.5 362.5 517.8 359.5 514.2 355 512.7 350.5 511.9 347.5 513.4 341.5 512.4 338.5 512.7 334 512.4 331 510.6 319 509.8 316 510.4 313 510 310 510.4 284.5 508.8 281.5 507.1 278.5 507 275.5 505.6 268 505.9 265 505.6 262 506.7 260.5 506.7 256 505.5 251.5 505 245.5 506.8 241 506.4 238 503.4 235 503.4 232 506.1 229 506.4 226 505.6 224.5 505.8 220 507.3 211 508.6 208 507.7 203.5 508.4 200.5 509.5 194.5 510.4 191.5 509.6 190 509.7 187 513 181 513.8 178 512.7 172 513.8 167.5 512.9 158.5 509.1 155.5 506.8 152.5 503.3 146.1 494 142.7 488 139.9 480 138.7 475Z"/>
<path fill="#ff0000" d="M139.6 474 140.1 472 140.9 471 145 468.8 164.5 462.3 169 460.1 172 459.6 175 459.9 178 458.7 181 455.9 187 453.7 190 455.7 191.5 455.2 194.5 453 200.5 450.6 203.5 450.3 208 448.6 211 445.9 214 444.6 220 442.8 226 442 229 440.3 232 439.8 235 441.8 238 441.7 241 439 245.5 439.2 251.5 441.4 256 441.7 262 441.1 265 442.2 272.5 443 275.5 442.8 278.5 441.5 281.5 441.5 284.5 439.7 304 441.4 316 444.1 319 445.5 331 447.2 334 445.5 338.5 446.1 341.5 447.4 347.5 448.8 350.5 451.3 355 452.3 359.5 452.6 362.5 450.2 367 451.2 370.8 453 376 453.6 385 453.4 388 456.5 392.5 456 395.5 454 400 454.1 403 455.6 406 455.2 409 453.8 412 453.6 415 454.1 418 453.4 421 450.6 425.5 449.8 428.5 450.8 437.5 450.2 449.5 451.5 500.5 461.3 527.5 464.7 550 468.2 586 472.3 586 483.7 529 489.3 500.5 491.2 457.9 495 442 497 434.5 498.6 428.5 500.8 425.5 503.6 421 505.7 418 504.5 412 508 409 508.9 406 509 403 510.4 400 512.7 395.5 512.6 392.5 510.5 388 511.2 385 515 379 515.5 376 514.4 370 514 367 514.6 362.5 513.8 359.5 510.3 355 508.7 350.5 507.9 347.5 509.4 341.5 508.3 338.5 508.6 334 508.3 331 506.5 319 505.7 316 506.3 313 505.9 310 506.3 284.5 504.6 281.5 502.9 278.5 502.8 275.5 501.4 268 501.9 265 501.4 260.5 502.7 256 501.5 251.5 500.9 245.5 502.7 241 502.3 238 499.3 235 499.3 232 502 229 502.4 226 501.6 224.5 501.7 220 503.3 211 504.7 208 504 203.5 504.7 199 506.2 194.5 506.8 190 506.2 187 509.5 181 510.4 178 509.5 172 510.6 167.5 509.7 164.5 508.3 157 506 152.5 502.1 146.5 494 143 488 140.4 480Z"/>
<path fill="#ff1000" d="M140.5 477 141.2 474 143.5 472.1 155.5 467.9 164.5 465.5 169 463.4 172 463.1 175 463.5 178 462.3 181 459.4 187 457.3 190 459.3 191.5 458.9 194.5 456.8 200.5 454.4 203.5 454.2 208 452.6 211 449.9 217 447.6 226 446.2 229 444.4 232 443.9 235 445.9 238 445.8 241 443.1 245.5 443.4 251.5 445.7 256 446 262 445.3 265 446.4 271 447.3 275.5 447.2 278.5 445.8 281.5 445.8 284.5 444 298 444.9 304 445.7 316 448.5 319 449.9 331 451.4 334 449.7 338.5 450.2 341.5 451.5 347.5 453 350.5 455.5 355 456.5 359.5 456.8 362.5 454.3 367 455.3 370 457 376 457.7 385 457.4 388 460.5 392.5 460 395.5 458 400 458.2 403 459.6 406 459.1 409 457.6 412 457.4 415 457.9 418 457 421 454.1 425.5 453.2 428.5 454.1 434.5 453.4 449.5 454.5 500.5 463.4 586 473.8 586 482.4 529 487.9 454 493 442 494.4 434.5 495.8 428.5 497.9 425.5 500.7 421 502.8 418 501.6 412 505.1 409 505.9 406 506 403 507.4 400 509.6 395.5 509.4 392.5 507.2 388 507.9 385 511.8 379 512.3 376 511.1 370 510.8 367 511.3 362.5 510.5 359.5 507 355 505.3 350.5 504.5 347.5 506.1 341.5 504.8 338.5 505.1 334 504.8 331 503.1 319 502.2 316 502.8 313 502.4 310 502.8 284.5 501 281.5 499.5 278.5 499.3 275.5 498 268 498.5 265 497.9 260.5 499.4 256 498.1 251.5 497.5 245.5 499.4 241 498.9 238 495.9 235 495.9 232 498.5 229 498.9 226 498.2 224.5 498.3 220 500 217 500.1 211 501.5 208 500.9 203.5 501.7 199 503.2 194.5 503.8 190 503.3 187 506.5 181 507.5 178 506.8 172 508 167.5 507.1 164.5 505.8 157 503.9 152.5 500.9 148 495.5 143.9 489 141.5 483Z"/>
<path fill="#ff2000" d="M141.4 479 142 475.8 143.5 474.4 152.5 471.2 164.5 468.2 169 466.2 172 466 175 466.5 178 465.3 181 462.5 187 460.4 190 462.4 191.5 462 194.5 459.9 200.5 457.6 203.5 457.5 208 455.9 211 453.3 217 451 226 449.6 229 447.9 232 447.3 235 449.3 238 449.3 241 446.6 245.5 447 251.5 449.2 256 449.6 262 448.9 265 450 271 451 275.5 450.8 278.5 449.4 281.5 449.4 284.5 447.6 298 448.5 305.5 449.7 316 452.1 319 453.5 331 455.1 334 453.2 338.5 453.7 341.5 455 347.5 456.5 350.5 459 355 460 358 459.9 359.5 460.3 362.5 457.8 367 458.8 370 460.5 376 461.2 385 460.8 388 463.8 392.5 463.3 395.5 461.3 400 461.6 403 463 406 462.3 409 460.7 412 460.6 415 461.1 418 460 421 457.2 425.5 456.2 428.5 456.9 434.5 456 442 456.4 458.5 458.3 499.2 465 529 468.1 549.4 471 575.5 473.8 586 475.5 586 481.1 579.4 482 529 486.7 454 491 437.5 492.8 428.5 495.5 425.5 498.2 421 500.3 418 499.1 412 502.6 406 503.4 400 507 395.5 506.7 392.5 504.5 388 505.2 385 509 379 509.6 376 508.4 370 508.1 367 508.5 362.5 507.6 359.5 504.2 355 502.6 350.5 501.8 347.5 503.3 341.5 501.9 334 501.9 331 500.3 319 499.4 316 499.9 313 499.4 310 499.9 307 499.4 301 499.4 295 498.6 284.5 498 281.5 496.6 278.5 496.4 275.5 495.1 268 495.7 265 495 260.5 496.6 251.5 494.6 245.5 496.5 241 495.9 238 493 235 493 232 495.6 229 496 224.5 495.4 220 497.2 217 497.3 211 498.8 208 498.3 194.5 501.3 190 500.9 187 504 181 505.1 178 504.5 173.5 505.8 172 505.7 157 502 152.5 499.7 149.5 496.7 144.7 490 142.2 484Z"/>
<path fill="#ff3000" d="M142 480 142.5 478 143.5 476.6 152.5 473.3 164.5 470.5 169 468.6 172 468.5 175 469.1 178 467.8 181 465.1 185.5 463.3 187 463 190 464.9 191.5 464.6 194.5 462.6 200.5 460.3 203.5 460.3 208 458.8 211 456.2 217 453.8 226 452.5 229 450.8 232 450.2 235 452.2 238 452.1 241 449.6 245.5 450 253 452.4 256 452.7 262 452 271 454.1 275.5 453.8 278.5 452.4 281.5 452.5 284.5 450.6 296.5 451.5 305.5 452.7 316 455.2 319 456.6 331 458.1 334 456.2 338.5 456.7 344.5 458.9 347.5 459.5 350.5 461.9 355 462.9 358 462.8 359.5 463.2 362.5 460.8 367 461.8 370 463.6 377.5 464.2 385 463.7 388 466.6 392.5 466 395.5 464.2 400 464.5 403 465.8 406 465.1 409 463.4 412 463.3 415 463.8 418 462.6 421 459.8 425.5 458.6 428.5 459.2 434.5 458.3 449.5 459.2 499 466.5 529 469.3 574 474.9 583.2 477 584.1 478 584.1 479 582.8 480 577.9 481 535 485.2 454 489.3 437.5 490.9 428.5 493.4 425.5 496.1 421 498.2 418 497 412 500.5 406 501.2 400 504.8 395.5 504.4 392.5 502.3 388 502.9 385 506.6 380.5 507.3 379 507.3 376 506 367 506.1 362.5 505.2 359.5 501.9 355 500.3 350.5 499.5 347.5 500.9 346 500.8 341.5 499.5 334 499.3 331 498 326.5 497.4 319 497 316 497.5 313 496.9 310 497.4 305.5 496.7 301 496.9 295 496 284.5 495.4 281.5 494.1 280 494.3 275.5 492.7 268 493.3 265 492.6 260.5 494.3 251.5 492.2 245.5 494.1 241 493.5 238 490.6 235 490.6 232 493 229 493.6 224.5 492.9 220 494.8 214 495.4 211 496.5 208 496.2 205 496.6 199 498.5 194.5 499.2 190 498.9 187 501.8 181 503 178 502.6 173.5 504 157 500.4 154 499.4 151 497.4 148 494.2 144.5 489 142.6 484Z"/>
<path fill="#ff4000" d="M142.8 482 143.3 479 144.3 478 152.5 475 164.5 472.5 169 470.7 172 470.7 175 471.3 178 470 181 467.3 184 466 187 465.2 190 467.1 191.5 466.8 194.5 464.9 200.5 462.7 203.5 462.7 208 461.2 211 458.6 217 456.2 226 455 229 453.3 232 452.7 235 454.6 238 454.6 241 452.2 245.5 452.6 253 455 256 455.3 262 454.6 271 456.7 275.5 456.4 278.5 455 281.5 455.1 284.5 453.2 296.5 454.1 305.5 455.3 322 459.7 331 460.7 334 458.7 338.5 459.2 344.5 461.5 347.5 462.1 350.5 464.3 355 465.3 358 465.3 359.5 465.7 362.5 463.4 367 464.4 370 466.1 377.5 466.7 385 466.2 388 468.9 392.5 468.3 395.5 466.6 397 467.1 400 467 403 468.2 406 467.3 409 465.7 415 466.1 418 464.7 421 462 425.5 460.8 428.5 461.2 434.5 460.2 448 460.9 492.4 467 529 470.4 565.2 475 575.3 477 576.3 478 576.3 479 574.8 480 569.1 481 533.5 484.5 451 488 437.5 489.2 428.5 491.6 425.5 494.2 421 496.4 418 495.3 413.5 498.3 406 499.4 400 502.9 397 502.9 395.5 502.4 392.5 500.4 388 501 385 504.5 380.5 505.4 379 505.3 376 503.9 367 504 362.5 503.1 359.5 500 356.5 498.7 350.5 497.5 347.5 498.9 346 498.9 341.5 497.4 334 497.2 331 496 326.5 495.3 319 495 316 495.4 313 494.8 310 495.3 305.5 494.5 301 494.8 296.5 494 284.5 493.2 281.5 492.1 280 492.3 275.5 490.7 268 491.3 265 490.5 260.5 492.3 251.5 490.2 245.5 492 241 491.3 238 488.5 235 488.5 232 490.9 229 491.5 224.5 490.8 220 492.8 217 492.7 214 493.3 211 494.6 208 494.3 205 494.8 199 496.6 194.5 497.4 190 497.2 187 500 185.5 499.9 181 501.3 178 501 173.5 502.4 154 498.2 151 496.5 148 493.5 145 489.3 143.3 485Z"/>
<path fill="#ff5000" d="M143.4 483 143.5 481 145 479.2 152.5 476.5 158.5 475 164.5 474.2 169 472.5 170.5 472.4 175 473.3 178 471.9 181 469.2 185.5 467.4 187 467.2 190 469 191.5 468.7 194.5 466.8 200.5 464.6 203.5 464.7 208 463.3 211 460.7 214 459.2 217 458.3 221.5 458 226 457.1 229 455.4 232 454.8 235 456.6 238 456.6 241 454.3 245.5 454.9 253 457.1 257.5 457.5 262 456.8 271 458.9 275.5 458.5 278.5 457.2 281.5 457.3 284.5 455.5 296.5 456.4 305.5 457.6 322 461.9 331 462.9 334 460.9 338.5 461.3 344.5 463.8 347.5 464.3 350.5 466.4 355 467.4 356.5 467.2 359.5 467.8 362.5 465.6 365.5 466 370 468.4 377.5 469 385 468.4 388 470.9 392.5 470.3 395.5 468.7 397 469.3 400 469.2 403 470.3 409 467.7 415 468.1 418 466.5 421 463.9 425.5 462.6 428.5 462.9 434.5 461.9 449.5 462.5 490.8 468 536.5 472.3 563.1 476 567.3 477 568.5 478 568.5 479 566.7 480 533.5 483.7 451 486.7 437.5 487.8 428.5 490 425.5 492.6 421 494.8 418 493.8 413.5 496.8 406 497.8 400 501.3 397 501.3 392.5 498.7 388 499.4 385 502.7 380.5 503.7 377.5 503.1 376 502.2 367 502.2 365.5 501.6 362.5 501.3 359.5 498.3 356.5 497 350.5 495.9 347.5 497.2 346 497.2 341.5 495.6 334 495.3 326.5 493.5 322 493.7 319 493.3 316 493.6 313 492.9 310 493.5 305.5 492.6 301 493 296.5 492.1 284.5 491.3 281.5 490.3 280 490.5 275.5 489 268 489.7 265 488.7 260.5 490.6 251.5 488.4 250 488.5 245.5 490.2 241 489.5 238 486.8 235 486.8 232 489 229 489.6 224.5 489 221.5 490.6 214 491.5 211 492.9 205 493.3 194.5 495.9 190 495.7 187 498.4 185.5 498.3 181 499.7 178 499.6 173.5 501.1 154 497 151 495.6 148 492.9 145.9 490 144 486Z"/>
<path fill="#ff6000" d="M144 484 144.3 482 145 480.8 152.5 477.9 158.5 476.4 164.5 475.6 169 474 170.5 473.9 175 475 178 473.6 181 470.9 184 469.6 187 468.9 190 470.5 191.5 470.3 194.5 468.5 200.5 466.3 203.5 466.4 208 465.1 211 462.5 214 460.9 217 460.1 223 459.6 226 458.9 229 457.3 232 456.6 235 458.4 238 458.3 241 456.2 244 456.5 253 459 257.5 459.5 260.5 459.3 262 458.7 271 460.7 275.5 460.4 278.5 459.1 280 459.5 281.5 459.3 284.5 457.4 296.5 458.3 301 459.3 305.5 459.5 314.5 461.5 319 463.3 322 463.8 326.5 463.9 331 464.8 334 462.7 338.5 463.2 344.5 465.7 347.5 466.3 350.5 468.2 355 469.2 356.5 469 359.5 469.6 362.5 467.5 365.5 467.9 370 470.3 377.5 470.9 385 470.2 388 472.6 392.4 472 395.5 470.5 397 471.1 400 471 403 472.1 409 469.3 415 469.8 418 468.1 421 465.6 425.5 464.2 428.5 464.4 434.5 463.3 449.5 463.9 490.4 469 533.5 472.7 555.9 476 559.6 477 560.6 478 560.6 479 559 480 556 480.6 530.5 483.3 451 485.6 437.5 486.5 428.5 488.7 425.5 491.2 421 493.4 418 492.5 413.5 495.6 406 496.4 400 499.9 397 500 392.5 497.4 388 497.9 385 501.2 380.5 502.2 377.5 501.7 376 500.7 367 500.7 365.5 500 362.5 499.7 359.5 496.9 356.5 495.6 350.5 494.5 347.5 495.8 346 495.8 341.5 494 334 493.7 326.5 492 316 492.1 313 491.3 310 492 305.5 491 301 491.4 296.5 490.5 289 490.3 283 489.4 281.5 488.8 280 489 275.5 487.5 268 488.2 265 487.2 260.5 489.2 251.5 486.9 250 487 245.5 488.7 241 487.8 238 485.3 235 485.3 232 487.4 229 488 224.5 487.5 221.5 489.1 214 489.9 211 491.5 205 491.9 194.5 494.6 190 494.5 187 497 185.5 496.9 181 498.4 178 498.4 173.5 499.9 169 498.6 154 496 151 494.8 146.5 490.4 145 487.6Z"/>
<path fill="#ff7000" d="M144.7 484 145 482.6 146.5 481.2 152.5 479 158.5 477.6 164.5 476.9 169 475.3 170.5 475.3 173.5 476.4 175 476.4 178 475 181 472.4 185.5 470.5 187 470.3 190 471.9 191.5 471.7 194.5 470 200.5 467.8 203.5 467.9 208 466.6 211 464.1 214 462.4 217 461.6 223 461.2 232 458.2 235 459.9 238 459.8 241 457.9 244 458.1 256 461.1 260.5 461 262 460.4 271 462.4 275.5 461.9 278.5 460.7 280 461.2 281.5 460.9 284.5 459.1 296.5 460 301 461.1 305.5 461.2 310 462.5 314.5 463.2 319 464.9 322 465.5 326.5 465.5 331 466.4 334 464.4 337 464.5 340 465.2 346 467.9 347.5 467.9 352 470.3 355 470.7 356.5 470.4 359.5 471.2 362.5 469.2 365.5 469.5 370 472 380.5 472.5 385 471.8 388 474 391 473.8 395.5 472.1 397 472.8 400 472.7 403 473.6 409 470.8 415 471.3 421 467.1 425.5 465.5 428.5 465.6 433 465.1 434.5 464.5 437.5 464.4 454 465.5 499 470.7 532 473.3 549.3 476 553.5 477 554.6 478 554.6 479 552.9 480 541 481.7 529 482.8 451 484.7 437.5 485.4 434.5 485.9 433 486.8 429.8 487 427 488.4 425.5 490 421 492.2 418 491.3 413.5 494.5 406 495.2 400 498.7 397 498.8 392.5 496.2 388 496.7 385 499.8 380.5 500.9 377.5 500.4 376 499.3 367 499.4 365.5 498.6 362.5 498.3 359.5 495.7 356.5 494.3 350.5 493.3 347.5 494.5 346 494.5 341.5 492.7 334 492.3 326.5 490.7 316 490.8 313 490 310 490.7 305.5 489.5 301 490 296.5 489 289 488.8 281.5 487.5 280 487.8 275.5 486.3 268 487 265 485.8 260.5 487.9 251.5 485.6 250 485.6 245.5 487.3 241 486.5 239.5 485.6 238 484 235 484 232 486 229 486.6 224.5 486.1 220 488.2 217 487.9 214 488.6 211 490.2 205 490.8 194.5 493.5 190 493.4 187 495.8 185.5 495.7 179.5 497.5 178 497.4 173.5 499 169 497.5 154 495.2 151 494 148 491.6 146.5 489.7 145 486.3Z"/>
<path fill="#ff8000" d="M145.4 485 146.5 482.6 152.5 480.1 158.5 478.6 164.5 478 169 476.5 170.5 476.5 173.5 477.7 175 477.7 178 476.2 181 473.7 185.5 471.7 188.5 472 190 473.1 191.5 472.9 194.5 471.2 200.5 469.1 203.5 469.2 208 468 211 465.5 214 463.8 217 462.9 221.5 462.9 232 459.6 235 461.1 238 461.1 241 459.3 244 459.6 256 462.5 260.5 462.6 262 461.8 271 463.8 274 463.6 278.5 462.1 280 462.7 281.5 462.4 284.5 460.6 296.5 461.5 301 462.6 305.5 462.6 310 464 314.5 464.6 319 466.3 322 466.9 326.5 466.9 331 467.8 334 465.8 337 465.9 340 466.6 346 469.4 347.5 469.4 352 471.6 355 472 356.5 471.7 359.5 472.5 362.5 470.6 365.5 471 370 473.5 374.5 473.4 377.5 474.1 380.5 474.1 385 473.2 388 475.2 391 475.1 395.5 473.5 397 474.3 400 474.1 403 474.9 409 472 415 472.6 421 468.3 425.5 466.7 437.5 465.5 454 466.5 493.3 471 529 473.6 542.5 475.7 547.5 477 548.8 478 548.8 479 546.8 480 539.5 481.3 529 482.3 449.5 483.9 437.5 484.5 434.5 484.9 433 485.8 429.8 486 427 487.4 425.5 488.9 421 491.2 418 490.4 413.5 493.6 406 494.2 404.5 495.4 400 497.7 397 497.7 392.5 495.1 391 495.6 388 495.7 385 498.6 380.5 499.8 377.5 499.3 376 498.2 367 498.2 365.5 497.3 362.5 497.1 359.5 494.6 356.5 493.2 350.5 492.2 347.5 493.4 346 493.5 341.5 491.5 334 491 326.5 489.6 322 489.9 319 489.4 316 489.6 313 488.8 310 489.5 305.5 488.3 301 488.8 296.5 487.8 289 487.6 281.5 486.3 280 486.7 275.5 485.2 268 485.9 265 484.7 260.5 486.9 257.5 486.4 256 485.6 251.5 484.5 250 484.5 245.5 486.2 241 485.2 239.5 484.5 238 482.9 235 482.9 232 484.7 229 485.4 224.5 484.9 221.5 486.7 218.5 487.1 217 486.7 215.5 487.4 214 487.4 209.5 489.5 205 489.8 194.5 492.5 190 492.4 187 494.7 185.5 494.6 181 496.2 178 496.5 173.5 498.1 169 496.6 161.5 495.8 154 494.4 151 493.3 148.1 491 146.6 489Z"/>
<path fill="#ff8f00" d="M146.3 486 146.5 484.3 148 483 155.5 480.2 160 479.3 164.5 479 169 477.5 170.5 477.6 173.5 478.9 175 478.9 178 477.3 181 474.8 185.5 472.8 188.5 473.1 190 474.1 191.5 474 194.5 472.4 200.5 470.2 203.5 470.4 208 469.2 214 464.9 217 464.1 221.5 464.2 224.5 462.9 226 463 230.5 461 232 460.8 235 462.3 236.5 462.4 239.5 461.7 241 460.6 250 462.1 253 463.3 257.5 464.1 260.5 464 262 463.1 263.5 463.2 271 465 274 464.9 278.5 463.3 280 464 282.8 463 284.5 461.8 296.5 462.8 301 464 305.5 463.9 310 465.4 314.5 465.9 319 467.6 322 468.2 326.5 468 331 469.1 334 467 335.5 467 340 467.8 346 470.8 347.5 470.7 352 472.8 355 473.1 356.5 472.9 359.5 473.7 362.5 471.9 365.5 472.3 370 474.8 374.5 474.6 377.5 475.4 380.5 475.4 385 474.4 388 476.3 391 476.2 395.5 474.7 397 475.5 400 475.3 403 476.1 409 473.1 415 473.7 419.5 470.2 424 468.2 427 467.4 428.5 467.7 430 467.2 433 467.2 434.5 466.5 437.5 466.4 454 467.3 496.7 472 529 474.2 540.1 476 543 477 543.8 478 543.8 479 542.5 480 529 481.7 437.5 483.6 434.5 484 433 485 430 485 427 486.4 425.5 488 421 490.2 419.5 489.5 418 489.5 413.5 492.8 406 493.3 404.5 494.6 400 496.7 397 496.8 392.5 494.2 391 494.8 388 494.8 385 497.5 380.5 498.8 377.5 498.3 376 497.1 367 497.1 365.5 496.2 362.5 496 359.5 493.7 356.5 492.3 352 491.9 350.5 491.3 349 492.1 346 492.5 340 490.1 338.5 490.3 331 489.6 326.5 488.6 322 489 319 488.5 316 488.6 313 487.7 310 488.5 305.5 487.1 301 487.8 296.5 486.7 289 486.6 281.5 485.3 280 485.7 278.5 484.9 275.5 484.2 268 485 265 483.6 260.5 485.9 250 483.4 245.5 485.1 241 484.1 239.5 483.5 238 481.9 235 481.9 232 483.6 229 484.4 224.5 483.9 221.5 485.7 220 486 217 485.6 215.5 486.3 214 486.3 209.5 488.6 205 489 194.5 491.6 190 491.6 187 493.7 185.5 493.6 173.5 497.4 169 495.7 161.5 495 154 493.6 151 492.6 147.9 490Z"/>
<path fill="#ff9f00" d="M147.2 486 148.4 484 152.5 481.9 158.5 480.3 164.5 479.9 169 478.5 170.5 478.5 173.5 479.9 175 479.9 178.5 478 181 475.8 185.5 473.8 188.5 474 190 475 191.5 474.9 200.5 471.2 203.5 471.4 208 470.2 214 465.9 217 465.1 221.5 465.3 224.5 463.9 226 464 230.5 462.1 232 461.9 235 463.2 236.5 463.3 239.5 462.8 241 461.7 250 463.2 253 464.3 257.5 465.3 260.5 465.2 262 464.2 263.5 464.2 268 465.6 272.5 466.1 278.5 464.4 280.6 465 284.5 463 296.5 464 301 465.2 305.5 465 310 466.5 314.5 467 319 468.7 322 469.3 326.5 469.1 331 470.1 334 468.1 335.5 468.1 340 468.9 346 472 347.5 471.8 352 473.8 355 474.1 356.5 473.8 359.5 474.7 362.5 473.1 365.5 473.4 370 476 374.5 475.7 377.5 476.5 380.5 476.5 385 475.5 388 477.2 391 477.1 395.5 475.8 397 476.7 400 476.4 403 477.1 409 474.1 412 474.3 413.5 474.9 415 474.7 419.5 471.1 424 469.2 427 468.3 433 468 434.5 467.3 437.5 467.2 460 468.7 489 472 529 474.8 536.5 476 539.7 477 540.5 478 540.5 479 538.9 480 527.5 481.4 449.5 482.5 439 483.2 437.5 482.9 434.5 483.3 433 484.3 430 484.2 427 485.5 425.5 487.1 421 489.4 419.5 488.7 418 488.7 413.5 492.1 409 492 406 492.5 404.5 493.8 400 495.9 397 496 392.5 493.5 391 494 388 493.9 385 496.6 380.5 497.9 377.5 497.5 376 496.2 374.5 496 370 496.5 367 496.2 365.5 495.2 362.5 495.1 361 494.4 359.5 492.9 356.5 491.5 352 491.1 350.5 490.5 349 491.3 346 491.7 340 489.2 331 488.8 326.5 487.7 322 488.1 316 487.7 313 486.8 310 487.6 305.5 486.1 301 486.9 296.5 485.7 289 485.6 281.5 484.5 280 484.8 278.5 484 275.5 483.4 268 484.2 265 482.7 260.5 485.1 257.5 484.7 256 483.9 250 482.5 245.5 484.2 239.5 482.6 238 481 235 481 232 482.7 229 483.4 224.5 482.9 221.5 484.9 220 485.2 217 484.7 215.5 485.4 214 485.3 209.5 487.8 205 488.2 194.5 490.8 190 490.9 188.5 491.5 187 492.9 185.5 492.7 173.5 496.7 169 494.9 161.5 494.4 154 492.9 151 491.9 148 489Z"/>
<path fill="#ffaf00" d="M148.4 487 148.4 486 149.5 484.4 152.5 482.8 160 480.9 161.5 481.1 164.5 480.6 169 479.3 170.5 479.3 173.5 480.8 175 480.8 179.5 478.2 181 476.8 185.5 474.7 188.5 474.9 190 475.8 191.5 475.7 200.5 472.1 203.5 472.3 208 471.2 214 466.8 217 466 221.5 466.2 224.5 464.8 226 465 230.5 463 232 462.8 234.7 464 236.5 464.2 239.5 463.8 241 462.7 247 464 250 464.1 257.5 466.3 260.5 466.3 262 465.2 263.5 465.1 271 467 274 466.9 278.5 465.4 280 466.2 283 465.1 284.5 464 289 464.6 292 464.5 296.5 465 301 466.3 305.5 466 310 467.6 314.5 467.9 319 469.6 322 470.2 326.5 470 331 471.1 334 469.1 337 469.2 340 469.8 346 473 347.5 472.9 352 474.7 355 475 356.5 474.7 359.5 475.7 362.5 474.1 365.5 474.4 370 477 374.5 476.6 377.5 477.6 380.5 477.6 385 476.5 388 478 391 478 395.5 476.7 397 477.7 400 477.4 403 478 409 475 412 475.2 413.5 475.8 415 475.6 419.5 472 427 469.1 433 468.8 434.5 468 437.5 467.9 461.5 469.4 485.5 472.3 527.5 475.2 536.3 477 537.2 478 537.2 479 535.1 480 527.5 480.9 449.5 481.9 439 482.6 437.5 482.2 434.5 482.6 433 483.6 430 483.5 427 484.8 425.5 486.4 421 488.7 419.5 488 418 488 415 490.8 413.5 491.5 409 491.3 406 491.8 404.5 493.2 400 495.2 397 495.4 392.5 492.8 391 493.3 388 493.2 383.5 496.5 380.5 497.1 377.5 496.7 376 495.4 374.5 495.2 370 495.8 367 495.4 365.5 494.4 362.5 494.2 356.5 490.7 352 490.5 350.5 489.8 349 490.6 346 491 340 488.3 331 488.1 326.5 486.9 322 487.4 316 486.9 313 485.9 310 486.8 305.5 485.3 301 486.1 296.5 484.8 289 484.8 281.5 483.7 280 484.1 278.5 483.2 275.5 482.7 274 483.2 268 483.5 265 481.9 260.5 484.4 257.5 484 256 483.1 250 481.7 245.5 483.4 239.5 481.8 238 480.3 235 480.3 233.5 481.3 229 482.6 224.5 482.1 221.5 484.1 218.5 484.4 217 483.8 215.5 484.6 214 484.5 209.5 487.1 200.5 488.4 194.5 490.1 190 490.3 188.5 490.8 187 492.1 185.5 491.9 179.5 494.3 178 494.4 173.5 496.1 169 494.3 161.5 493.8 160 493.2 154 492.3 151 491.1 149.5 490Z"/>
<path fill="#ffbf00" d="M149.4 487 150.3 485 152.5 483.6 160 481.6 161.5 481.8 164.5 481.3 169 480 170.5 480.1 173.5 481.7 175 481.7 179.5 479.1 181 477.6 185.5 475.5 188.5 475.6 190 476.5 191.5 476.5 200.5 472.8 203.5 473.1 208 472 214 467.6 217 466.8 221.5 467.1 224.5 465.6 226 465.8 230.5 463.8 232 463.7 236.5 465 239.5 464.6 241 463.6 244 464 247 464.9 250 464.9 257.5 467.3 260.5 467.2 262 466.1 265 466.1 268 467.4 271 467.9 274 467.7 278.5 466.2 280 467.1 283 466 284.5 464.9 289 465.6 292 465.5 296.5 465.9 301 467.3 305.5 466.9 310 468.5 314.5 468.8 320.5 470.9 326.5 470.8 331 472 334 469.9 335.5 469.8 340 470.7 346 474 347.5 473.8 352 475.5 355 475.8 356.5 475.5 359.5 476.5 362.5 475 365.5 475.3 370 477.9 374.5 477.5 377.5 478.5 380.5 478.5 385 477.4 388 478.7 391 478.7 395.5 477.6 397 478.6 400 478.3 403 478.8 409 475.7 410.5 475.7 413.5 476.7 415 476.4 419.5 472.7 427 469.7 433 469.5 434.5 468.6 437.5 468.5 461.5 470.1 486.8 473 527.5 475.8 533 477 533.9 478 533.8 479 532 479.7 527.5 480.4 449.5 481.4 434.5 482 433 483 430 482.9 427 484.1 425.5 485.7 421 488 419.5 487.3 418 487.5 415 490.2 413.5 491 409 490.6 406 491.2 404.5 492.6 400 494.6 397 494.7 392.5 492.2 391 492.7 388 492.6 383.5 495.8 380.5 496.5 377.5 496 376 494.7 374.5 494.5 370 495.1 367 494.7 365.5 493.6 362.5 493.5 356.5 490.1 352 489.8 350.5 489.2 349 490 346 490.4 340 487.6 338.5 487.8 335.5 487.1 331 487.5 326.5 486.2 322 486.8 316 486.2 313 485.2 310 486 305.5 484.5 301 485.3 296.5 484 289 484 284.5 483.1 283 483.4 281.5 483 280 483.4 278.5 482.5 275.5 482 274 482.6 268 482.9 265 481.2 260.5 483.8 257.5 483.4 256 482.5 250 481 245.5 482.7 244 482 239.5 481.1 238 479.6 235 479.6 233.5 480.6 230.5 481.1 229 481.8 224.5 481.4 221.5 483.4 220 483.7 217 483 215.5 483.8 214 483.7 209.5 486.5 200.5 487.8 194.5 489.6 190 489.7 188.5 490.2 187 491.5 185.5 491.2 179.5 493.8 178 493.8 173.5 495.6 169 493.6 161.5 493.2 160 492.6 154 491.7 150.5 490 149.7 489Z"/>
<path fill="#ffcf00" d="M150.6 487 150.9 486 152.5 484.5 158.5 482.4 164.5 482 169 480.7 170.5 480.8 173.5 482.4 175 482.4 179.5 479.8 181 478.3 185.5 476.2 188.5 476.3 190 477.2 191.5 477.1 200.5 473.5 203.5 473.8 208 472.8 214 468.3 217 467.5 221.5 467.9 224.5 466.3 226 466.5 230.5 464.6 232 464.4 236.5 465.7 239.5 465.4 241 464.4 244 464.8 245.5 465.5 250 465.6 257.5 468.1 260.5 468.1 262 466.9 265 466.8 268 468.2 271 468.6 274 468.4 278.5 467 280 467.9 283 466.8 284.5 465.7 289 466.5 292 466.3 296.5 466.7 301 468.1 305.5 467.7 310 469.4 314.5 469.6 320.5 471.7 326.5 471.5 331 472.7 334 470.7 335.5 470.6 340 471.4 346 474.8 347.5 474.6 352 476.2 356.5 476.1 359.5 477.2 361 476.9 362.5 475.9 365.5 476.1 370 478.8 374.5 478.3 377.5 479.3 380.5 479.4 385 478.2 388 479.4 391 479.4 395.5 478.3 397 479.5 400 479.1 403 479.5 409 476.4 410.5 476.3 413.5 477.4 415 477.1 419.5 473.3 427 470.3 433 470.1 434.5 469.2 437.5 469.1 439 469.5 451 469.7 484 473.3 527.5 476.5 529.7 477 530.5 478 530.5 479 524.9 480 449.5 480.9 439 481.5 437.5 481.1 434.5 481.5 433 482.5 430 482.3 427 483.4 425.5 485.1 421 487.4 419.5 486.7 418 486.9 415 489.8 413.5 490.5 409 490 406 490.6 404.5 492.1 400 494 397 494.2 392.5 491.6 391 492.2 388 492 383.5 495.1 380.5 495.8 377.5 495.4 376 494 374.5 493.8 370 494.5 367 494 365.5 492.9 364 493.1 361 492.3 359.5 491 356.5 489.5 352 489.3 350.5 488.7 349 489.4 346 489.8 340 486.9 338.5 487.1 335.5 486.4 331 486.9 326.5 485.6 322 486.2 316 485.6 313 484.5 310 485.4 305.5 483.7 301 484.7 296.5 483.3 292 483 289 483.3 284.5 482.4 280 482.8 278.5 481.8 275.5 481.5 272.5 482.2 268 482.3 265 480.6 260.5 483.2 257.5 482.8 256 481.9 250 480.3 245.5 482.1 244 481.3 239.5 480.5 238 479 235 479 233.5 479.9 230.5 480.4 229 481.1 224.5 480.7 221.5 482.8 218.5 483 217 482.3 215.5 483.1 214 483 209.5 486 200.5 487.2 194.5 489 188.5 489.6 187 490.8 185.5 490.6 179.5 493.2 178 493.3 175 494.8 173.5 495.1 169 493.1 161.5 492.7 160 492.1 154 491.1 151 489.2Z"/>
<path fill="#ffdf00" d="M151.9 488 152.5 485.7 155.5 484 158.5 483 164.5 482.6 169 481.3 170.5 481.4 173.5 483.2 175 483.1 179.5 480.5 181 479 185.5 476.8 188.5 476.9 190 477.7 191.5 477.7 200.5 474.2 203.5 474.4 208 473.4 214 469 217 468.2 221.5 468.6 224.5 467 226 467.2 230.5 465.3 232 465.1 236.5 466.3 239.5 466.1 241 465.1 244 465.5 245.5 466.3 250 466.3 257.5 468.9 260.5 468.9 262 467.6 265 467.4 268 468.9 272.5 469.3 278.5 467.6 280 468.6 283 467.5 284.5 466.4 289 467.2 292 467 296.5 467.5 301 468.9 305.5 468.4 310 470.1 311.5 469.9 314.5 470.2 320.5 472.4 326.5 472.1 331 473.4 334 471.4 335.5 471.3 340 472.1 346 475.6 347.5 475.3 352 476.8 355 477.1 356.5 476.7 359.5 477.8 361 477.6 362.5 476.6 365.5 476.8 370 479.5 374.5 479 376 479.2 377.5 480.1 379 480.2 383.5 479.5 385 478.9 388 479.9 391 480 395.5 479 397 480.2 400 479.8 403 480.2 409 477 410.5 477 413.5 478.1 415 477.8 419.5 473.9 427 470.9 428.5 471 430 470.5 433 470.6 434.5 469.7 437.5 469.6 439 470 449.5 470.1 463 471.2 475.4 473 523.1 477 525.4 478 525.1 479 511 479.9 434.5 481 433 482.1 430 481.8 427 482.9 425.5 484.6 421 486.9 419.5 486.2 418 486.4 415 489.3 413.5 490 409 489.4 406 490.1 404.5 491.6 401.5 493 397 493.7 392.5 491.1 391 491.7 388 491.5 383.5 494.5 380.5 495.3 377.5 494.8 376 493.4 374.5 493.2 370 494 367 493.4 365.5 492.2 364 492.5 361 491.8 356.5 489 352 488.8 350.5 488.2 349 488.9 346 489.3 340 486.3 338.5 486.5 335.5 485.8 331 486.4 326.5 485 322 485.7 316 485 313 483.9 310 484.8 305.5 483.1 301 484.1 296.5 482.7 292 482.4 289 482.7 284.5 481.7 280 482.3 278.5 481.2 277 481 268 481.8 265 480 260.5 482.7 257.5 482.3 256 481.4 250 479.7 245.5 481.5 244 480.7 239.5 479.9 238 478.5 235 478.5 233.5 479.4 230.5 479.7 229 480.5 224.5 480.1 221.5 482.3 218.5 482.4 217 481.7 215.5 482.5 214 482.4 209.5 485.5 200.5 486.7 199 487.5 194.5 488.5 188.5 489 187 490.3 185.5 490 179.5 492.8 178 492.9 175 494.4 173.5 494.7 169 492.6 161.5 492.3 154 490.4 152.1 489Z"/>
<path fill="#ffef00" d="M153.1 488 153.7 486 155.5 484.7 158.5 483.6 164.5 483.1 169 481.8 170.5 482 173.5 483.8 175 483.7 179.5 481.1 181 479.6 185.5 477.4 188.5 477.4 190 478.3 191.5 478.2 200.5 474.7 203.5 475 208 474.1 209.5 473.3 214 469.5 217 468.8 221.5 469.3 224.5 467.5 226 467.7 230.5 465.9 232 465.7 236.5 466.8 239.5 466.7 241 465.8 244 466.2 245.5 467 250 466.9 257.5 469.6 260.5 469.6 262 468.2 265 468 268 469.5 272.5 469.9 278.5 468.2 280 469.3 283 468.2 284.5 467.1 289 467.9 292 467.7 296.5 468.1 301 469.7 305.5 469 310 470.8 313 470.5 320.5 473 326.5 472.7 331 474.1 334 472 335.5 471.9 340 472.7 346 476.3 347.5 476 352 477.4 356.5 477.3 359.5 478.4 361 478.3 362.5 477.3 365.5 477.5 370 480.2 374.5 479.6 376 479.8 377.5 480.8 379 480.9 383.5 480.2 385 479.5 388 480.4 391 480.5 395.5 479.6 397 480.9 400 480.5 403 480.7 409 477.5 410.5 477.5 413.5 478.7 415 478.4 416.5 476.6 419.5 474.4 422.5 473.6 427 471.4 430 470.9 433 471.1 434.5 470.2 437.5 470.1 439 470.5 449.5 470.5 461.5 471.5 475 473.5 513.1 477 514.5 478 513.4 479 503.5 479.4 449.5 480.1 440.5 480.6 437.5 480.2 434.5 480.5 433 481.7 430 481.3 427 482.4 425.5 484 421 486.4 419.5 485.7 418 486 415 488.9 413.5 489.7 409 488.9 406 489.6 404.5 491.2 401.5 492.6 397 493.2 392.5 490.7 391 491.3 388 491.1 386.5 491.6 383.5 494 380.5 494.8 377.5 494.4 376 492.9 374.5 492.6 370 493.5 368.5 492.9 367 492.9 365.5 491.6 364 491.9 361 491.3 356.5 488.5 352 488.4 350.5 487.8 349 488.5 346 488.8 340 485.7 338.5 485.9 335.5 485.2 331 485.9 326.5 484.5 322 485.3 316 484.5 313 483.4 310 484.3 305.5 482.5 301 483.6 296.5 482.1 292 481.8 289 482.2 284.5 481.1 280 481.8 278.5 480.7 277 480.5 272.5 481.3 268 481.4 265 479.5 260.5 482.2 257.5 481.9 256 481 250 479.2 245.5 481 244 480.1 239.5 479.4 238 477.9 235 478 233.5 478.8 230.5 479.1 229 479.9 224.5 479.6 221.5 481.8 218.5 481.9 217 481.1 215.5 482 214 481.8 209.5 485 200.5 486.2 199 487 193 488.3 188.5 488.6 187 489.8 185.5 489.5 179.5 492.3 178 492.5 175 494 173.5 494.3 169 492.1 161.5 491.8 160 491.1 157 490.7 154 489.6Z"/>
<path fill="#ffff00" d="M154.4 488 155 486 158.5 484.2 160 483.8 161.5 484.1 169 482.3 170.5 482.5 173.5 484.4 175 484.3 179.5 481.7 181 480.2 185.5 478 188.5 477.9 190 478.7 191.5 478.7 200.5 475.2 203.5 475.6 208 474.6 209.5 473.9 214 470.1 215.5 470 217 469.3 221.5 469.8 224.5 468 226 468.3 230.5 466.4 232 466.3 236.5 467.3 239.5 467.2 241 466.4 244 466.8 245.5 467.7 250 467.4 257.5 470.3 260.5 470.3 262 468.8 265 468.5 268 470.1 271 470.4 274 470.2 278.5 468.8 280 469.9 283 468.8 284.5 467.7 289 468.6 292 468.3 296.5 468.7 301 470.3 305.5 469.6 310 471.4 313 471.1 320.5 473.6 326.5 473.2 331 474.6 334 472.5 335.5 472.4 340 473.2 346 477 347.5 476.6 352 477.9 356.5 477.8 359.5 478.9 361 478.9 362.5 477.9 365.5 478.1 370 480.9 374.5 480.1 376 480.4 377.5 481.4 379 481.5 383.5 480.8 385 480.1 388 480.9 391 481 392.5 480.4 395.5 480.2 397 481.5 400 481.1 403 481.2 409 478 410.5 478 413.5 479.3 415 478.9 416.5 477.1 419.5 474.9 422.5 474.1 427 471.8 428.5 471.9 430 471.3 433 471.6 434.5 470.6 437.5 470.5 439 470.9 449.5 471 464.5 472.2 475 474 496.6 476 503.1 477 503.5 478 499.5 479 434.5 480.1 433 481.3 430 480.9 427 481.9 425.5 483.6 421 486 419.5 485.3 418 485.6 415 488.6 413.5 489.3 409 488.5 406 489.2 404.5 490.8 401.5 492.2 397 492.8 392.5 490.3 391 490.9 388 490.7 386.5 491.1 383.5 493.5 380.5 494.3 377.5 493.9 376 492.4 374.5 492.1 370 493 367 492.4 365.5 491.1 364 491.4 361 490.8 356.5 488.1 352 488 350.5 487.4 349 488 346 488.4 340 485.2 338.5 485.4 335.5 484.6 331 485.5 326.5 484.1 322 484.8 316 484.1 313 482.9 310 483.9 305.5 482 301 483.1 296.5 481.6 292 481.3 289 481.7 284.5 480.6 280 481.4 278.5 480.3 277 480 272.5 480.9 268 480.9 265 479 260.5 481.8 257.5 481.5 256 480.6 250 478.7 245.5 480.5 244 479.6 239.5 478.9 238 477.5 235 477.6 233.5 478.4 230.5 478.6 229 479.5 226 479.5 224.5 479.1 221.5 481.4 218.5 481.4 217 480.6 215.5 481.5 214 481.3 209.5 484.7 200.5 485.8 199 486.6 194.5 487.7 188.5 488.1 187 489.3 185.5 489 179.5 491.9 178 492.1 175 493.7 173.5 493.9 170.5 492.1 169 491.6 161.5 491.4 160 490.7 157 490.2 154.7 489Z"/>
<path fill="#efff10" d="M155.8 488 156.4 486 158.5 484.7 164.5 484.1 169 482.8 170.5 483 173.5 484.9 175 484.8 179.5 482.2 181 480.7 185.5 478.4 188.5 478.4 190 479.2 191.5 479.2 200.5 475.7 203.5 476.1 208 475.1 209.5 474.4 214 470.5 215.5 470.5 217 469.8 218.5 470.3 221.5 470.4 224.5 468.5 226 468.8 230.5 466.9 232 466.8 236.5 467.7 239.5 467.8 241 466.9 244 467.3 245.5 468.3 250 467.9 257.5 470.8 260.5 470.9 262 469.3 265 468.9 268 470.6 271 470.9 274 470.7 278.5 469.3 280 470.4 283 469.3 284.5 468.2 289 469.2 292 468.9 296.5 469.3 301 470.9 305.5 470.1 310 472 313 471.6 320.5 474.1 326.5 473.7 331 475.1 334 473.1 335.5 472.9 340 473.7 346 477.6 347.5 477.2 352 478.4 356.5 478.2 359.5 479.4 361 479.4 362.5 478.5 365.5 478.6 370 481.4 374.5 480.6 376 480.9 377.5 482 379 482.1 383.5 481.3 385 480.6 388 481.3 391 481.4 392.5 480.8 395.5 480.7 397 482.1 400 481.6 403 481.7 409 478.4 410.5 478.5 413.5 479.8 415 479.4 416.5 477.5 419.5 475.3 422.5 474.6 427 472.2 430 471.7 433 472 434.5 471 437.5 470.9 439 471.3 449.5 471.3 464.5 472.6 475 474.5 488.8 476 493.3 477 493.4 478 485.5 478.9 469 479.4 434.5 479.8 433 480.9 430 480.5 427 481.5 425.5 483.2 421 485.6 419.5 484.9 418 485.3 415 488.3 413.5 489 409 488 406 488.8 404.5 490.5 401.5 491.9 397 492.5 392.5 489.9 391 490.6 388 490.3 386.5 490.7 383.5 493 380.5 493.9 377.5 493.5 376 491.9 374.5 491.7 370 492.7 368.5 492 367 491.9 365.5 490.6 364 490.9 361 490.4 356.5 487.7 352 487.7 350.5 487 349 487.7 346 488 340 484.7 338.5 484.9 335.5 484.1 331 485.2 326.5 483.7 322 484.5 316 483.7 313 482.4 310 483.4 305.5 481.5 301 482.7 296.5 481.1 292 480.8 289 481.2 284.5 480.1 283 480.7 281.5 480.5 280 481 278.5 479.8 277 479.7 272.5 480.5 268 480.6 265 478.6 262 480.2 260.5 481.5 257.5 481.1 256 480.2 250 478.3 245.5 480.1 244 479.2 239.5 478.5 238 477.1 235 477.2 233.5 477.9 230.5 478.1 229 479 226 479.1 224.5 478.6 221.5 480.9 218.5 481 217 480.1 215.5 481 214 480.8 209.5 484.3 200.5 485.4 199 486.2 193 487.6 188.5 487.7 187 488.9 185.5 488.6 179.5 491.6 178 491.8 175 493.4 173.5 493.6 170.5 491.7 169 491.2 161.5 491 156.1 489Z"/>
<path fill="#dfff20" d="M157.1 488 157.7 486 159.6 485 161.5 485.2 169 483.3 170.5 483.4 173.5 485.4 175 485.3 179.5 482.7 181 481.2 185.5 478.9 188.5 478.8 190 479.5 191.5 479.6 200.5 476.1 203.5 476.5 208 475.6 209.5 474.9 214 471 215.5 470.9 217 470.2 218.5 470.7 221.5 470.9 224.5 468.9 226 469.2 230.5 467.4 232 467.3 233.5 467.8 239.5 468.2 241 467.4 244 467.8 245.5 468.8 250 468.3 257.5 471.4 260.5 471.4 262 469.8 265 469.3 268 471.1 272.5 471.3 278.5 469.7 280 470.9 283 469.8 284.5 468.7 289 469.7 292 469.3 296.5 469.8 301 471.4 305.5 470.6 310 472.5 313 472 320.5 474.5 326.5 474.1 331 475.6 334 473.5 335.5 473.4 340 474.2 346 478.1 347.5 477.7 350.5 478.1 352 478.8 355 479 356.5 478.6 359.5 479.8 361 479.9 362.5 479 365.5 479.1 370 482 374.5 481.1 376 481.3 377.5 482.5 379 482.6 383.5 481.8 385 481 391 481.8 392.5 481.2 395.5 481.2 397 482.6 400 482.1 403 482.1 409 478.8 410.5 478.9 413.5 480.2 415 479.8 416.5 477.9 419.5 475.7 422.5 475 427 472.6 430 472.1 433 472.3 434.5 471.3 449.5 471.7 463 472.8 481.4 476 483.6 477 483.4 478 470.5 479 442 479.2 440.5 479.6 437.5 479.1 434.5 479.4 433 480.6 430 480.1 427 481.1 425.5 482.8 421 485.2 419.5 484.5 418 484.9 415 488 413.5 488.7 409 487.7 406 488.5 404.5 490.2 401.5 491.6 397 492.2 392.5 489.7 391 490.2 388 489.9 386.5 490.3 383.5 492.6 380.5 493.5 377.5 493.1 376 491.6 374.5 491.3 370 492.3 368.5 491.6 367 491.5 365.5 490.2 364 490.5 361 490.1 356.5 487.4 352 487.4 350.5 486.7 349 487.4 346 487.7 340 484.3 338.5 484.5 335.5 483.7 331 484.8 326.5 483.3 322 484.1 316 483.3 313 482 310 483 305.5 481 301 482.3 296.5 480.7 292 480.4 289 480.8 284.5 479.6 283 480.3 281.5 480.1 280 480.7 278.5 479.5 277 479.3 272.5 480.2 268 480.3 265 478.2 262 479.8 260.5 481.1 257.5 480.8 256 479.9 250 477.9 245.5 479.7 244 478.8 239.5 478.1 238 476.8 235 476.8 233.5 477.6 230.5 477.7 229 478.6 226 478.7 224.5 478.2 221.5 480.6 218.5 480.6 217 479.7 215.5 480.6 214 480.4 209.5 484 200.5 485 199 485.9 193 487.3 188.5 487.4 187 488.5 185.5 488.2 179.5 491.3 173.5 493.3 170.5 491.3 169 490.8 161.5 490.6 157.7 489Z"/>
<path fill="#cfff30" d="M158.5 488 159 486 160 485.5 161.5 485.7 169 483.7 170.5 483.8 173.5 485.9 175 485.8 179.5 483.1 181 481.6 185.5 479.3 188.5 479.2 190 479.9 191.5 480 200.5 476.5 203.5 476.9 208 476 209.5 475.4 214 471.3 215.5 471.3 217 470.6 218.5 471.2 221.5 471.3 224.5 469.3 226 469.6 230.5 467.8 232 467.7 233.5 468.2 239.5 468.6 241 467.8 244 468.3 245.5 469.3 250 468.7 257.5 471.9 260.5 472 262 470.2 265 469.7 268 471.5 272.5 471.7 278.5 470.1 280 471.4 283 470.3 284.5 469.1 289 470.2 292 469.8 296.5 470.2 301 472 305.5 471 310 473 313 472.4 320.5 475 326.5 474.5 331 476 334 474 335.5 473.8 340 474.6 346 478.6 347.5 478.1 350.5 478.4 352 479.2 356.5 479 359.5 480.2 361 480.3 362.5 479.4 365.5 479.5 370 482.4 374.5 481.5 376 481.8 377.5 483 379 483.1 386.5 481.4 388 482 391 482.1 392.5 481.5 395.5 481.6 397 483.1 400 482.5 403 482.5 404.5 481.9 406 480.5 409 479.2 410.5 479.2 413.5 480.7 415 480.2 416.5 478.3 419.5 476.1 422.5 475.4 427 473 430 472.4 433 472.7 434.5 471.6 449.5 472 464.5 473.3 473.1 475 474.7 476 474.8 477 474.3 478 469 478.8 442 478.9 440.5 479.3 437.5 478.8 434.5 479.1 433 480.3 430 479.8 427 480.7 425.5 482.4 421 484.9 419.5 484.2 418 484.6 415 487.8 413.5 488.5 409 487.3 406 488.2 404.5 489.9 401.5 491.3 397 491.9 392.5 489.4 391 489.9 388 489.7 386.5 489.9 383.5 492.3 380.5 493.2 377.5 492.8 376 491.2 375.2 491 370 492 368.5 491.2 367 491.1 365.5 489.8 364 490.1 361 489.8 356.5 487 352 487.1 350.5 486.4 346 487.4 340 483.9 338.5 484.1 335.5 483.3 331 484.6 326.5 482.9 322 483.8 316 482.9 313 481.7 310 482.7 305.5 480.7 301 481.9 296.5 480.3 292 480 289 480.4 284.5 479.2 283 479.9 281.5 479.8 280 480.4 278.5 479.1 277 478.9 272.5 479.9 268 479.9 265 477.9 262 479.5 260.5 480.8 257.5 480.5 256 479.6 250 477.5 245.5 479.3 244 478.4 239.5 477.8 238 476.4 230.5 477.3 229 478.2 226 478.4 224.5 477.8 221.5 480.3 218.5 480.2 217 479.3 215.5 480.2 214 480 212.5 481.6 209.5 483.7 203.5 484.7 200.5 484.7 199 485.6 193 487 188.5 487 187 488.2 185.5 487.8 175 492.9 173.5 493 170.5 491 169 490.5 161.5 490.2 159.3 489Z"/>
<path fill="#bfff40" d="M159.8 488 160 486.7 169 484.1 170.5 484.2 173.5 486.3 175 486.2 179.5 483.5 181 482.1 185.5 479.7 187 479.9 188.5 479.5 190 480.2 191.5 480.3 200.5 476.9 203.5 477.2 208 476.4 209.5 475.8 214 471.7 215.5 471.7 217 470.9 218.5 471.5 221.5 471.7 224.5 469.6 226 470 230.5 468.2 232 468.1 233.5 468.6 238 468.6 239.5 469 241 468.2 244 468.7 245.5 469.7 250 469 256 471.3 257.5 472.3 260.5 472.4 262 470.6 265 470 268 471.9 272.5 472.1 278.5 470.5 280 471.8 283 470.7 284.5 469.5 289 470.6 292 470.2 296.5 470.6 301 472.4 305.5 471.4 310 473.4 313 472.8 320.5 475.3 326.5 474.8 331 476.3 334 474.3 335.5 474.2 340 475 346 479.1 347.5 478.6 349 479 350.5 478.8 352 479.5 356.5 479.2 359.5 480.6 361 480.7 362.5 479.9 365.5 480 370 482.9 374.5 481.9 376 482.2 377.5 483.4 379 483.5 386.5 481.7 388 482.3 391 482.4 394 481.8 395.5 482 397 483.5 403 482.9 406 480.8 409 479.5 410.5 479.6 413.5 481.1 415 480.6 416.5 478.6 419.5 476.4 422.5 475.8 427 473.2 430 472.7 433 473 434.5 472 449.5 472.3 463 473.4 471.4 475 473 476 473.1 477 472.3 478 467.5 478.6 442 478.7 440.5 479.1 437.5 478.5 434.5 478.8 433 480.1 430 479.5 427 480.4 425.5 482.1 421 484.6 419.5 483.9 418 484.4 415 487.6 413.5 488.2 409 487 406 487.9 404.5 489.6 400 491.3 397 491.6 395.5 490.4 392.5 489.1 391 489.7 388 489.4 386.5 489.6 383.5 491.9 380.5 492.9 377.5 492.5 376 490.8 374.5 490.6 370 491.7 368.5 490.9 367 490.8 365.5 489.4 364 489.8 361 489.5 356.5 486.8 352 486.9 350.5 486.2 349 486.8 346 487.1 340 483.6 338.5 483.8 335.5 482.9 331 484.3 326.5 482.6 322 483.6 316 482.6 313 481.3 310 482.4 305.5 480.3 301 481.6 296.5 479.9 292 479.6 289 480.1 284.5 478.8 283 479.6 281.5 479.5 280 480.1 278.5 478.8 277 478.7 272.5 479.7 268 479.7 265 477.6 262 479.1 260.5 480.6 257.5 480.2 250 477.2 245.5 479 244 478 239.5 477.5 238 476.1 230.5 476.9 229 477.8 226 478 224.5 477.5 221.5 479.9 218.5 479.9 217 478.9 215.5 479.9 214 479.6 209.5 483.4 203.5 484.4 200.5 484.4 199 485.3 193 486.7 188.5 486.7 187 487.8 185.5 487.5 175 492.6 173.5 492.8 170.5 490.6 169 490.1 167.5 490.4 161.5 489.6Z"/>
<path fill="#afff50" d="M161.6 488 162 487 169 484.5 170.5 484.6 173.5 486.8 175 486.6 179.5 483.9 181 482.4 185.5 480 187 480.3 188.5 479.8 191.5 480.6 199 478.1 200.5 477.2 203.5 477.6 208 476.7 209.5 476.2 214 472 215.5 472.1 217 471.3 218.5 471.9 221.5 472.1 224.5 470 226 470.3 230.5 468.5 232 468.4 233.5 468.9 238 468.9 239.5 469.4 241 468.6 244 469.1 245.5 470.1 250 469.3 256 471.6 257.5 472.7 260.5 472.8 262 471 265 470.3 268 472.2 272.5 472.4 278.5 470.8 280 472.2 283 471.1 284.5 469.9 289 471 292 470.6 296.5 471 301 472.8 305.5 471.8 310 473.8 313 473.2 320.5 475.7 322 475.8 326.5 475.1 331 476.7 334 474.7 335.5 474.5 340 475.3 346 479.5 347.5 479 350.5 479.1 352 479.8 355 479.9 356.5 479.5 361 481.1 362.5 480.2 365.5 480.3 370 483.2 374.5 482.3 376 482.5 377.5 483.8 379 484 386.5 482 391 482.7 392.5 482.1 395.5 482.3 397 483.9 403 483.2 406 481.1 409 479.8 410.5 479.9 413.5 481.4 415 481 416.5 478.9 419.5 476.7 422.5 476.1 427 473.5 430 472.9 433 473.3 434.5 472.2 449.5 472.5 463 473.7 469.7 475 471.4 476 471.4 477 470 478 466 478.4 442 478.5 440.5 478.8 437.5 478.3 434.5 478.6 433 479.8 430 479.2 427 480.1 425.5 481.8 421 484.3 419.5 483.6 418 484.1 415 487.4 413.5 488 409 486.7 406 487.7 404.5 489.4 401.5 490.8 397 491.4 395.5 490.1 392.5 488.9 391 489.5 386.5 489.3 383.5 491.6 380.5 492.6 377.5 492.2 376 490.5 374.5 490.2 370 491.4 368.5 490.6 367 490.5 365.5 489 364 489.5 361 489.2 356.5 486.5 352 486.7 350.5 485.9 349 486.6 346 486.9 340 483.3 338.5 483.5 335.5 482.6 331 484 326.5 482.4 322 483.3 316 482.4 313 481 310 482.1 305.5 479.9 301 481.3 296.5 479.6 292 479.3 289 479.8 284.5 478.5 283 479.3 281.5 479.2 280 479.8 278.5 478.5 277 478.4 272.5 479.4 268 479.5 265 477.3 262 478.9 260.5 480.3 257.5 480 250 476.9 245.5 478.7 244 477.7 239.5 477.2 238 475.9 235 475.9 233.5 476.6 230.5 476.6 229 477.5 226 477.8 224.5 477.2 221.5 479.7 218.5 479.6 217 478.6 215.5 479.6 214 479.3 209.5 483.1 203.5 484.2 200.5 484.1 199 485 193 486.5 188.5 486.5 187 487.5 185.5 487.1 175 492.4 173.5 492.6 170.5 490.3 169 489.8 164.5 489.7 161.8 489Z"/>
<path fill="#9fff60" d="M163.6 488 163.8 487 169 484.9 170.5 485 173.5 487.2 175 487 179.5 484.3 181 482.8 185.5 480.3 187 480.6 188.5 480.1 191.5 480.9 199 478.4 200.5 477.5 203.5 477.9 208 477.1 209.5 476.5 214 472.3 215.5 472.3 217 471.5 218.5 472.2 221.5 472.4 224.5 470.2 226 470.6 230.5 468.8 232 468.7 233.5 469.2 238 469.2 239.5 469.7 241 469 244 469.4 245.5 470.5 250 469.6 256 472 257.5 473.1 260.5 473.2 262 471.3 265 470.6 268 472.5 272.5 472.7 278.5 471.1 280 472.5 283 471.4 284.5 470.2 289 471.4 292 471 296.5 471.4 301 473.2 305.5 472.1 310 474.2 313 473.4 320.5 476 326.5 475.4 331 477 334 475 335.5 474.8 340 475.6 346 479.9 347.5 479.3 349 479.6 350.5 479.3 352 480.1 356.5 479.8 361 481.4 362.5 480.6 365.5 480.7 367 482 368.5 482.4 370 483.6 374.5 482.6 376 482.8 377.5 484.1 380.5 484.2 386.5 482.3 391 483 392.5 482.3 395.5 482.7 397 484.3 403 483.5 404.5 482.8 406 481.3 409 480.1 410.5 480.2 413.5 481.7 415 481.2 416.5 479.2 419.5 477 421 477 427 473.8 430 473.2 433 473.5 434.5 472.4 437.5 472.3 440.5 472.9 442 472.5 449.5 472.8 461.5 473.8 468.1 475 469.7 476 469.7 477 466 478.1 442 478.2 440.5 478.6 437.5 478 434.5 478.4 433 479.6 430 478.9 427 479.8 425.5 481.5 421 484 419.5 483.4 418 483.9 415 487.1 413.5 487.8 409 486.5 406 487.4 404.5 489.2 401.5 490.5 397 491.1 395.5 489.9 392.5 488.7 391 489.3 386.5 489 383.5 491.3 380.5 492.3 377.5 491.9 376 490.2 374.9 490 370 491.2 368.5 490.3 367 490.2 365.5 488.7 364 489.1 361 488.9 356.5 486.3 352 486.5 350.5 485.7 349 486.4 346 486.7 340 483 338.5 483.1 335.5 482.3 331 483.8 326.5 482.1 323.5 482.9 320.5 482.9 316 482.1 313 480.8 310 481.8 305.5 479.6 301 481 299.5 480.8 296.5 479.3 292 479 289 479.5 284.5 478.2 283 479 281.5 479 280 479.6 278.5 478.2 277 478.1 272.5 479.2 268 479.2 265 477 262 478.6 260.5 480.1 257.5 479.8 250 476.6 245.5 478.5 244 477.4 239.5 476.9 238 475.6 235 475.7 233.5 476.3 230.5 476.3 229 477.2 226 477.5 224.5 476.9 221.5 479.4 218.5 479.4 217 478.3 215.5 479.3 214 478.9 212.5 480.7 209.5 482.9 203.5 483.9 200.5 483.8 199 484.8 193 486.3 188.5 486.2 187 487.2 185.5 486.8 175 492.2 173.5 492.3 170.5 490 169 489.4 164 489Z"/>
<path fill="#8fff70" d="M165.5 488 165.7 487 169 485.4 170.5 485.4 173.5 487.6 175 487.3 179.5 484.7 181 483.1 185.5 480.7 187 481 188.5 480.4 191.5 481.2 199 478.7 200.5 477.8 203.5 478.2 209.5 476.9 214 472.6 215.5 472.6 217 471.8 218.5 472.5 221.5 472.7 224.5 470.5 226 470.9 230.5 469.1 232 469 233.5 469.5 238 469.4 239.5 470 241 469.3 244 469.8 245.5 470.9 250 469.9 256 472.3 257.5 473.4 260.5 473.6 262 471.6 265 470.8 268 472.8 272.5 473 278.5 471.4 280 472.8 283 471.7 284.5 470.5 289 471.7 292 471.3 296.5 471.7 301 473.6 305.5 472.4 310 474.5 313 473.7 320.5 476.3 322 476.4 326.5 475.6 331 477.3 334 475.3 335.5 475.1 340 475.9 346 480.3 347.5 479.6 349 479.9 350.5 479.6 352 480.3 356.5 480.1 361 481.7 362.5 480.9 365.5 481 370 484 374.5 482.9 376 483.1 377.5 484.4 380.5 484.6 386.5 482.5 391 483.2 392.5 482.6 395.5 483 397 484.6 403 483.7 404.5 483.1 406 481.6 409 480.3 410.5 480.4 413.5 482 415 481.5 416.5 479.4 419.5 477.2 421 477.3 427 474 430 473.4 433 473.8 434.5 472.7 437.5 472.5 440.5 473.1 442 472.8 449.5 473 460.8 474 466.4 475 468 476 468 477 463.1 478 442 478 440.5 478.4 437.5 477.8 434.5 478.1 433 479.4 430 478.7 427 479.5 425.5 481.3 421 483.8 419.5 483.1 418 483.7 415 486.9 413.5 487.7 409 486.2 406 487.2 404.5 489 403 489.8 400 490.6 397 490.9 395.5 489.7 392.5 488.5 391 489 386.5 488.7 383.5 491 380.5 492 377.5 491.7 376 490 374.5 489.7 370 490.9 368.5 490.1 367 490 365.5 488.5 364 488.9 361 488.7 356.5 486 352 486.3 350.5 485.5 346 486.5 340 482.7 338.5 482.9 335.5 482 331 483.6 326.5 481.9 323.5 482.7 320.5 482.8 316 481.9 313 480.5 310 481.6 305.5 479.3 301 480.8 299.5 480.5 296.5 479 292 478.7 289 479.2 284.5 477.9 283 478.8 281.5 478.8 280 479.4 278.5 478 277 477.9 272.5 479 268 479 265 476.7 262 478.4 260.5 479.9 257.5 479.6 250 476.4 245.5 478.2 244 477.2 239.5 476.7 238 475.4 235 475.5 233.5 476.1 230.5 476 229 476.9 226 477.3 224.5 476.6 221.5 479.2 218.5 479.1 217 478 215.5 479 214 478.7 212.5 480.4 209.5 482.7 203.5 483.8 200.5 483.6 199 484.5 193 486 188.5 485.9 187 487 185.5 486.5 175 491.9 173.5 492.1 170.5 489.6 169 489.1 166.5 489Z"/>
<path fill="#80ff80" d="M167.5 488 167.5 487 169 485.9 170.5 485.8 173.5 488 175 487.7 179.5 485 181 483.5 185.5 481 187 481.3 188.5 480.7 191.5 481.4 199 479 200.5 478.1 203.5 478.5 209.5 477.2 214 472.9 215.5 472.9 217 472.1 218.5 472.8 221.5 473 224.5 470.7 226 471.1 230.5 469.4 232 469.3 233.5 469.8 238 469.6 239.5 470.2 241 469.5 244 470.1 245.5 471.2 250 470.1 256 472.5 257.5 473.7 260.5 473.9 262 471.9 263.5 471.2 265 471.1 268 473.1 272.5 473.3 278.5 471.7 280 473.1 283 472 284.5 470.8 289 472.1 292 471.6 296.5 472 301 473.9 305.5 472.7 310 474.8 313 474 320.5 476.5 322 476.7 326.5 475.9 331 477.5 334 475.5 335.5 475.3 340 476.1 346 480.6 347.5 479.9 349 480.2 350.5 479.8 352 480.6 356.5 480.3 361 482 362.5 481.2 365.5 481.3 367 482.6 368.5 483 370 484.2 374.5 483.1 376 483.4 377.5 484.8 380.5 484.9 386.5 482.8 391 483.4 392.5 482.8 395.5 483.2 397 484.9 403 484 406 481.8 409 480.6 410.5 480.7 413.5 482.3 415 481.8 416.5 479.6 419.5 477.4 421 477.5 422.5 477 427 474.2 430 473.6 433 474 434.5 472.9 454 473.6 464.9 475 466.3 476 466.3 477 461.5 477.8 442 477.8 440.5 478.2 437.5 477.6 434.5 477.9 433 479.2 430 478.5 427 479.3 425.5 481 421 483.6 419.5 482.9 418 483.5 415 486.8 413.5 487.5 409 486 406 487 404.5 488.8 403 489.6 397 490.7 395.5 489.5 392.5 488.3 391 488.9 386.5 488.5 383.5 490.8 380.5 491.8 377.5 491.5 376 489.7 374.5 489.5 370 490.8 368.5 489.8 367 489.7 365.5 488.2 364 488.6 361 488.5 356.5 485.8 352 486 350.5 485.4 346 486.3 340 482.5 338.5 482.6 335.5 481.7 331 483.4 326.5 481.7 322 482.7 316 481.7 313 480.3 310 481.4 305.5 479 301 480.6 296.5 478.8 292 478.5 289 479 284.5 477.6 283 478.6 280 479.1 278.5 477.8 277 477.7 272.5 478.8 268 478.8 265 476.5 262 478.1 260.5 479.7 257.5 479.4 250 476.1 245.5 478 244 476.9 239.5 476.5 238 475.2 236.5 475.5 235 475.2 233.5 475.8 230.5 475.7 229 476.7 226 477 224.5 476.4 221.5 479 218.5 478.8 217 477.7 215.5 478.8 214 478.4 209.5 482.5 203.5 483.6 200.5 483.4 199 484.3 193 485.8 188.5 485.7 187 486.7 185.5 486.2 175 491.7 173.5 491.8 170.5 489.3Z"/>
<path fill="#70ff8f" d="M169.5 487 170.5 486.5 173.5 488.4 175 488.1 178 485.9 179.5 485.4 181 483.8 185.5 481.3 187 481.6 188.5 481 191.5 481.7 199 479.2 200.5 478.3 203.5 478.7 209.5 477.4 214 473.1 215.5 473.2 217 472.3 218.5 473.1 221.5 473.3 224.5 471 226 471.4 230.5 469.6 232 469.5 233.5 470 238 469.8 239.5 470.5 241 469.8 244 470.3 245.5 471.5 250 470.3 256 472.8 257.5 474.1 260.5 474.2 262 472.1 265 471.3 268 473.3 272.5 473.5 278.5 471.9 280 473.4 283 472.3 284.5 471.1 289 472.3 292 471.8 296.5 472.2 301 474.2 302.5 473.5 305.5 473 310 475.1 313 474.2 320.5 476.8 322 477 326.5 476.1 331 477.8 334 475.8 335.5 475.6 340 476.3 346 480.9 347.5 480.2 349 480.4 350.5 480 352 480.8 353.5 480.5 355 480.9 356.5 480.4 361 482.3 362.5 481.5 364 481.8 365.5 481.5 367 482.9 368.5 483.3 370 484.5 374.5 483.4 376 483.6 377.5 485 380.5 485.2 386.5 483 391 483.6 392.5 483 395.5 483.5 397 485.2 403 484.2 406 482 409 480.8 410.5 480.9 413.5 482.6 415 482.1 416.5 479.8 419.5 477.7 421 477.8 427 474.4 430 473.8 433 474.2 434.5 473.1 451 473.5 463 474.9 464.6 476 464.6 477 460 477.6 442 477.7 440.5 478 437.5 477.4 434.5 477.7 433 479 430 478.3 427 479 425.5 480.8 421 483.4 419.5 482.7 418 483.3 415 486.7 413.5 487.3 409 485.8 406 486.8 404.5 488.7 403 489.4 397 490.6 395.5 489.3 392.5 488.1 391 488.8 386.5 488.3 383.5 490.6 380.5 491.7 377.5 491.3 376 489.5 374.5 489.2 370 490.6 368.5 489.7 367 489.5 365.5 487.9 364 488.4 361 488.3 356.5 485.7 352 485.9 350.5 485.2 349 485.8 346 486.1 340 482.2 338.5 482.4 335.5 481.5 331 483.2 326.5 481.5 322 482.5 316 481.5 313 480 310 481.2 305.5 478.8 301 480.3 296.5 478.6 292 478.2 289 478.8 284.5 477.4 283 478.4 280 478.9 278.5 477.6 277 477.5 272.5 478.7 268 478.7 265 476.3 262 477.9 260.5 479.5 257.5 479.2 250 475.9 245.5 477.8 244 476.7 241 476.1 239.5 476.3 238 475 236.5 475.3 235 475 233.5 475.6 230.5 475.5 229 476.5 226 476.8 224.5 476.1 221.5 478.8 218.5 478.6 217 477.5 215.5 478.5 214 478.1 209.5 482.3 203.5 483.4 200.5 483.2 199 484.1 193 485.7 188.5 485.4 187 486.4 185.5 486 175 491.5 173.5 491.5 169.5 488Z"/>
<path fill="#60ff9f" d="M171.6 488 173.5 488.9 175 488.5 178 486.3 179.5 485.7 181.3 484 185.5 481.6 187 481.9 188.5 481.2 191.5 481.9 199 479.5 200.5 478.5 203.5 479 205 478.4 208 478.2 209.5 477.7 214 473.3 215.5 473.4 217 472.5 218.5 473.3 221.5 473.5 224.5 471.2 226 471.6 230.5 469.9 232 469.8 233.5 470.2 238 470 239.5 470.7 241 470.1 244 470.6 245.5 471.8 250 470.6 256 473 257.5 474.3 260.5 474.5 262 472.3 265 471.4 268 473.5 272.5 473.7 278.5 472.1 280 473.6 283 472.5 284.5 471.3 289 472.6 292 472.1 296.5 472.5 299.5 474.1 301 474.5 305.5 473.2 310 475.3 313 474.4 320.5 477 322 477.2 326.5 476.3 331 478 334 476 335.5 475.8 340 476.6 346 481.1 347.5 480.4 349 480.7 350.5 480.2 352 481 356.5 480.6 361 482.5 362.5 481.7 364 482.1 365.5 481.8 367 483.2 368.5 483.5 370 484.8 374.5 483.6 376 483.9 377.5 485.3 380.5 485.4 386.5 483.2 391 483.8 392.5 483.2 395.5 483.7 397 485.5 403 484.4 404.5 483.7 406 482.2 409 481 410.5 481.1 413.5 482.8 415 482.3 416.5 480 419.5 477.9 421 478.1 427 474.6 430 474 433 474.4 434.5 473.3 451 473.7 461.6 475 462.9 476 462.7 477 458.5 477.4 442 477.5 440.5 477.9 437.5 477.3 434.5 477.6 433 478.8 430 478.1 427 478.9 425.5 480.6 421 483.2 419.5 482.5 418 483.1 415 486.5 413.5 487.2 409 485.7 406 486.7 404.5 488.5 403 489.3 397 490.4 395.5 489.1 392.5 487.9 391 488.6 386.5 488.1 383.5 490.4 380.5 491.5 377.5 491.1 376 489.3 374.5 489 370 490.4 368.5 489.5 367 489.3 365.5 487.7 364 488.2 361 488.1 356.5 485.5 352 485.8 350.5 485 349 485.7 346 485.9 340 482 338.5 482.2 335.5 481.3 331 483.1 326.5 481.3 322 482.4 316 481.3 313 479.8 310 481 305.5 478.6 301 480.1 299.5 479.9 296.5 478.3 292 478 289 478.6 284.5 477.1 283 478.2 281.5 478.2 280 478.8 278.5 477.4 277 477.3 272.5 478.5 268 478.5 265 476.1 262 477.8 260.5 479.4 257.5 479 250 475.8 245.5 477.6 244 476.5 241 475.9 239.5 476.1 238 474.8 235 474.9 233.5 475.5 230.5 475.2 229 476.2 226 476.6 224.5 475.9 221.5 478.6 218.5 478.4 217 477.2 215.5 478.3 214 477.9 212.5 479.7 209.5 482.1 203.5 483.2 200.5 483 199 483.9 193 485.5 188.5 485.2 187 486.2 185.5 485.7 179.5 489.2 178 489.5 175 491.3 173.5 491.2 172.1 490Z"/>
<path fill="#50ffaf" d="M173.4 490 185.5 481.9 187 482.2 188.5 481.5 191.5 482.2 199 479.7 200.5 478.8 203.5 479.2 205 478.6 208 478.4 209.5 478 214 473.5 215.5 473.6 217 472.8 218.5 473.5 221.5 473.8 224.5 471.4 226 471.8 229 471 230.5 470.1 232 470 233.5 470.4 238 470.2 239.5 471 241 470.3 244 470.8 245.5 472 250 470.8 256 473.2 257.5 474.5 260.5 474.8 262 472.5 265 471.6 268 473.8 272.5 474 278.5 472.3 280 473.9 283 472.7 284.5 471.5 289 472.8 292 472.3 296.5 472.7 301 474.8 305.5 473.4 310 475.6 313 474.6 320.5 477.2 322 477.3 326.5 476.4 331 478.2 334 476.2 335.5 476 340 476.8 346 481.3 347.5 480.7 349 480.9 350.5 480.4 352 481.2 356.5 480.8 361 482.7 362.5 482 365.5 482 367 483.4 368.5 483.8 370 485 374.5 483.8 376 484.1 377.5 485.5 380.5 485.7 386.5 483.3 391 484 392.5 483.3 395.5 484 397 485.7 403 484.6 404.5 483.9 406 482.3 409 481.2 410.5 481.3 413.5 483 415 482.5 416.5 480.2 419.5 478.1 421 478.3 427 474.8 430 474.1 433 474.6 434.5 473.4 437.5 473.3 440.5 473.9 442 473.6 451 473.9 459.4 475 461 476 460.4 477 442 477.3 440.5 477.7 437.5 477.1 434.5 477.4 433 478.7 430 477.9 427 478.7 425.5 480.4 424 481 422.5 482.4 421 483 419.5 482.3 418 482.9 415 486.4 413.5 487 409 485.5 406 486.5 404.5 488.4 403 489.1 397 490.3 395.5 488.9 392.5 487.8 391 488.5 386.5 487.9 383.5 490.2 380.5 491.3 379 491.4 377.5 490.9 376 489.1 374.5 488.8 370 490.2 368.5 489.3 367 489.1 365.5 487.5 364 488 361 488 356.5 485.4 352 485.7 350.5 484.9 349 485.5 346 485.8 340 481.8 338.5 482 335.5 481 331 482.9 326.5 481.1 322 482.2 316 481.1 313 479.7 310 480.8 305.5 478.4 301 479.9 299.5 479.7 296.5 478.1 292 477.8 289 478.4 284.5 476.9 283 478 281.5 478 280 478.7 278.5 477.2 277 477.1 272.5 478.4 268 478.3 265 475.9 262 477.6 260.5 479.2 257.5 478.9 250 475.6 245.5 477.4 244 476.3 241 475.7 239.5 475.9 238 474.7 235 474.7 233.5 475.3 230.5 475 229 476 226 476.4 224.5 475.7 221.5 478.4 218.5 478.2 217 477 215.5 478.1 214 477.7 212.5 479.5 209.5 482 203.5 483 200.5 482.7 199 483.7 193 485.3 188.5 484.9 187 485.9 185.5 485.4 179.5 489 178 489.2 175 491 174.2 491Z"/>
<path fill="#40ffbf" d="M177.6 488 178.4 487 180.4 486 181 485 185.5 482.3 187 482.6 188.5 481.8 191.5 482.5 199 480 200.5 479 203.5 479.4 205 478.9 208 478.7 209.5 478.2 214 473.7 215.5 473.8 217 473 218.5 473.7 221.5 474 224.5 471.5 226 472 229 471.2 230.5 470.3 232 470.2 233.5 470.6 238 470.3 239.5 471.1 241 470.5 244 471 245.5 472.2 250 471 256 473.4 257.5 474.8 260.5 475 262 472.7 265 471.8 268 474 272.5 474.1 278.5 472.5 280 474.1 283 473 284.5 471.7 289 473.1 292 472.5 296.5 473 301 475 302.5 474.2 305.5 473.6 310 475.8 313 474.8 320.5 477.4 322 477.5 326.5 476.6 331 478.4 334 476.4 335.5 476.2 340 477 346 481.5 350.5 480.5 352 481.3 356.5 481 361 483 362.5 482.2 365.5 482.2 367 483.6 368.5 484 370 485.2 374.5 484 376 484.3 377.5 485.7 379 486 383.5 484.9 386.5 483.5 391 484.1 392.5 483.5 395.5 484.1 397 486 403 484.8 404.5 484.1 406 482.5 409 481.3 410.5 481.4 413.5 483.2 415 482.7 416.5 480.4 419.5 478.2 421 478.5 422.5 477.8 427 475 430 474.3 433 474.8 434.5 473.6 437.5 473.4 440.5 474.1 442 473.8 449.6 474 457.2 475 458.6 476 457.5 477 442 477.1 440.5 477.6 437.5 476.9 434.5 477.2 433 478.5 430 477.7 427 478.5 425.5 480.2 421 482.8 419.5 482.1 418 482.8 415 486.3 413.5 486.9 409 485.3 406 486.4 404.5 488.2 403 489 397 490.1 395.5 488.8 392.5 487.7 391 488.3 386.5 487.8 383.5 490 380.5 491.1 377.5 490.8 376 488.9 374.5 488.6 370 490 368.5 489.1 367 488.9 365.5 487.3 364 487.8 361 487.8 356.5 485.2 355 485.6 352 485.5 350.5 484.8 349 485.4 346 485.7 340 481.6 338.5 481.8 335.5 480.8 334 481.2 331 482.8 326.5 480.9 323.5 481.8 320.5 481.9 316 480.9 313 479.5 310 480.7 305.5 478.2 301 479.8 299.5 479.5 296.5 477.9 292 477.7 289 478.2 284.5 476.8 283 477.8 281.5 477.8 280 478.5 278.5 477 275.5 477.2 272.5 478.2 268 478.2 265 475.8 262 477.5 260.5 479 257.5 478.8 250 475.4 245.5 477.2 244 476.1 241 475.5 239.5 475.8 238 474.5 235 474.6 233.5 475.1 230.5 474.8 229 475.8 226 476.3 224.5 475.5 221.5 478.2 218.5 478 217 476.8 215.5 477.8 214 477.5 209.5 481.8 203.5 482.8 200.5 482.5 199 483.5 193 485.1 190 485.1 188.5 484.6 187 485.6 185.5 485.1 179.5 488.3 178 488.8ZM176.5 489.4 176.4 489 177.2 489Z"/>
<path fill="#30ffcf" d="M182.6 485 185.5 482.8 187 482.9 188.5 482.2 191.5 482.8 199 480.3 200.5 479.3 203.5 479.7 209.5 478.5 214 474 215.5 474 217 473.2 218.5 474 221.5 474.2 224.5 471.7 226 472.2 229 471.4 230.5 470.5 232 470.4 233.5 470.8 238 470.5 239.5 471.3 241 470.7 244 471.2 245.5 472.5 250 471.1 256 473.6 257.5 475 260.5 475.2 262 473 265 472 268 474.2 272.5 474.3 278.5 472.7 280 474.3 283 473.2 284.5 472 289 473.3 292 472.7 296.5 473.1 299.5 474.9 301 475.2 302.5 474.4 305.5 473.8 310 476.1 311.5 475.2 313 475 320.5 477.5 322 477.7 326.5 476.8 331 478.6 334 476.5 335.5 476.3 340 477.1 346 481.7 350.5 480.7 352 481.5 356.5 481.1 361 483.1 362.5 482.4 364 482.7 365.5 482.4 367 483.9 368.5 484.2 370 485.4 374.5 484.2 376 484.4 377.5 486 380.5 486.1 386.5 483.7 391 484.3 392.5 483.6 395.5 484.3 397 486.1 403 485 404.5 484.2 406 482.7 409 481.5 410.5 481.6 413.5 483.4 415 482.9 416.5 480.5 419.5 478.4 421 478.6 422.5 478.1 427 475.2 430 474.5 433 475 434.5 473.8 437.5 473.6 440.5 474.3 442 473.9 449.5 474.3 455.1 475 456.3 476 452.5 477 442 477 439 477.4 437.5 476.7 434.5 477 433 478.4 430 477.6 427 478.4 425.5 480.1 421 482.7 419.5 482 418 482.7 415 486.1 413.5 486.8 409 485.2 406 486.2 404.5 488.1 403 488.9 397 490 395.5 488.7 392.5 487.6 391 488.2 386.5 487.7 383.5 489.9 380.5 491 377.5 490.7 376 488.8 374.5 488.5 370 489.9 368.5 488.9 367 488.8 365.5 487.1 364 487.7 361 487.7 356.5 485 355 485.5 353.5 485.2 352 485.4 350.5 484.7 346 485.5 340 481.5 338.5 481.7 335.5 480.7 334 481 331 482.7 326.5 480.8 323.5 481.7 320.5 481.8 316 480.8 313 479.3 310 480.5 305.5 477.9 301 479.6 299.5 479.3 296.5 477.8 292 477.5 289 478 284.5 476.6 283 477.7 281.5 477.7 280 478.4 278.5 476.8 275.5 477.1 272.5 478.1 268 478 265 475.7 262 477.3 260.5 478.9 257.5 478.7 250 475.2 245.5 477.1 244 475.9 241 475.4 239.5 475.6 238 474.4 233.5 474.9 230.5 474.6 229 475.7 226 476.1 224.5 475.3 221.5 478 218.5 477.8 217 476.6 215.5 477.6 214 477.3 209.5 481.6 203.5 482.6 200.5 482.3 199 483.3 192.2 485 190.6 485 188.5 484.3 187 485.2 185.5 484.4 184 485.1Z"/>
<path fill="#20ffdf" d="M189.4 484 190 483.2 193 482.8 199 480.6 200.5 479.6 203.5 479.9 209.5 478.7 214 474.2 215.5 474.3 217 473.4 218.5 474.2 221.5 474.4 224.5 471.9 226 472.4 229 471.6 230.5 470.7 232 470.5 233.5 471 238 470.6 239.5 471.5 241 470.9 244 471.4 245.5 472.7 250 471.2 256 473.8 257.5 475.1 260.5 475.3 262 473.1 265 472.1 268 474.3 272.5 474.5 278.5 472.9 280 474.4 283 473.3 284.5 472.1 289 473.5 292 472.9 296.5 473.3 299.5 475.1 301 475.5 302.5 474.6 305.5 474 310 476.2 311.5 475.4 313 475.2 316 476.4 322 477.9 326.5 477 331 478.7 334 476.7 335.5 476.5 340 477.3 346 481.8 350.5 480.9 352 481.6 356.5 481.2 361 483.3 362.5 482.5 364 482.9 365.5 482.5 367 484.1 368.5 484.4 370 485.6 374.5 484.4 376 484.6 377.5 486.2 380.5 486.3 386.5 483.8 391 484.4 392.5 483.8 395.5 484.5 397 486.3 403 485.1 404.5 484.4 406 482.8 409 481.7 410.5 481.8 413.5 483.6 415.1 483 416.5 480.7 419.5 478.6 421 478.8 422.5 478.2 427 475.3 430 474.6 433 475.2 434.5 473.9 437.5 473.8 440.5 474.5 442 474.2 453.2 475 453.9 476 446.5 477 442 476.7 439 477.2 437.5 476.5 434.5 476.8 433 478.2 430 477.4 427 478.2 425.5 479.9 421 482.5 419.5 481.8 418 482.5 415 486 413.5 486.6 409 485 406 486.1 404.5 487.9 403 488.7 397 489.9 395.5 488.5 392.5 487.5 391 488.1 386.5 487.6 383.5 489.8 380.5 490.8 377.5 490.5 376 488.6 374.5 488.3 370 489.8 368.5 488.8 367 488.7 365.5 486.9 364 487.5 362.5 487.2 361 487.6 356.5 484.9 355 485.4 353.5 485 352 485.3 350.5 484.6 346 485.4 340 481.3 338.5 481.5 335.5 480.5 334 480.8 331 482.6 326.5 480.7 323.5 481.6 320.5 481.7 316 480.7 313 479.2 310 480.4 305.5 477.8 301 479.5 299.5 479.2 296.5 477.6 292 477.3 289 477.9 284.5 476.4 283 477.5 280 478.2 278.5 476.7 275.5 476.9 272.5 477.9 268 477.9 265 475.5 262 477.1 260.5 478.8 257.5 478.6 250 475.1 247 476.7 245.5 476.9 244 475.8 241 475.2 239.5 475.5 238 474.2 233.5 474.7 230.5 474.4 229 475.5 226 475.9 224.5 475.2 221.5 477.9 218.5 477.6 217 476.4 215.5 477.4 214 477.1 209.5 481.4 203.5 482.4 200.5 482.1 199 483.1 196 483.5 194.5 484.1 191.5 484.4Z"/>
<path fill="#10ffef" d="M195.6 483 195.9 482 197.5 481.7 200.5 479.9 203.5 480.4 209.5 478.9 214 474.4 215.5 474.5 217 473.6 218.5 474.4 221.5 474.7 224.5 472.1 226 472.6 229 471.8 230.5 470.8 232 470.7 233.5 471.2 238 470.8 239.5 471.7 241 471.1 244 471.6 245.5 472.9 250 471.4 256 474 257.5 475.3 260.5 475.5 262 473.3 265 472.3 268 474.5 272.5 474.6 275.5 473.5 278.5 473 280 474.6 283 473.5 284.5 472.3 289 473.7 292 473.1 296.5 473.5 299.5 475.3 301 475.7 302.5 474.8 305.5 474.2 310 476.4 311.5 475.5 313 475.3 320.5 477.9 322 478 326.5 477.1 331 478.9 334 476.9 335.5 476.7 340 477.5 346 482 350.5 481 352 481.8 356.5 481.3 361 483.4 362.5 482.7 364 483.1 365.5 482.7 367 484.2 368.5 484.5 370 485.8 374.5 484.5 376 484.8 377.5 486.3 379 486.6 380.5 486.4 386.5 484 391 484.5 392.5 483.9 395.5 484.6 397 486.4 403 485.3 404.5 484.5 406 483 409 481.8 410.5 482 413.5 483.8 415.3 483 416.5 480.9 419.5 478.7 421 479.1 427 475.5 430 474.8 433 475.4 434.5 474.2 437.5 474 439 474.6 451 475 451.6 476 442 476.4 440.5 477.1 439 477 437.5 476.3 434.5 476.6 433 478.1 430 477.2 427 478 425.5 479.7 421 482.4 419.5 481.6 418 482.4 415 485.8 413.5 486.5 409 484.9 406 485.9 404.5 487.8 403 488.6 397 489.7 395.5 488.4 392.5 487.4 391 488 386.5 487.5 383.5 489.6 380.5 490.7 377.5 490.4 376 488.5 374.5 488.1 370 489.7 368.5 488.7 367 488.5 365.5 486.8 364 487.4 362.5 487.1 361 487.5 356.5 484.8 355 485.3 353.5 484.9 352 485.2 350.5 484.4 346 485.3 340 481.1 338.5 481.3 335.5 480.3 334 480.7 331 482.5 326.5 480.6 323.5 481.5 320.5 481.6 316 480.6 313 479 310 480.2 305.5 477.6 301 479.3 299.5 479 296.5 477.4 292 477.2 289 477.8 284.5 476.2 283 477.4 280 478.1 278.5 476.6 275.5 476.8 272.5 477.8 268 477.8 265 475.4 262 477 260.5 478.7 257.5 478.5 250 474.9 247 476.5 245.5 476.8 244 475.7 242.5 475.7 241 475 239.5 475.4 238 474 233.5 474.6 230.5 474.2 229 475.3 226 475.7 224.5 475 221.5 477.7 218.5 477.4 217 476.3 215.5 477.2 214 476.8 209.5 481.2 205 481.6 203.5 482.2 200.5 481.7 197.6 483Z"/>
<path fill="#00ffff" d="M202.5 481 203.5 480.9 205 480 209.5 479.4 214 474.7 215.5 474.7 217 473.8 218.5 474.7 221.5 474.9 224.5 472.4 226 472.7 230.8 471 233.5 471.3 238 470.9 239.5 471.8 241 471.2 244 471.7 245.5 473.1 250 471.5 256 474.1 257.5 475.4 260.5 475.6 262 473.4 265 472.4 268 474.7 272.5 474.8 275.5 473.7 278.5 473.2 280 474.8 283 473.7 284.5 472.4 289 473.9 292 473.3 296.5 473.7 299.5 475.5 301 475.9 302.5 475.1 305.5 474.4 310 476.6 311.5 475.7 313 475.5 320.5 478 322 478.2 326.5 477.2 331 479.1 334 477.1 335.5 476.8 340 477.6 346 482.1 350.5 481.1 352 481.9 353.5 481.6 355 481.9 356.5 481.5 361 483.6 362.5 482.9 364 483.2 365.5 482.9 367 484.4 368.5 484.7 370 486 374.5 484.7 376 484.9 377.5 486.5 379 486.8 380.5 486.6 386.5 484.1 391 484.6 392.5 484 395.5 484.8 397 486.6 403 485.4 404.5 484.7 406 483.1 409 482 410.5 482.1 413.5 483.9 415.6 483 416.5 481 419.5 478.9 421 479.3 427 475.7 430 474.9 433 475.6 434.5 474.5 437.5 474.4 439 474.8 445.9 475 447.5 476 442 476.2 440.5 476.6 437.5 476.1 434.5 476.4 433 477.8 430 477 427 477.7 425.5 479.5 421 482.2 419.5 481.5 418 482.3 414.5 486 413.5 486.4 409 484.7 406 485.8 404.5 487.7 401.5 489 397 489.6 395.5 488.3 392.5 487.2 391 487.9 386.5 487.4 383.5 489.5 380.5 490.6 379 490.7 377.5 490.3 376 488.3 374.5 488 370 489.6 368.5 488.6 367 488.4 365.5 486.7 364 487.2 362.5 486.9 361 487.4 356.5 484.7 355 485.2 352 485.1 350.5 484.3 346 485.2 340 481 338.5 481.2 335.5 480.2 334 480.5 331 482.4 326.5 480.5 322 481.7 316 480.5 313 478.9 310 480.1 305.5 477.4 301 479.2 296.5 477.3 293.5 477.4 292 477 289 477.6 284.5 476.1 283 477.2 280 477.9 278.5 476.4 275.5 476.7 274 477.5 268 477.6 265 475.3 261.8 477 260.5 478.6 257.5 478.4 250 474.8 247 476.4 245.5 476.7 244 475.5 242.5 475.5 241 474.9 239.5 475.2 238 473.9 233.5 474.4 230.5 474 229 475.1 226 475.5 224.5 474.7 221.5 477.5 218.5 477.2 217 476.1 215.5 477 214 476.5 209.5 481.1 205 481.2 203.5 481.8Z"/>
<path fill="#00efff" d="M213.6 476 214 474.9 215.5 475 217 474 218.5 474.9 221.5 475.2 224.5 472.6 226 472.9 232 471.1 233.5 471.5 238 471.1 239.5 472 241 471.4 242.5 472 244 471.9 245.5 473.2 250 471.6 256 474.3 257.5 475.5 260.5 475.7 262 473.6 265 472.5 268 474.8 272.5 475 275.5 473.8 278.5 473.3 280 475 283 473.8 284.5 472.6 289 474 292 473.4 296.5 473.9 299.5 475.7 301 476.1 302.5 475.3 305.5 474.6 310 476.8 311.5 475.9 313 475.6 320.5 478.1 322 478.3 326.5 477.3 331 479.2 334 477.2 335.5 477 340 477.8 346 482.3 347.5 481.7 349 481.9 350.5 481.2 352 482.1 353.5 481.7 355 482 356.5 481.6 361 483.7 362.5 483.1 365.5 483 367 484.6 368.5 484.9 370 486.2 374.5 484.8 376 485.1 377.5 486.7 379 487 380.5 486.8 386.5 484.2 391 484.8 392.5 484.1 395.5 485 397 486.7 403 485.6 406 483.3 409 482.2 410.5 482.3 413.5 484.2 415 483.5 415.7 484 415 485.5 413.5 486.3 410.5 484.8 409 484.6 406 485.6 404.5 487.5 403 488.4 397 489.5 395.5 488.2 392.5 487.1 391 487.8 386.5 487.3 383.5 489.4 380.5 490.5 379 490.5 377.5 490.1 376 488.2 374.5 487.8 370 489.5 368.5 488.4 367 488.3 365.5 486.6 361 487.2 356.5 484.6 352 485 350.5 484.2 346 485 340 480.8 338.5 481 335.5 480 334 480.4 331 482.3 326.5 480.4 322 481.6 316 480.3 313 478.7 310 479.9 305.5 477.2 301 479 296.5 477.1 293.5 477.2 292 476.8 289 477.5 284.5 475.9 283 477.1 280 477.8 278.5 476.3 275.5 476.5 274 477.4 268 477.5 265 475.2 261.6 477 260.5 478.5 257.5 478.2 250 474.7 247 476.3 245.5 476.6 244 475.4 242.5 475.4 241 474.7 239.5 475.1 238 473.7 236.5 474.1 235 473.8 233.5 474.3 230.5 473.8 229 474.9 226 475.3 224.5 474.5 221.5 477.3 218.5 477 217 475.6 215.5 476.4ZM438.3 475 436.9 476 434.5 476.1 433 477.4 430 476.6 427 477.5 425.5 479.3 421.1 482 419.5 481.3 416.5 483.5 415.8 483 416.5 481.3 418 479.9 419.5 479.1 421 479.5 427 475.8 430 475.3 433 475.9 434.5 474.8ZM212.7 477 212.5 478.1 211.2 478Z"/>
<path fill="#00dfff" d="M223.6 474 224.5 472.8 226 473.4 229 472.6 230.5 471.6 238 471.3 239.5 472.2 241 471.5 242.5 472.1 244 472.1 245.5 473.4 250 471.7 256 474.4 257.5 475.6 260.5 475.9 262 473.7 265 472.7 268 475 272.5 475.2 275.5 474 278.5 473.5 280 475.2 283 474 284.5 472.8 289 474.2 292 473.6 296.5 474 301 476.4 305.5 474.8 308.5 475.9 310 477 313 475.7 316 477.1 322 478.4 326.5 477.4 331 479.3 334 477.3 335.5 477.2 340 477.9 346 482.4 347.5 481.9 349 482 350.5 481.4 352 482.2 353.5 481.8 355 482.2 356.5 481.7 361 483.9 362.5 483.2 365.5 483.2 367 484.7 368.5 485 370 486.4 374.5 485 376 485.3 377.5 486.8 379 487.1 383.5 485.8 386.5 484.3 391 484.9 392.5 484.2 395.5 485.1 397 486.9 403 485.7 406 483.5 409 482.4 410.5 482.5 413.5 484.4 415 483.7 415.5 484 415 485.4 413.5 486.2 410.5 484.6 409 484.4 406 485.5 404.5 487.4 403 488.3 397 489.4 395.5 488 392.5 487 391 487.7 386.5 487.1 383.5 489.3 380.5 490.4 379 490.4 377.5 490 376 488.1 374.5 487.7 370 489.3 368.5 488.3 367 488.1 365.5 486.4 361 487.1 356.5 484.5 352 484.8 350.5 484.1 346 484.9 344.5 484.2 340 480.6 338.5 480.8 335.5 479.9 334 480.3 331 482.1 326.5 480.3 322 481.5 316 480.2 313 478.6 310 479.7 305.5 477 301 478.7 299.5 478.5 296.5 476.9 293.5 477.1 292 476.7 289 477.4 284.5 475.7 283 476.9 280 477.6 278.5 476.2 275.5 476.4 274 477.2 268 477.4 265 475 261.4 477 260.5 478.4 257.5 478.1 250 474.6 245.5 476.4 244 475.2 242.5 475.2 241 474.5 239.5 474.9 238 473.6 236.5 474 235 473.6 233.5 474.1 230.5 473.5 229 474.5 226 475.1ZM223.2 475 223 476 221.5 477.1 219.9 477 218.5 476 221.5 475.8 223 474.5ZM426.5 477 427.2 476 431.7 476 431.6 477 430 476.1 428.5 477.1ZM425.8 478 425.5 479.1 424 479.4 422.5 481.1 421 481.7 419.5 481.2 416.5 483.3 416 483 416.5 481.5 418 480 419.5 479.4 421 479.7 424 477.9 425.5 477.6Z"/>
<path fill="#00cfff" d="M225.9 474 227.5 473 229 472.9 230.5 471.8 238 471.5 239.5 472.4 241 471.7 242.5 472.3 244 472.3 245.5 473.6 250 471.9 256 474.6 257.5 475.8 260.5 476.1 262 473.9 265 472.8 268 475.3 272.5 475.4 275.9 474 278.5 473.7 280 475.4 283 474.2 284.5 472.9 289 474.4 292 473.7 293.5 474.2 296.5 474.3 298 474.9 299.5 476.2 301 476.6 305.5 475 310 477.2 313 475.9 316 477.2 322 478.5 326.5 477.5 331 479.5 334 477.5 337 477.6 340 478.1 341.5 478.9 343.6 481 346 482.5 349 482.2 350.5 481.5 352 482.3 353.5 481.9 355 482.3 356.5 481.8 361 484 362.5 483.3 364 483.6 365.5 483.3 367 484.9 368.5 485.2 370 486.5 374.5 485.2 376 485.4 377.5 487 380.5 487.1 386.5 484.4 391 485 392.5 484.4 395.5 485.3 397 487 401.5 486.3 404.5 485.2 405 486 404.5 487.3 403 488.2 397 489.3 395.5 487.9 392.5 486.9 391 487.6 386.5 487 383.5 489.1 380.5 490.3 379 490.3 377.5 489.8 376 487.9 374.5 487.5 370 489.2 368.5 488.2 367 488 365.5 486.3 361 487 356.5 484.4 352 484.7 350.5 484 346 484.7 344.5 484.1 340 480.5 338.5 480.6 335.5 479.7 334 480.1 331 482 326.5 480.1 322 481.4 316 480.1 313 478.5 310 479.5 307.1 478 305.5 476.5 301 478.4 299.5 478.3 296.5 476.7 293.5 476.9 292 476.5 289 477.2 284.5 475.5 283 476.7 280 477.5 278.5 476 275.5 476.3 274 477.1 268 477.2 265 474.8 261.2 477 260.5 478.2 257.5 478 250 474.5 245.5 476.3 244 475.1 242.5 475.1 241 474.4 239.5 474.7 238 473.4 236.5 473.7 235 473.4 233.5 473.9 230.5 473.2 229 474.1ZM417.7 481 419.5 479.8 422.6 480 421.8 481 418 481.4ZM416.5 481.8 417.2 482 416.5 483.2ZM404.9 485 406 483.6 409 482.6 410.5 482.7 413.5 484.7 415.2 484 415 485.2 413.5 486.1 410.5 484.4 409 484.3 406 485.3Z"/>
<path fill="#00bfff" d="M231.9 472 233.5 472.3 238 471.7 239.5 472.6 241 471.9 242.5 472.5 244 472.5 245.5 473.7 250 472 256 474.7 257.5 475.9 260.5 476.3 261 477 260.5 478.1 257.5 477.8 250 474.4 245.5 476.2 244 474.9 242.5 474.9 241 474.2 239.5 474.4 238 473.2 232 473ZM267.2 475 266.5 475.5 265 474.5 262 476.3 261.1 476 262 474.1 265 472.9 266.6 474ZM267.4 476 268 475.6 272.5 475.7 276.6 474 278.5 473.8 279.1 475 280 475.6 281.5 474.7 283 474.5 284.5 473.2 289 474.6 292 473.9 293.5 474.5 296.5 474.6 297.8 475 299.5 476.6 301 476.9 302.5 476.5 303.1 477 301 478.2 299.5 478.1 296.5 476.4 292 476.4 289 477.1 284.5 475.4 283 476.5 281.5 476.6 280 477.3 278.5 475.7 277 475.7 274 477 268 477.1ZM306.7 477 306.8 476 310 477.5 313 476 316 477.3 322 478.6 326.5 477.6 331 479.6 334 477.6 337 477.7 341.2 479 346 482.6 349 482.3 350.5 481.6 352 482.4 353.5 482.1 355 482.4 356.5 481.9 361 484.2 362.5 483.4 364 483.8 365.5 483.4 367 485 368.5 485.4 370 486.7 374.5 485.5 376 485.6 377.5 487.2 380.5 487.3 386.5 484.5 391 485.2 392.5 484.5 395.5 485.4 397 487.2 401.5 486.6 404.5 485.5 404.8 486 404.5 487.2 403 488.1 397 489.2 395.5 487.7 392.5 486.7 391 487.5 386.5 486.9 383.5 489 380.5 490.2 379 490.2 377.5 489.6 376 487.6 374.5 487.3 370 489.1 368.5 488.1 367 487.8 365.5 486.2 361 486.9 356.5 484.4 352 484.6 350.5 483.8 349 484.4 346 484.6 344.5 484 340 480.3 338.5 480.5 335.5 479.5 334 480 331 481.9 326.5 480 322 481.3 316.1 480 314.5 478.8 313 478.4 310 479.4ZM405.4 485 406 483.8 409 482.8 410.5 482.9 413.5 484.9 415 484.5 415 485 413.5 485.4 410.5 484.2 409 484.1 407 485Z"/>
<path fill="#00afff" d="M235.8 473 237 472 238 471.9 239.5 472.8 241 472.1 242.5 472.7 244 472.7 245.5 473.9 250 472.2 256 474.9 257.5 476 260.5 476.6 260.8 477 260.5 478 257.5 477.5 250 474.3 245.5 476.1 244 474.6 239.5 474.2 238 473.1ZM261.5 476 262 474.5 265 473.5 266.2 474 265 474.2 262 476.1ZM278.5 474 278.5 475.3 277 475.3 275.5 476 275.2 475ZM279.5 476 281.5 474.8 283 474.7 284.5 473.5 289 474.7 292 474.2 293.5 474.7 296.5 474.8 298.2 476 298 476.7 296.5 476.2 292 476.2 289 476.9 284.5 475.2 283 476.3 281.5 476.3 280 477.2ZM268 476.5 268 475.9 269 476ZM271.6 476 275.5 476 272.5 476.7ZM307.9 477 308.5 476.9 310 477.7 311.5 476.6 313 476.3 314.5 476.6 316 477.5 322 478.7 326.5 477.7 331 479.7 334 477.8 337 477.8 340.6 479 346 482.8 349 482.5 350.5 481.7 352 482.6 356.5 482 361 484.3 362.5 483.6 364 483.9 365.5 483.6 367 485.2 368.5 485.5 370 486.8 374.5 485.7 376 485.8 376.7 487 376 487.4 374.5 487.2 370 489 368.5 487.9 367 487.7 365.5 486 361 486.8 356.5 484.3 352 484.5 350.5 483.7 349 484.3 346 484.4 340 480.1 338.5 480.3 335.5 479.4 334 479.7 331 481.7 326.5 479.9 322 481.2 316.5 480 314.5 478.6 313 478.2 311.5 478.4 310 479.2 308.4 478ZM405.9 485 406 484 408.2 484ZM376.7 488 377.5 487.4 380.5 487.4 386.5 484.5 391 485.3 392.5 484.6 394 484.9 395.5 485.6 397 487.5 403 486.6 404.6 486 404.5 487 402.5 488 397 489.1 395.5 487.5 392.5 486.6 391 487.4 386.5 486.8 383.5 488.9 380.5 490.1 379 490.1 377.5 489.5Z"/>
<path fill="#009fff" d="M240 473 244 472.8 245.5 474.2 250 472.4 255.9 475 256.9 476 256 476.4 253.9 476 251.5 474.5 250 474.2 245.5 475.8 244 474.3 241.6 474ZM280 477 280 476 281.8 475 283 474.9 284.5 473.8 289 474.9 292 474.6 295.2 475 295.3 476 289 476.5 284.5 475 283 476.1 281.5 476.1ZM262.7 475 262 476 262 474.9ZM257 477 257.5 476.5 260.6 477 260.5 477.4ZM309.9 478 311.5 476.8 313 476.6 322 478.8 326.5 477.8 331 479.9 334 477.9 337 478 338.5 478.9 340 479 339.4 480 338.5 480.1 337 479.3 334 479.4 331 481.5 326.5 479.7 322.5 481 320.9 481 316.8 480 314.5 478.4 311.5 478.2 310 479ZM340.5 480 341.5 479.8 343.9 482 343 482.1ZM344.2 483 344.5 482.3 346 482.9 349 482.6 350.5 481.8 352 482.7 356.5 482.2 361 484.4 362.5 483.7 364 484.1 365.5 483.7 367 485.4 368.5 485.7 370 487 376 485.9 376.3 487 374.5 487 370 488.6 368.5 487.6 367 487.5 365.5 485.8 364 486.4 361 486.6 356.5 484.2 352 484.4 350.5 483.5 349 484.2 346 484.3ZM377 488 380.5 487.6 386.5 484.6 391 485.4 392.5 484.7 394 485 395.5 485.7 396.1 487 395.5 487.3 392.5 486.5 391 487.3 386.5 486.7 383.5 488.7 380.5 489.9 379 490 377.5 489.3ZM396.6 488 400 487.6 400.6 488 397 489Z"/>
<path fill="#008fff" d="M245.3 475 248.5 472.9 250 472.6 251.5 473 256.3 476 254.4 476 251.5 474.3 250 474.1 247 475.2ZM243.6 474 244 473.6 244.1 474ZM287.4 475 289 475.7 290.5 475.5 290.9 476 287.5 476ZM311.9 477 314.5 476.8 316 477.8 322 479 326.5 477.9 331 480 332.5 478.9 335.7 478 336.4 479 334 479.2 331 481.3 329.5 481 326.5 479.5 322 481 317.2 480ZM345.8 484 346.1 483 349 482.8 350.5 481.9 352 482.8 356.5 482.4 361 484.6 362.5 483.8 364 484.3 365.5 483.8 366.1 485 364 486.3 361 486.5 356.5 484.1 352 484.3 350.5 483.3 349 484.1ZM377.3 488 380.5 487.7 386.5 484.7 389.5 485 391 485.6 392.5 484.8 395.5 485.9 395.8 487 392.5 486.3 391 487.2 386.5 486.6 383.5 488.6 380.5 489.6 377.5 489.1ZM366.3 486 367 485.6 368.5 485.9 369.4 487 367 487.3ZM372.3 487 371.7 488 369.6 488 371.2 487Z"/>
<path fill="#0080ff" d="M249.1 473 250.8 473 250 473.6ZM248 474 248.5 473.6 249 474ZM250.9 474 251.5 473.6 251.9 474ZM314.2 477 317.5 478.3 322 479.2 326.5 478.2 330.2 480 329.5 480.5 326.5 479.3 322 480.8 316 479.2 314.1 478ZM347.5 483 349 482.9 350.5 482.3 352 482.9 356.5 482.6 361 484.7 362.5 484 364 484.5 365.5 484 365.9 485 364 486.2 361 486.4 356.5 483.9 352 484.1 350.5 483.1 348.5 484ZM395 486 392.5 486.2 391 487.1 389.5 486.5 386.5 486.4 382 489.2 378 489 386.5 484.8 391 485.7 392.5 484.9ZM366.7 486 368.3 486 368.7 487 367 487.1Z"/>
<path fill="#0070ff" d="M316 479 316 478.6 319 478.7 322 479.5 323.5 478.9 326.5 478.7 328 479 328.4 480 326.5 479.1 322 480.5 318.3 480ZM352 484 352.5 483 357.1 483 355.6 484ZM357.2 484 358 483.6 361 484.8 362.5 484.3 365.6 485 364 486.1 362.5 485.7 361 486.2ZM393.2 486 391 487 389.5 486.3 386.5 486.3 382.1 489 379.6 489 380.5 488 386.5 484.9 391 485.9 392.5 485.3Z"/>
<path fill="#0060ff" d="M317.7 479 319 478.9 322 479.8 323.5 479.5 323.6 480 319 480ZM359 485 359.5 484.4 361 484.9 363.5 485 361 486.1ZM381.5 488 386.5 485.1 390.8 486 386.5 486.2 383.5 488.2 382 488.5Z"/>
<path fill="#0050ff" d="M382.7 488 385 485.9 386.5 485.6 388.5 486 386.5 486.1 383.5 488.1Z"/>
<path fill="#0040ff" d="M386 486 385.1 487 384.4 487 385 486Z"/>
</g></g>
<rect x="87.5" y="350.5" width="497" height="292.5" fill="none" stroke="#303030" stroke-width="1" opacity="0.35"/>
<path d="M99 350.6H87.7V642.8H99" fill="none" stroke="#444" stroke-width="1.3"/>
<path d="M88 448.033h5" stroke="#444" stroke-width="1.2"/>
<path d="M88 545.367h5" stroke="#444" stroke-width="1.2"/>
<text x="78.3" y="359.8" font-size="21" fill="#262626" text-anchor="end">10</text>
<text x="78.3" y="457.133" font-size="21" fill="#262626" text-anchor="end">9</text>
<text x="78.3" y="554.467" font-size="21" fill="#262626" text-anchor="end">8</text>
<text x="78.3" y="651.8" font-size="21" fill="#262626" text-anchor="end">7</text>
<text transform="translate(42.8 497) rotate(-90)" font-size="24.7" fill="#262626" text-anchor="middle">Freq (GHz)</text>
<path d="M88.0 351.0 89.7 355.9 91.4 360.9 93.1 365.8 94.8 370.8 96.6 375.7 98.4 380.7 100.2 385.6 102.0 390.6 103.8 395.5 105.7 400.5 107.5 405.4 109.4 410.4 111.3 415.3 113.3 420.3 115.2 425.2 117.2 430.2 119.2 435.1 121.2 440.1 123.3 445.0 125.4 450.0 127.5 454.9 129.6 459.9 131.8 464.8 133.9 469.8 136.1 474.7 138.4 479.7 140.7 484.6 142.9 489.6 145.3 494.5 147.6 499.5 150.0 504.4 152.4 509.4 154.9 514.3 157.4 519.3 159.9 524.2 162.5 529.2 165.0 534.1 167.7 539.1 170.3 544.0 173.1 549.0 175.8 553.9 178.6 558.9 181.4 563.8 184.3 568.8 187.2 573.7 190.2 578.7 193.2 583.6 196.3 588.6 199.4 593.5 202.6 598.5 205.8 603.4 209.1 608.4 212.5 613.3 215.9 618.3 219.4 623.2 222.9 628.2 226.5 633.1 230.2 638.1 233.9 643.0" fill="none" stroke="#0a0af0" stroke-width="3.6"/>
<path d="M260.5 351.0 261.5 355.9 262.5 360.9 263.5 365.8 264.5 370.8 265.5 375.7 266.5 380.7 267.6 385.6 268.6 390.6 269.7 395.5 270.8 400.5 271.9 405.4 273.0 410.4 274.1 415.3 275.3 420.3 276.4 425.2 277.6 430.2 278.8 435.1 280.0 440.1 281.2 445.0 282.5 450.0 283.7 454.9 285.0 459.9 286.3 464.8 287.6 469.8 288.9 474.7 290.3 479.7 291.7 484.6 293.1 489.6 294.5 494.5 295.9 499.5 297.4 504.4 298.8 509.4 300.3 514.3 301.9 519.3 303.4 524.2 305.0 529.2 306.6 534.1 308.2 539.1 309.9 544.0 311.5 549.0 313.3 553.9 315.0 558.9 316.8 563.8 318.6 568.8 320.4 573.7 322.3 578.7 324.2 583.6 326.1 588.6 328.1 593.5 330.1 598.5 332.1 603.4 334.2 608.4 336.4 613.3 338.5 618.3 340.8 623.2 343.0 628.2 345.3 633.1 347.7 638.1 350.1 643.0" fill="none" stroke="#140606" stroke-width="3.2" stroke-dasharray="2.7 2.7"/>
<text x="433.3" y="401" font-size="27" font-style="italic" fill="#d9d2d2" textLength="132.8" lengthAdjust="spacingAndGlyphs">w=3.4 mm</text>
<text x="122.8" y="613.8" font-size="27" fill="#0a0000" textLength="56" lengthAdjust="spacingAndGlyphs"><tspan font-style="italic">m</tspan>=0</text>
<text x="479.9" y="612.3" font-size="27" fill="#0a0000" textLength="89.5" lengthAdjust="spacingAndGlyphs"><tspan font-style="italic">m</tspan>=-1,0</text>
<use href="#xm" x="289.4" y="475.5" fill="#0a0a0a"/>
<g clip-path="url(#c2)"><g filter="url(#bl)">
<rect x="93" y="658" width="497.5" height="302" fill="#880000"/>
<path fill="#8f0000" d="M97 662 170 662 166 668.8 163 675.9 154 702 147.7 723 146.3 730 145.7 736 146.1 741 147.1 745 149 749 152 753 155.4 756 158.6 758 163 760 169 761.8 170.5 761.7 184 751.3 199 741.8 212.5 738.3 221.5 735.2 237.2 729 250 723.1 274 720 290.5 719.1 310 719.6 340 726 356.5 728.8 371.5 731.8 383.5 733.4 391 733.6 398.5 732.5 418 730.7 428.5 730.5 470.5 733 490 734.8 509.5 737.3 535 741.6 547 744.4 557.5 749 565 754 577 759.6 586 765.2 586 928.2 577 934.5 565 941.8 557.5 948.2 545.3 956 234.3 956 234.2 954 216.4 931 198.1 905 183.1 882 168.3 858 163.8 849 150.3 819 127.4 763 121 750.7 118 747 116.5 746.3 113.5 745.8 107.5 746.7 103 746.5 100 745.8 97 744ZM418.3 662 566.5 662 586 665.8 586 714.6 574 713.5 544 708.6 488.5 696.8 464.5 690.7 457 688.2 451 685.5 434.5 676 424 668.5 420.6 665Z"/>
<path fill="#9f0000" d="M160.9 662 150.4 682 145.7 690 140.5 697.3 128.5 712.1 116.5 730.5 115 730.4 112 728.6 109 727.6 101.5 729.1 97 729.1 97 662ZM426.4 662 536.9 662 571.9 670 586 672.7 586 706.2 571 703.9 488.5 687.2 463 681.3 455.5 678.9 446.5 674.7 433 666.9ZM144 792 145 790.7 146.5 790.4 169 792.8 170.5 792.6 184 785.6 199 780.2 211 779.1 221.5 777.2 239.4 773 247 770 250 769.2 260.5 768.7 274 766.7 286 766.3 298 766.5 310 767.5 340 773 352 774 370 777.3 385 778.7 394 778.4 398.5 776.9 401.5 777.1 419.5 773.8 433 773.1 500.5 774.2 524.5 775.8 541 777.5 547 778.6 557.5 782 565 785.9 575.5 789.5 586 794.6 586 899.3 577 904.7 565 910.9 556 917.2 548.5 921.4 542.5 924.1 524.5 930.5 497.4 939 469 948.8 445.8 956 237.1 956 236.8 954 221.3 935 202.9 910 186.3 885 171.2 861 163.6 846 150.8 816 145 799.8 143.8 794Z"/>
<path fill="#af0000" d="M155.5 662 145 678.2 128.5 696.8 122.5 705.2 116.5 714.8 115 716.4 112 718.3 106 718.6 97 721.3 97 662ZM432.2 662 521.2 662 586 676.6 586 702.2 571 699.8 488.5 683.6 464.5 678.1 455.5 675.5 449.5 672.7 443.5 669.4ZM151.4 809 152.5 807.2 154 806.8 170.5 807.6 184 802.4 199 799.1 212.5 798.9 229 796.6 232 796.5 239.5 795.3 248.5 791.9 260.5 791.9 265 791.4 268 790.1 274 789.6 277 790 286 789.4 299.5 789.8 302.5 790.6 310 791.2 344.5 796.9 347.5 796.4 352 796.5 358 797.3 361 798.4 371.5 800 374.5 799.8 380.5 800.2 383.5 800.9 391 801.2 394 800.8 397 798.9 398.5 798.6 401.5 799.3 412 797.3 415 795.9 418 795.3 431.5 793.9 499 792.4 523 793 545.5 794.7 557.5 797.9 565 801.6 575.5 804.8 586 809.7 586 884.1 577 889.4 565 895.3 556 901.3 548.5 905.2 542.5 907.7 526 912.9 496.2 921 464.5 930.6 427 940.8 415 945.4 412 945.9 401.5 950.9 398.5 953.4 397 953.9 394 953.7 388 955.7 384.6 956 311.4 956 302.5 954.6 299.5 954.8 281.5 951.8 277 951.5 274 952 268 951.9 265 951 248.5 951.6 235 945.3 229 941 215.5 925.3 198.5 902 175.6 867 168.1 854 155.3 824 152.5 815.9Z"/>
<path fill="#bf0000" d="M151.3 662 142.7 673 128.5 687.6 115 707 109 711.5 104.5 712.8 97 715.9 97 670.6 100.1 662ZM436.8 662 510.2 662 532 666.7 586 679.5 586 699.5 572.5 697.3 488.5 681.2 466 676.2 457 673.7 452.5 671.8 445 667.7ZM586 873.6 577 879.1 565 884.9 560.5 888.3 548.5 894.7 542.5 897.1 524.5 902.3 497.5 908.9 463 918.4 427 927.4 415 931.7 412 931.9 401.5 936.7 398.5 939.6 397 940.1 394 939.5 388 941.7 383.5 941.8 379 942.9 374.5 943.1 371.5 942.5 361 942.3 358 943.1 352 943.1 347.5 942.6 344.5 941.4 328 941.8 310 940.8 302.5 939.6 299.5 940 280 936.8 268 937.4 265 936.2 248.5 937.4 242.5 935 239.5 933 232 931.1 229 931 223 928.8 217 924.1 208 913.6 191.2 890 171.3 859 166.8 850 159.8 833 157 824.9 156.2 819 157 817.3 158.5 816.9 170.5 817.2 181 813.8 193 811.7 200.5 811.1 212.5 811.7 229 810.1 232 810.4 239.5 809.6 242.5 808 248.5 806.2 251.5 806.7 257.5 806.3 260.5 806.7 265 806.2 268 804.6 274 804.1 277 804.8 283 804.6 286 804.1 299.5 804.5 302.5 805.6 310 806.3 344.5 811.8 347.5 810.9 352 810.8 358 811.5 361 812.8 370 814.2 380.5 814.2 383.5 815.1 391 815.7 394 815.2 397 812.8 398.5 812.4 401.5 813.5 412 811.4 415 809.5 418 808.9 430 807.3 499 804.1 521.5 804.1 544 805 548.5 805.7 557.5 808.2 565 811.9 578.5 816.3 586 820.1Z"/>
<path fill="#cf0000" d="M147.3 662 142 667.9 128.5 680.9 115 700.5 107.5 706.7 97 711.6 97 678.1 102.9 662ZM440.6 662 501.8 662 523 666.4 586 681.9 586 697.2 571 694.8 488.5 679.6 466 674.5 454 670.7 445.6 666ZM586 865.2 577 871.2 565 877.2 557.5 882.5 548.5 887.1 542.5 889.5 524.5 894.4 499 900.1 461.5 909.8 430 916.9 421 919.5 415 921.9 412 921.7 401.5 926.4 398.5 929.7 397 930.3 394 929.3 388 931.6 383.5 931.5 380.5 932.6 377.5 932.8 361 931.9 358 932.9 352 932.8 347.5 932.1 344.5 930.7 329.5 931.2 310 930 302.5 928.8 299.5 929.4 286 927.3 283 926.3 277 926 274 926.9 268 927 265 925.5 260.5 925.6 257.5 926.5 251.5 926.5 248.5 927.3 242.5 924.8 239.5 922.7 232 921.1 229 921.3 217 917.9 212.5 915.4 208 911.3 200.5 902 193 891.5 172.9 861 168.2 852 162.9 839 160 830.2 159.7 826 160 824.9 161.5 824.1 170.5 824.1 179.5 821.7 188.5 820.3 199 819.9 211 821 229 819.8 232 820.3 239.5 819.9 242.5 818.2 244 818.1 247 816.6 248.5 816.4 251.5 817.2 257.5 816.8 260.5 817.3 265 816.9 268 815 274 814.6 277 815.4 283 815.3 286 814.7 299.5 815.1 302.5 816.4 329.5 820 340 822 344.5 822.5 347.5 821.3 352 821.1 358 821.7 361 823.2 371.5 824.7 374.5 824.1 380.5 824.3 383.5 825.3 391 826.1 394 825.6 397 822.8 398.5 822.4 401.5 823.8 412 821.4 415 819.3 418 818.6 430 816.9 499 812.5 521.5 812.1 542.5 812.4 548.5 813.3 557.5 815.8 565 819.6 577 823.6 586 828.3Z"/>
<path fill="#df0000" d="M143.4 662 128.5 675.7 124 681.8 116.5 693.6 112.5 698 106 703.3 97 707.6 97 686.1 99.5 677 105.2 662ZM443.3 662 495.3 662 521.5 667.5 550 674.5 586 684.2 586 695.1 527.5 685.5 488.5 678.2 463 672.3 455.5 669.9 448.4 666ZM586 857.9 578.5 863.7 565 871 557.5 876.6 548.5 881.3 542.5 883.6 524.5 888.4 499 893.7 461.5 902.8 430 909.5 421 912 415 914.3 412 913.9 401.5 918.6 398.5 922.1 397 922.7 394 921.5 388 924 383.5 923.6 380.5 924.8 374.5 925.1 371.5 924.3 361 923.9 358 925 352 924.9 347.5 924.1 344.5 922.4 329.5 923 310 921.7 302.5 920.5 299.5 921.3 292 919.8 286 919.1 283 918.1 277 917.8 274 918.8 268 918.9 265 917.2 262 917.4 257.5 918.5 251.5 918.6 248.5 919.5 242.5 917 239.5 914.8 232 913.4 229 913.8 212.5 909.6 208 907.5 203.5 903.5 199 898.3 190 886.1 172.7 860 168.7 852 164.5 841.3 162.8 836 162.4 832 163 830.1 164.5 829.6 170.5 829.5 179.5 827.5 185.5 826.7 196 826.3 209.5 828.1 229 827.3 232 828 239.5 827.8 242.5 826.1 244 826 247 824.5 248.5 824.4 251.5 825.3 257.5 824.9 260.5 825.5 265 825 268 823 274 822.6 277 823.5 283 823.5 286 822.8 299.5 823.2 302.5 824.7 329.5 828.2 340 830.3 344.5 830.7 347.5 829.3 352 829 358 829.5 361 831.2 371.5 832.7 374.5 831.9 380.5 832 383.5 833.2 391 834.2 394 833.6 397 830.5 398.5 830.1 401.5 831.6 412 829.2 415 826.8 427 824.6 499 818.9 520 818.2 541 818.2 548.5 819.2 557.5 821.8 562 823.8 565 825.8 577 830.1 586 835.4Z"/>
<path fill="#ef0000" d="M139.3 662 128.5 671.3 124 677.5 116.5 689.5 112.4 694 104.5 700.7 100 702.8 98.4 703 97.7 702 97.4 699 97.9 692 98.8 686 101.1 678 107 662ZM445.9 662 490 662 515.5 667.4 551.5 676.4 586 686.5 586 693 571 691.1 530.5 684.7 487 676.8 467.5 672.4 457 669.2 450.9 666ZM586 848.2 585 851 583.6 853 580.7 856 576.9 859 565 865.8 560.5 869.7 556 872.6 548.5 876.5 541 879.4 524.5 883.5 499 888.5 460 897.5 428.5 904 419.5 906.4 415 908.2 412 907.7 401.5 912.3 398.5 916.1 397 916.7 394 915.4 388 918 383.5 917.3 380.5 918.5 374.5 918.8 371.5 918 361 917.5 358 918.7 352 918.6 347.5 917.8 344.5 915.9 340 915.7 337 916.2 329.5 916.4 310 915 302.5 913.9 299.5 914.8 292 913.2 286 912.6 283 911.5 277 911.2 274 912.3 268 912.5 265 910.7 260.5 911 257.5 912.1 251.5 912.2 248.5 913.3 247 913 244 911.1 242.5 910.8 239.5 908.5 232 907.2 229 907.8 218.5 905.6 208 902.7 202 898.9 197.5 894.4 188.5 882.9 177.5 867 173.1 860 170 854 166 843.7 164.4 837 165 835 166 834.2 185.5 831.5 196 831.5 209.5 833.8 229 833.2 232 834 239.5 834.1 242.5 832.4 244 832.3 247 830.9 248.5 830.7 251.5 831.8 257.5 831.4 260.5 832.1 265 831.6 268 829.4 274 829 277 830 283 830 286 829.3 292 829.6 295 829.3 299.5 829.7 302.5 831.3 329.5 834.7 340 836.9 344.5 837.3 347.5 835.7 353.5 835.4 358 835.8 361 837.6 371.5 839.1 374.5 838.2 380.5 838.2 383.5 839.4 391 840.7 394 840 397 836.7 398.5 836.2 401.5 837.9 412 835.3 415 832.8 427 830.5 499 824 518.5 823.2 539.5 822.9 547 823.6 556 826.1 560.5 828 565 831 571 833 577 835.7 582 839 584.8 842 586 844.8Z"/>
<path fill="#ff0000" d="M135.2 662 130 666.2 127 669.5 116.5 685.9 113 690 104.5 697.4 101.5 698.9 100 698.5 99.6 697 99.6 693 100.8 685 103.4 676 108.6 662ZM448.9 662 484.8 662 520 669.4 551.5 677.8 573.5 685 575.6 686 576.6 687 576.5 689 574 689.2 557.5 687.5 524.5 682.5 488.5 676.1 467.5 671.3 458.5 668.6 455.5 667.4 451.6 665 449.3 663ZM579.6 848 578.6 851 576.1 854 571 857.9 565 861.3 559 866.6 548.5 872.6 541 875.5 524.5 879.5 499 884.2 458.5 893.3 427 899.4 419.5 901.4 415 903.2 412 902.6 401.5 907.2 398.5 911.1 397 911.7 394 910.4 388 913.1 383.5 912.1 380.5 913.3 374.5 913.7 371.5 912.8 361 912.3 358 913.5 352 913.4 347.5 912.5 344.5 910.6 340 910.4 337 910.9 329.5 911.1 310 909.6 302.5 908.5 299.5 909.4 292 907.9 286 907.3 283 906.1 277 905.8 274 907 268 907.2 265 905.3 260.5 905.7 257.5 906.9 251.5 907 248.5 908.2 247 907.9 244 906 242.5 905.7 239.5 903.3 232 902.1 229 902.8 209.5 899 202 895.2 197.5 891.8 191.5 885.5 185.5 877.9 175.9 864 171.3 856 167.5 846.4 166.3 840 167.5 838 178 836.1 185.5 835.4 194.5 835.5 209.5 838.6 229 838.1 232 838.9 239.5 839.2 242.5 837.5 244 837.5 247 836.1 248.5 836 251.5 837.2 257.5 836.8 260.5 837.5 265 836.9 268 834.6 274 834.2 277 835.3 283 835.4 286 834.6 292 834.9 295 834.6 299.5 835.1 302.5 836.8 329.5 840.1 337 841.3 340 842.2 344.5 842.7 347.5 841 352 840.5 358 841 361 842.8 371.5 844.3 374.5 843.3 380.5 843.2 383.5 844.5 391 846.1 394 845.3 397 841.9 398.5 841.3 401.5 843 412 840.3 415 837.7 418 836.8 427 835.3 453.3 833 499 828.2 518.5 827.2 539.5 826.8 548.5 827.8 556 830.1 560.2 832 565 835.4 571.5 838 576.4 841 579 844Z"/>
<path fill="#ff1000" d="M131.3 662 127 666.2 116.5 682.9 114 686 110.5 689.5 104.5 694.2 103 694.9 101.8 694 101.8 689 103.2 682 109.8 662ZM452.4 662 479.3 662 493 664.4 521.5 670.7 550.8 679 558.7 682 560.1 683 560.3 685 559 685.5 554.5 685.4 533.5 682.9 488.5 675.3 467.5 670.4 459.6 668 453.7 665 452.8 664ZM573.1 848 572.7 850 570.6 853 565 857.2 562 860.5 559 863.1 548.5 869.3 541 872.2 524.5 876.2 499 880.7 458.5 889.5 427 895.3 419.5 897.2 415 899 412 898.4 401.5 903 398.5 907 397 907.6 394 906.3 388 909.1 383.5 907.8 380.5 909 374.5 909.4 371.5 908.5 361 908 358 909.1 352 909 347.5 908.1 344.5 906.2 329.5 906.6 310 905.1 302.5 904 299.5 905 292 903.4 286 902.8 283 901.7 277 901.3 274 902.5 268 902.7 265 900.8 260.5 901.3 257.5 902.5 251.5 902.7 248.5 904 247 903.7 244 901.7 242.5 901.4 239.5 899.1 232 897.9 229 898.7 209.5 895.4 203.5 892.5 197.5 888.9 191.5 883.8 187 878.8 179.5 868.8 173.2 859 169.9 852 167.9 844 168.2 842 169 841.1 175 839.6 184 838.7 194.5 839 209.5 842.5 229 842.1 232 843 239.5 843.5 242.5 841.8 244 841.8 247 840.5 248.5 840.4 251.5 841.6 257.5 841.2 260.5 842 265 841.3 268 839 274 838.6 277 839.7 283 839.9 286 839 292 839.4 295 839.1 299.5 839.6 302.5 841.3 329.5 844.6 332.5 845.4 337 845.8 340 846.7 344.5 847.2 347.5 845.4 352 844.9 358 845.3 361 847.2 371.5 848.6 374.5 847.6 380.5 847.4 385 849.2 391 850.5 394 849.7 397 846.2 398.5 845.6 401.5 847.2 412 844.4 415 841.8 418 840.8 427 839.3 452.1 837 499 831.7 518.5 830.6 539.5 830 548.5 831.1 559 834.9 562 836.8 565 839.6 571 843 572.6 845Z"/>
<path fill="#ff2000" d="M128 662 115 682.2 109 687.9 106 689.9 104.5 690.2 104 687 104.9 681 111 662ZM455.9 663 456.3 662 473.2 662 490 664.4 517 670.5 533.6 675 545.3 679 547.2 680 547.7 682 544 682.6 530.5 681.5 488.5 674.6 470.5 670.4 462.2 668 457.5 666 456.2 665ZM566.6 848 566.4 850 563.6 855 559 859.9 548.5 866.5 541 869.5 524.5 873.4 499 877.8 457 886.6 427 891.9 419.5 893.7 415 895.5 412 894.9 401.5 899.4 398.5 903.5 397 904.2 394 902.9 388 905.7 383.5 904.2 380.5 905.3 374.5 905.7 371.5 904.9 361 904.3 358 905.4 352 905.3 347.5 904.5 344.5 902.5 341.5 902.3 329.5 902.9 310 901.3 302.5 900.2 299.5 901.2 292 899.6 286 899 283 897.9 277 897.5 274 898.8 268 899 265 897 260.5 897.7 257.5 898.9 251.5 899.1 248.5 900.4 247 900.2 244 898.2 242.5 897.9 239.5 895.5 232 894.4 229 895.2 209.5 892.4 200.5 887.8 193 883 190 880.6 185.5 876 178 866.1 173.5 859 170.3 852 169 846 169.8 844 172 842.7 184 841.5 194.5 841.9 209.5 845.9 229 845.5 232 846.4 239.5 847 242.5 845.4 244 845.5 247 844.2 248.5 844.2 251.5 845.4 257.5 845 260.5 845.7 265 844.9 268 842.7 274 842.3 277 843.4 283 843.6 286 842.7 292 843.1 295 842.8 299.5 843.4 302.5 845.1 329.5 848.4 332.5 849.1 337 849.5 340 850.4 344.5 850.9 347.5 849.2 352 848.6 358 849 361 850.8 371.5 852.3 374.5 851.2 380.5 851 385 852.8 391 854.3 394 853.4 397 849.8 398.5 849.2 401.5 850.8 412 847.8 415 845.2 418 844.1 427 842.6 454 840 499 834.7 518.5 833.4 539.5 832.7 548.5 833.9 556 836.5 559 838 563.6 842 566.2 846Z"/>
<path fill="#ff3000" d="M126 662 115 679.7 110.5 684.1 107.5 685.5 106.7 685 106.4 683 107.1 678 112 662ZM459.6 663 463 662.1 470.5 662.4 487 664.5 518.5 671.6 530.1 675 535.4 677 536.7 678 536.9 680 533.5 680.5 526 679.9 487 673.7 464.5 667.9 460.2 666 459.5 665ZM563.1 848 562.9 851 562.1 853 560.5 855.4 557.8 858 548.5 864.1 541 867.2 524.5 871.1 499 875.2 454 884.4 427 889 419.5 890.7 415 892.6 412 892 401.5 896.5 398.5 900.5 397 901.3 394 900.1 388 902.9 383.5 901.1 380.5 902.2 374.5 902.6 371.5 901.9 361 901.2 358 902.3 352 902.2 347.5 901.3 344.5 899.4 340 899.1 337 899.6 329.5 899.7 310 898.1 302.5 897 299.5 898 292 896.4 286 895.8 283 894.7 277 894.3 274 895.6 268 895.8 265 893.8 260.5 894.6 257.5 895.9 251.5 896.1 248.5 897.4 247 897.2 244 895.2 242.5 894.9 239.5 892.5 237.6 892 232 891.4 229 892.3 209.5 889.8 202 886.1 191.5 879.8 185.5 874.9 179.5 867.6 175 861 171.5 854 170.5 850.9 170.2 848 170.5 846.4 172 845.1 175 844.4 184 843.8 194.5 844.3 209.5 848.7 229 848.3 232 849.2 239.5 850 242.5 848.5 244 848.6 247 847.4 248.5 847.4 251.5 848.5 257.5 848.2 260.5 848.9 265 848 268 845.8 274 845.4 277 846.5 283 846.7 286 845.9 292 846.3 295 846 299.5 846.6 302.5 848.3 326.5 851.1 344.5 854.1 347.5 852.3 352 851.7 358 852.1 361 853.9 371.5 855.4 374.5 854.2 380.5 854 386.5 856.4 391 857.5 394 856.6 397 853 398.5 852.3 401.5 853.7 412 850.6 415 848.1 418 846.9 424 845.8 452.2 843 499 837.1 518.5 835.8 539.5 835 544 835.3 548.5 836.2 557.5 839.9 560.3 842 561.9 844 562.8 846Z"/>
<path fill="#ff4000" d="M124.4 662 115 677.5 110.5 681.3 109 681.3 108.5 679 109 675.4 112.9 662ZM463.1 664 464.5 663 467.8 663 488.5 665.3 520.5 673 528.5 676 529.1 678 527.5 678.8 518.5 678.1 488.5 673.4 472 669.4 464.6 667 463.2 666ZM560.5 848 560 852 557 856 548.5 862 541 865.2 524.5 869.1 499 873.1 452.5 882.4 427 886.5 419.5 888.1 415 890.1 412 889.5 409 890.4 401.5 894 398.5 898 397 898.8 394 897.7 388 900.6 383.5 898.5 380.5 899.5 374.5 899.9 371.5 899.3 361 898.6 358 899.6 352 899.5 347.5 898.7 344.5 896.9 341.5 896.5 329.5 897 310 895.4 302.5 894.2 299.5 895.3 292 893.6 286 893.1 283 892 277 891.6 274 892.8 268 893.1 265 891.1 260.5 892 257.5 893.3 251.5 893.5 248.5 894.8 247 894.6 244 892.6 242.5 892.3 239.5 890 236.5 889.3 232 888.9 229 889.8 209.5 887.7 190 877 184 872.3 179.5 867 175 860.5 172 854.4 171.1 850 172 847.3 173.5 846.7 182.5 845.8 194.5 846.4 209.5 851.2 229 850.8 232 851.6 239.5 852.5 242.5 851.1 244 851.2 247 850.2 248.5 850.1 251.5 851.3 257.5 851 260.5 851.6 265 850.6 268 848.5 274 848 277 849.1 283 849.4 286 848.6 292 849 295 848.8 299.5 849.4 302.5 851 326.5 853.8 344.5 856.8 347.5 855 352 854.4 358 854.7 361 856.6 371.5 858 374.5 856.8 380.5 856.5 386.5 859.1 391 860.2 394 859.2 397 855.7 398.5 855 401.5 856.2 406 854.5 412 853.1 415 850.6 419.5 848.9 455 845 497.5 839.4 509.5 838.4 539.5 837 545.5 837.6 550 838.9 556.6 842 559.7 845Z"/>
<path fill="#ff5000" d="M122.9 662 115 675.3 112 677.6 110.5 677.2 110.9 672 113.8 662ZM467.3 665 469 664 472 664 488.5 665.8 517.3 673 520 674 521.3 675 521.3 676 520.9 677 516.5 677 488.5 672.9 470.1 668 467.9 667ZM558 849 557.8 851 556.9 853 554.1 856 547 861 539.5 863.9 524.5 867.4 499 871.3 452.5 880.4 427 884.4 419.5 885.9 415 887.9 412 887.4 409 888.3 401.5 891.9 398.5 895.8 397 896.7 394 895.7 388 898.6 383.5 896.2 380.5 897.2 374.5 897.7 361 896.3 358 897.3 352 897.2 347.5 896.4 344.5 894.7 341.5 894.3 329.5 894.7 320.5 894.1 302.5 891.9 299.5 892.9 292 891.3 286 890.7 283 889.7 277 889.2 274 890.4 268 890.7 265 888.8 262 889.4 257.5 891.1 251.5 891.3 248.5 892.6 247 892.4 244 890.4 242.5 890.1 239.5 887.9 236.5 887.1 232 886.8 229 887.7 209.5 885.9 188.5 874.5 184 871.3 179.5 866.4 175 859.9 172.4 854 171.9 851 172 850 173.5 848.5 178 847.7 184 847.5 194.5 848.2 209.5 853.3 229 852.8 239.5 854.6 242.5 853.3 244 853.5 247 852.5 248.5 852.5 251.5 853.6 257.5 853.3 260.5 853.9 265 852.7 268 850.8 274 850.3 277 851.4 283 851.7 286 850.9 290.5 851.3 295 851.1 299.5 851.8 302.5 853.3 320.5 855.7 326.5 856.1 344.5 859.1 347.5 857.4 352 856.7 358 857 361 858.8 365.5 859.2 370 860.3 371.5 860.3 374.5 859 380.5 858.7 382 859 386.5 861.4 391 862.6 394 861.5 397 858 398.5 857.3 401.5 858.3 406 856.5 412 855.1 415 852.7 419.5 850.9 449.5 847.7 503.5 840.6 523 839.3 539.5 838.7 544 839.1 550 840.8 555.7 844 557.4 846Z"/>
<path fill="#ff6000" d="M121.6 662 116.5 671.2 115 673 113.5 674 112.3 673 112.3 671 114.6 662ZM472.5 666 473.5 665.1 476.3 665 488.5 666.3 510.8 672 513.1 673 513.6 675 511 675.4 506.5 675.1 488.5 672.4 473.3 668 472.4 667ZM555.5 849 555.3 851 554.4 853 550 857.4 545.5 860.2 539.5 862.5 524.5 865.9 497.5 870 449.5 879.2 427 882.5 419.5 884 415 886.1 412 885.6 409 886.4 401.5 890.1 398.5 894 397 894.8 394 894 388 896.9 383.5 894.3 377.5 895.6 374.5 895.7 362.5 894.4 358 895.2 352 895.2 347.5 894.5 344.5 892.8 341.5 892.4 329.5 892.8 320.5 892.2 302.5 889.9 299.5 890.9 292 889.3 286 888.7 283 887.7 277 887.2 274 888.4 268 888.7 265 886.8 257.5 889.2 251.5 889.4 248.5 890.7 247 890.5 244 888.6 242.5 888.2 239.5 886.1 236.5 885.3 232 884.9 229 885.8 209.5 884.3 194.5 875.9 187 872.3 184 870.2 179.5 865.8 176.5 861.7 173.5 856.1 172.8 853 173.1 851 175 849.7 184 849 194.5 849.7 209.5 855.2 229 854.6 239.5 856.4 242.5 855.3 244 855.4 248.5 854.6 251.5 855.6 257.5 855.4 260.5 855.9 265 854.6 268 852.8 274 852.3 277 853.3 283 853.7 286 852.9 290.5 853.4 295 853.2 299.5 853.8 302.5 855.3 320.5 857.7 326.5 858 344.5 861 347.5 859.4 353.5 858.7 358 859 361 860.8 365.5 861.1 370 862.2 371.5 862.2 374.5 860.9 380.5 860.6 382 860.9 388 863.9 391 864.6 394 863.5 397 860.1 398.5 859.3 401.5 860.1 406 858.3 412 856.8 415 854.5 419.5 852.6 452.5 849 500.5 842.4 521.5 840.9 542.5 840.4 547 841.3 550.7 843 554.5 846Z"/>
<path fill="#ff7000" d="M120.1 662 116.5 668.9 115 670.3 114.2 669 115.6 662ZM477.6 667 478 666.4 479.5 666 488.5 666.8 504 671 505.3 672 505.4 673 503.5 673.6 488.5 671.9 478.8 669 477.6 668ZM552.9 849 552.6 852 549.6 856 545.5 858.8 539.5 861.1 524.5 864.6 499 868.4 449.5 877.8 427 880.9 419.5 882.4 415 884.5 412 884 410.5 884.4 401.5 888.5 398.5 892.3 397 893.2 394 892.6 388 895.4 383.5 892.6 377.5 893.9 370 893.7 362.5 892.8 358 893.5 352 893.4 347.5 892.8 344.5 891.2 341.5 890.8 331 891.1 322 890.6 302.5 888.2 299.5 889.1 292 887.5 286 886.9 283 886 277 885.5 274 886.6 268 886.9 265 885.1 257.5 887.6 251.5 887.8 248.5 889 247 888.8 244 886.9 242.5 886.6 239.5 884.6 236.5 883.7 232 883.3 229 884.2 224.5 883.7 221.5 883.9 214 883 209.5 883 194.5 874.5 187 871 182.5 868.1 179.5 865.1 176.5 861.1 173.5 854 173.5 852.9 175 851.2 179.5 850.4 184 850.3 194.5 851.1 209.5 856.8 214 856.3 221.5 856.7 224.5 856.2 229 856.2 239.5 858 242.5 857 244 857.1 248.5 856.4 251.5 857.3 257.5 857.1 260.5 857.6 265 856.2 268 854.5 274 854 280 855.4 283 855.4 286 854.6 290.5 855.1 295 854.9 299.5 855.6 302.5 857.1 320.5 859.5 326.5 859.7 344.5 862.7 347.5 861.1 353.5 860.4 358 860.7 361 862.5 365.5 862.8 370 864 371.5 863.9 374.5 862.6 380.5 862.2 382 862.5 388 865.7 391 866.3 394 865.2 397 861.9 398.5 861 401.5 861.7 406 859.8 412 858.3 416.5 855.2 419.5 854.1 449.5 850.9 500.5 843.8 520 842.3 541 841.5 545.5 842.3 549.5 844 552.4 847Z"/>
<path fill="#ff8000" d="M116.5 662.6 117.2 663 116.5 665.4ZM117.3 662 118.2 662 118 662.5ZM482.7 668 483.8 667 488.5 667.4 494.4 669 496.6 670 496.8 671 496 672 487.1 671 484.2 670 482.7 669ZM551 849 550.8 852 548.5 855.3 544 858.2 538 860.4 524.5 863.5 499 867.2 449.5 876.5 419.5 880.9 415 883.1 412 882.7 409 883.4 401.5 887.2 398.5 890.9 397 891.9 394 891.4 388 894.1 383.5 891.1 377.5 892.4 370 892.3 362.5 891.3 358 891.9 352 891.9 347.5 891.3 344.5 889.8 340 889.2 331 889.6 326.5 889.1 322 889.1 302.5 886.7 299.5 887.6 292 885.9 289 885.8 283 884.5 277 883.9 274 885 268 885.4 265 883.6 257.5 886.2 251.5 886.4 248.5 887.6 247 887.4 239.5 883.2 236.5 882.4 232 882 229 882.8 224.5 882.4 221.5 882.7 214 881.7 209.5 881.8 194.5 873.2 187 869.9 182.5 867.2 179.5 864.4 176.5 860.3 174.4 855 174.9 853 176.5 852.2 184 851.4 194.5 852.2 209.5 858.2 214 857.6 221.5 858 224.5 857.5 229 857.5 239.5 859.3 242.5 858.4 248.5 858 251.5 858.9 256 858.7 260.5 859.1 265 857.6 268 856 274 855.5 280 856.9 283 856.8 286 856.2 290.5 856.7 295 856.5 299.5 857.2 302.5 858.6 320.5 861 326.5 861.2 331 862.3 337 862.6 344.5 864.2 347.5 862.7 353.5 862 358 862.2 361 864 365.5 864.2 370 865.4 371.5 865.4 374.5 864.1 382 863.8 388 867.3 391 867.9 394 866.7 397 863.4 398.5 862.5 401.5 863 406 861.1 412 859.5 416.5 856.5 419.5 855.4 451 852 499 845.1 520 843.4 541 842.7 545.5 843.6 548.5 845 550.4 847Z"/>
<path fill="#ff8f00" d="M549.4 850 548.8 853 545.8 856 541 858.4 536.5 859.7 524.5 862.5 499 866.1 449.5 875.4 419.5 879.6 415 881.9 412 881.6 409 882.2 401.5 886 398.5 889.7 397 890.7 394 890.3 388 893 383.5 889.8 377.5 891 370 891.1 362.5 890 358 890.6 352 890.5 347.5 890 344.5 888.7 340 887.9 331 888.4 326.5 887.7 320.5 887.7 313 886.5 310 886.5 305.5 885.5 302.5 885.4 299.5 886.2 292 884.6 289 884.5 284.5 883.4 277 882.6 274 883.7 268 884 265 882.3 257.5 885 251.5 885.1 248.5 886.3 247 886.1 238 881.4 232 880.7 229 881.6 224.5 881.1 221.5 881.5 214 880.6 209.5 880.8 194.5 872.1 187 868.8 182.5 866.2 178 861.7 176.5 859.2 175.4 856 176 854 178 853.1 185.5 852.5 194.5 853.2 209.5 859.4 214 858.8 221.5 859.2 224.5 858.6 229 858.7 235 859.4 239.5 860.5 242.5 859.7 245.5 859.9 248.5 859.4 251.5 860.2 256 860 260.5 860.4 268 857.3 274 856.8 280 858.2 283 858.1 286 857.5 290.5 858 295 857.8 299.5 858.6 302.5 859.9 305.5 860 320.5 862.3 326.5 862.5 331 863.6 335.5 863.7 344.5 865.5 347.5 864 356.5 863.3 358 863.5 361 865.2 365.5 865.5 370 866.8 371.5 866.7 374.5 865.3 382 865 388 868.6 391 869.2 394 868 397 864.8 398.5 863.9 401.5 864.2 406 862.2 412 860.6 416.5 857.7 419.5 856.5 449.5 853.4 499 846.1 520 844.4 541 843.8 545.5 844.9 547.6 846 549.2 848Z"/>
<path fill="#ff9f00" d="M547.9 850 547.2 853 545.3 855 541 857.4 535 859.2 524.5 861.6 499 865.2 449.5 874.4 419.5 878.5 415 880.8 412 880.5 409 881.1 401.5 884.9 398.5 888.6 397 889.6 394 889.3 389.5 891.7 388 892 383.5 888.6 382 888.6 380.5 889.4 377.5 889.9 370 890 365.5 889 362.5 888.8 352 889.3 347.5 888.9 344.5 887.6 340 886.8 331 887.3 326.5 886.6 320.5 886.6 313 885.3 310 885.4 305.5 884.3 302.5 884.2 299.5 885 292 883.4 289 883.3 284.5 882.2 280 882 278.5 881.5 277 881.4 274 882.4 268 882.8 265 881.1 257.5 883.9 251.5 884 248.5 885.1 245.5 884.3 238 880.4 232 879.7 229 880.5 224.5 880.1 221.5 880.5 214 879.6 209.5 879.9 194.5 871.1 182.5 865.3 179.5 862.7 178 860.7 176.4 856 178 854.4 181 853.7 191.5 853.8 196 854.6 209.5 860.5 214 859.9 221.5 860.3 224.5 859.6 229 859.7 235 860.3 239.5 861.5 242.5 860.8 245.5 861.1 248.5 860.6 251.5 861.4 260.5 861.6 268 858.5 274 858 280 859.3 286 858.7 289 859.2 295 859.1 298 859.5 302.5 861.1 305.5 861.1 310 862.2 313 862.2 320.5 863.5 326.5 863.6 331 864.8 335.5 864.8 344.5 866.6 347.5 865.2 356.5 864.4 358 864.7 361 866.4 365.5 866.6 370 867.9 371.5 867.8 374.5 866.5 382 866.1 388 869.9 391 870.4 394 869.2 398.5 865.1 401.5 865.2 406 863.1 412 861.6 416.5 858.7 419.5 857.5 449.5 854.4 499 847 520 845.3 539.5 844.7 542.5 845.1 545.5 846.2 547.5 848Z"/>
<path fill="#ffaf00" d="M546.3 850 545.7 853 541.8 856 538 857.5 527.5 860.3 499 864.4 449.5 873.5 419.5 877.5 415 879.8 412 879.7 409 880.2 401.5 884 398.5 887.6 397 888.6 394 888.5 389.5 890.9 388 891.2 383.5 887.6 382 887.6 380.5 888.3 377.5 888.8 370 889 365.5 888 352 888.3 347.5 887.9 344.5 886.7 340 885.9 334 885.8 331 886.3 326.5 885.5 320.5 885.6 313 884.3 310 884.4 305.5 883.2 302.5 883.2 299.5 883.9 292 882.3 289 882.3 284.5 881.1 280 881 278.5 880.4 277 880.4 274 881.3 268 881.7 265 880.1 257.5 882.9 251.5 883.1 248.5 884.1 245.5 883.3 238 879.4 232 878.7 229 879.5 224.5 879.1 221.5 879.6 217 878.8 209.5 879.2 194.5 870.2 182.5 864.4 179.1 861 177.7 857 178.1 856 181 854.7 185.5 854.3 193 854.7 196 855.5 209.5 861.5 214 860.8 221.5 861.3 224.5 860.5 229 860.6 235 861.2 239.5 862.4 242.5 861.9 245.5 862.2 248.5 861.8 251.5 862.4 260.5 862.6 268 859.6 271 859.1 274 859.1 280 860.4 286 859.7 289 860.2 295 860.1 298 860.5 302.5 862.1 305.5 862.1 310 863.2 313 863.2 320.5 864.6 326.5 864.6 331 865.8 335.5 865.8 344.5 867.7 347.5 866.3 356.5 865.5 358 865.8 361 867.4 365.5 867.6 370 868.9 371.5 868.8 374.5 867.5 382 867 388 871 391 871.4 394 870.2 398.5 866.2 401.5 866.1 406 864 412 862.4 416.5 859.6 419.5 858.4 449.5 855.3 499 847.8 517 846.2 541 845.8 544.5 847 545.7 848Z"/>
<path fill="#ffbf00" d="M544.7 850 544.1 853 541 855.5 527.5 859.5 497.5 863.9 449.5 872.7 419.5 876.6 415 879 412 878.9 409 879.4 401.5 883.2 398.5 886.7 397 887.8 394 887.8 389.5 890.1 388 890.4 383.5 886.7 382 886.6 380.5 887.4 377.5 887.9 376 887.6 370 888.2 365.5 887.1 352 887.3 347.5 887 340 885 334 884.9 331 885.4 326.5 884.6 320.5 884.7 313 883.4 310 883.5 305.5 882.3 302.5 882.2 299.5 883 292 881.3 289 881.3 284.5 880.2 280 880.1 278.5 879.5 277 879.4 274 880.4 268 880.8 265 879.2 257.5 882.1 251.5 882.2 248.5 883.2 245.5 882.5 238 878.6 232 877.9 229 878.7 224.5 878.3 221.5 878.8 217 878 209.5 878.5 194.5 869.4 183.4 864 180.1 861 179.2 858 179.5 856.8 182.5 855.5 187 855.2 193 855.5 196 856.2 209.5 862.4 214 861.6 221.5 862.1 224.5 861.3 230.5 861.4 238 862.6 239.5 863.2 241 862.8 245.5 863.2 248.5 862.8 251.5 863.4 260.5 863.6 262 862.6 266.5 861 271 860 274 860 280 861.3 286 860.6 289 861.2 295 861.1 298 861.5 302.5 863 305.5 863 310 864.2 313 864.1 320.5 865.5 326.5 865.5 331 866.7 335.5 866.6 344.5 868.6 347.5 867.3 350.5 866.7 356.5 866.4 361 868.3 365.5 868.4 370 869.9 371.5 869.7 374.5 868.4 382 867.9 388 871.9 391 872.4 394 871.1 398.5 867.2 401.5 866.9 406 864.7 412 863.2 416.5 860.4 419.5 859.2 449.5 856.1 499 848.5 515.5 847 539.5 846.5 541.9 847 543.8 848Z"/>
<path fill="#ffcf00" d="M543.2 850 543.1 852 542.6 853 540 855 526 859.2 499 863 448 872.2 419.5 875.8 415 878.2 409 878.6 401.5 882.5 397 887 394 887.1 389.5 889.5 388 889.7 383.5 885.9 382 885.7 379 886.8 370 887.4 365.5 886.2 347.5 886.2 340 884.2 334 884.1 331 884.6 326.5 883.7 320.5 883.9 313 882.5 310 882.7 305.5 881.4 302.5 881.4 299.5 882.1 292 880.5 287.5 880.2 284.5 879.3 280 879.3 278.5 878.7 268 879.9 265 878.4 257.5 881.4 251.5 881.4 248.5 882.4 245.5 881.7 238 877.9 232 877.1 229 877.9 224.5 877.5 221.5 878.1 214 877.2 209.5 877.8 194.5 868.6 184 863.4 181.5 861 180.9 858 181.8 857 184 856.3 193 856.2 196 856.9 209.5 863.2 214 862.3 221.5 862.9 224.5 862.1 230.5 862.1 238 863.3 239.5 863.9 241 863.6 245.5 864.1 248.5 863.7 251.5 864.2 260.5 864.4 263.5 862.7 271 860.9 275.5 861 280 862.1 283 862 284.5 861.5 289 862.1 295 862 298 862.4 301 863.5 305.5 863.8 310 865 313 864.9 320.5 866.3 326.5 866.3 331 867.5 335.5 867.4 344.5 869.4 350.5 867.6 356.5 867.2 361 869.1 365.5 869.2 370 870.7 371.5 870.5 374.5 869.2 382 868.6 388 872.8 391 873.2 394 871.9 398.5 868 401.5 867.6 406 865.4 412 863.9 416.5 861.1 419.5 859.9 448.1 857 497.5 849.3 515.5 847.6 524.5 847.2 539.5 847.3 541.6 848 542.8 849Z"/>
<path fill="#ffdf00" d="M541.6 851 541.1 853 539.5 854.3 533.5 856.5 524.5 858.9 499 862.4 448 871.6 419.5 875 415 877.5 409 877.9 401.5 881.9 397 886.4 394 886.6 389.5 888.9 388 889.1 383.5 885.2 382 884.9 379 886.1 376 886 370 886.8 365.5 885.5 347.5 885.4 340 883.6 334 883.4 331 883.9 326.5 883 320.5 883.1 313 881.8 310 881.9 305.5 880.7 302.5 880.7 299.5 881.3 292 879.7 287.5 879.5 284.5 878.5 280 878.6 278.5 877.9 268 879.1 265 877.7 257.5 880.7 251.5 880.7 248.5 881.7 245.5 881 244 879.9 242.5 879.6 238 877.2 232 876.5 229 877.2 224.5 876.8 221.5 877.5 217 876.6 214 876.6 209.5 877.3 194.5 867.9 185 863 183.1 861 182.8 859 183.1 858 185.5 857 194.5 857.1 200.5 859.5 209.5 864 214 863 221.5 863.6 224.5 862.7 230.5 862.7 235 863.3 239.5 864.6 241 864.2 245.5 864.9 248.5 864.5 251.5 865 260.5 865.1 263.5 863.4 271 861.6 278.5 862.2 280 862.8 283 862.7 284.5 862.2 289 862.8 295 862.8 298 863.2 301 864.3 305.5 864.5 310 865.8 313 865.6 320.5 867.1 326.5 867 331 868.3 335.5 868.1 344.5 870.1 350.5 868.3 356.5 868 361 869.8 365.5 869.9 370 871.4 371.5 871.3 374.5 869.9 377.5 870 382 869.3 388 873.6 391 874 394 872.6 398.5 868.8 402.2 868 409 865 413.3 864 416.5 861.8 419.5 860.5 448 857.6 499 849.7 515.5 848.2 524.5 847.8 538 848.1 541 849Z"/>
<path fill="#ffef00" d="M539.9 851 539.4 853 535.8 855 523 858.7 498.3 862 449.5 870.8 419.5 874.4 418 874.9 415 876.9 409 877.3 401.5 881.3 397 885.8 394 886 389.5 888.4 388 888.6 383.5 884.5 382 884.2 379 885.4 376 885.3 370 886.1 365.5 884.8 347.5 884.8 340 882.9 334 882.7 331 883.3 326.5 882.3 320.5 882.5 313 881.1 310 881.3 305.5 880 299.5 880.6 292 879 289 879 284.5 877.8 280 877.9 277 877.1 274 878 268 878.4 265 877 257.5 880.1 251.5 880.1 248.5 881 245.5 880.4 244 879.3 238 876.6 232 875.9 229 876.6 224.5 876.2 221.5 876.9 217 876 214 876 209.5 876.8 194.5 867.3 186.6 863 185.5 862 184.8 860 184.8 859 185.5 858.3 187 857.7 194.5 857.6 200.5 860.1 209.5 864.7 214 863.6 217 863.5 221.5 864.2 224.5 863.3 230.5 863.3 238 864.4 239.5 865.2 241 864.9 245.5 865.6 248.5 865.3 260.5 865.8 263.5 864 271 862.3 278.5 862.8 280 863.5 283 863.4 284.5 862.8 289 863.5 295 863.5 298 863.9 301 865.1 305.5 865.2 310 866.4 313 866.3 320.5 867.8 326.5 867.7 331 869 335.5 868.7 344.5 870.7 350.5 869 356.5 868.7 361 870.5 365.5 870.5 370 872.1 371.5 871.9 374.5 870.5 377.5 870.6 382 869.9 388 874.3 391 874.7 394 873.3 398.5 869.5 403 868.3 406 866.5 409 865.5 413.5 864.5 416.5 862.3 419.5 861.1 449.5 858 499 850.2 515.5 848.7 524.5 848.3 535 848.7 539.5 849.8Z"/>
<path fill="#ffff00" d="M537.5 851 537.1 853 535.8 854 528 857 523 858.2 499 861.4 448 870.5 419.5 873.8 418 874.3 415 876.4 409 876.8 401.5 880.8 397 885.2 394 885.6 389.5 887.9 388 888.1 383.5 883.9 382 883.6 379 884.8 376 884.6 370 885.6 365.5 884.2 356.5 883.9 352 884.4 350.5 884 347.5 884.2 340 882.4 334 882.1 331 882.7 326.5 881.7 320.5 881.9 313 880.5 310 880.7 305.5 879.4 299.5 880 292 878.4 289 878.4 284.5 877.2 280 877.4 278.5 876.6 277 876.5 274 877.3 268 877.8 265 876.4 260.5 878.6 257.5 879.5 251.5 879.5 248.5 880.4 245.5 879.8 244 878.7 238 876.1 232 875.3 229 876 224.5 875.6 221.5 876.4 217 875.5 214 875.5 209.5 876.3 206.5 874.7 194.5 866.6 189.7 864 187.2 862 186.8 861 187.1 859 188.5 858.4 194.5 858.2 200.5 860.6 209.5 865.3 214 864.2 217 864.1 221.5 864.8 224.5 863.8 230.5 863.8 235 864.3 239.5 865.7 241 865.4 245.5 866.3 248.5 865.9 260.5 866.4 263.5 864.5 271 862.9 278.5 863.3 280 864.1 283 864 284.5 863.4 289 864.2 295 864.1 298 864.6 301 865.7 305.5 865.8 310 867.1 313 866.9 320.5 868.4 326.5 868.2 331 869.6 335.5 869.3 344.5 871.3 350.5 869.7 356.5 869.3 361 871.1 365.5 871.1 370 872.7 374.5 871.1 377.5 871.2 382 870.4 388 875 391 875.3 394 873.9 398.5 870.2 403 868.8 406 867 409 866 413.5 865 416.5 862.9 419.5 861.6 448 858.8 499 850.7 511 849.6 526 848.9 535 849.6 536.6 850Z"/>
<path fill="#efff10" d="M534.8 853 533.7 854 527.5 856.6 523 857.8 498.8 861 449.5 869.8 419.5 873.2 418 873.7 415 875.8 409 876.3 401.5 880.3 397 884.7 394 885.2 389.5 887.5 388 887.6 383.5 883.3 382 883 379 884.2 377.5 884.4 376 884 370 885.1 367 884.5 365.5 883.7 356.5 883.3 352 883.8 350.5 883.4 346 883.6 340 881.9 334 881.6 331 882.2 326.5 881.1 320.5 881.4 313 879.9 310 880.2 305.5 878.8 299.5 879.4 292 877.8 287.5 877.6 284.5 876.6 280 876.8 278.5 876 277 875.9 274 876.7 268 877.2 265 875.8 260.5 878.1 257.5 879 251.5 879 248.5 879.8 245.5 879.3 244 878.2 238 875.6 235 875 230.5 874.9 229 875.5 224.5 875 221.5 875.9 217 875 214 875 209.5 875.9 206.5 874.3 191 864 189 862 188.8 860 190.4 859 194.5 858.8 200.5 861.1 209.5 865.8 214 864.7 217 864.5 221.5 865.3 224.5 864.3 230.5 864.3 238 865.4 239.5 866.2 241 865.9 245.5 866.9 248.5 866.6 260.5 867 262 865.7 265 864.5 271 863.5 278.5 863.9 280 864.6 283 864.5 284.5 864 289 864.8 296.5 864.8 301 866.3 305.5 866.3 310 867.6 313 867.4 321.5 869 326.5 868.8 331 870.1 335.5 869.8 344.5 871.9 350.5 870.2 356.5 869.8 361 871.6 365.5 871.6 370 873.3 371.5 873 374.5 871.6 377.5 871.8 382 870.9 388 875.5 391 875.9 394 874.5 398.5 870.8 403 869.3 406 867.4 409 866.3 413.5 865.5 416.5 863.3 419.5 862 449.5 859.1 497.5 851.3 514 849.7 527.5 849.5 533.5 850.4 534.7 851Z"/>
<path fill="#dfff20" d="M532.3 852 532.3 853 531.6 854 526 856.6 521.5 857.6 496.5 861 448 869.6 433 871.4 427 871.7 421 872.9 419.5 872.7 418 873.2 415 875.4 409 875.8 401.5 879.9 397 884.2 394 884.8 389.5 887.1 388 887.2 383.5 882.8 382 882.5 379 883.7 377.5 883.9 376 883.5 370 884.6 365.5 883.2 361 883.3 356.5 882.7 352 883.2 350.5 882.9 346 883.1 340 881.4 334 881.1 331 881.8 326.5 880.6 320.5 880.9 313 879.4 310 879.7 305.5 878.3 299.5 878.9 292 877.3 289 877.4 284.5 876.1 280 876.4 278.5 875.5 277 875.4 274 876.2 268 876.7 265 875.3 260.5 877.7 257.5 878.6 251.5 878.6 248.5 879.3 245.5 878.8 244 877.7 238 875.2 232 874.3 229 875 226 875 224.5 874.6 221.5 875.5 217 874.6 214 874.6 209.5 875.5 203.6 872 191.2 863 190.7 861 191 860 193 859.4 196 859.7 200.5 861.6 209.5 866.4 214 865.1 217 865 221.5 865.8 224.5 864.7 226 865.1 230.5 864.7 238 865.8 239.5 866.6 241 866.3 245.5 867.4 248.5 867.1 260.5 867.5 263.5 865.5 266.5 864.6 271 864 278.5 864.3 280 865.1 283 865 284.5 864.4 289 865.3 296.5 865.3 301 866.8 305.5 866.8 310 868.1 313 867.9 320.5 869.4 326.5 869.2 331 870.6 335.5 870.2 341.5 871.3 344.5 872.3 350.5 870.8 356.5 870.3 361 872.1 365.5 872.1 370 873.8 374.5 872.1 377.5 872.2 382 871.4 388 876.1 391 876.4 394 875 400 870.6 403 869.7 406 867.9 409 866.7 413.5 865.9 416.5 863.8 419.5 862.4 448 859.7 500.5 851.3 523 849.7 529 850.3 531.5 851Z"/>
<path fill="#cfff30" d="M529.8 854 527.5 855.6 520 857.5 499 860.2 448 869.2 433 871 427 871.3 421 872.4 419.5 872.3 418 872.8 415 875 409 875.4 401.5 879.5 397 883.8 394 884.5 389.5 886.8 388 886.9 383.5 882.4 382 882 379 883.2 377.5 883.4 376 883 370 884.2 367 883.6 365.5 882.7 361 882.8 356.5 882.2 352 882.8 350.5 882.4 346 882.7 340 881 338.5 881.2 334 880.7 331 881.4 326.5 880.2 320.5 880.5 313 878.9 310 879.3 305.5 877.8 299.5 878.4 292 876.8 287.5 876.6 284.5 875.6 280 875.9 278.5 875.1 277 874.9 274 875.7 268 876.2 265 874.9 260.5 877.4 257.5 878.2 251.5 878.1 248.5 878.9 245.5 878.4 244 877.3 238 874.8 232 873.9 229 874.6 226 874.6 224.5 874.1 221.5 875 217 874.1 214 874.2 209.5 875.1 207.2 874 193.6 864 192.3 862 192.4 861 193 860.3 194.5 860 200.5 862.1 209.5 866.9 214 865.5 217 865.4 221.5 866.2 224.5 865.1 226 865.4 230.5 865.1 238 866.2 239.5 867 241 866.8 245.5 868 250 867.6 257.5 868.1 260.5 868 262 866.6 265 865.4 271 864.4 278.5 864.7 280 865.6 283 865.4 284.5 864.9 289 865.8 296.5 865.8 301 867.3 305.5 867.2 310 868.6 313 868.3 322 870 326.5 869.6 331 871.1 335.5 870.6 341.5 871.7 344.5 872.8 350.5 871.2 356.5 870.8 361 872.6 365.5 872.5 370 874.2 374.5 872.6 376 872.3 377.5 872.7 382 871.8 388 876.6 391 876.9 394 875.4 400 871 403 870.1 406 868.2 409 867.1 413.5 866.3 416.5 864.2 419.5 862.8 448.7 860 499 851.9 520 850.1 526 850.3 528.9 851 530 852Z"/>
<path fill="#bfff40" d="M528.5 854 527.4 855 524.5 856.2 518.5 857.5 498.2 860 449.5 868.6 433 870.7 427 870.9 421 872 419.5 871.8 418 872.4 415 874.6 409 875 401.5 879.1 397 883.4 394 884.1 389.5 886.5 388 886.5 383.5 882 382 881.6 379 882.8 377.5 883 376 882.5 370 883.9 367 883.2 365.5 882.3 361 882.5 356.5 881.8 352 882.3 350.5 882 346 882.4 340 880.7 334 880.3 331 881 326.5 879.7 320.5 880.1 313 878.5 310 878.9 305.5 877.4 299.5 878 296.5 877 292 876.4 289 876.5 284.5 875.2 280 875.5 278.5 874.7 277 874.5 268 875.7 265 874.5 260.5 877 257.5 877.8 251.5 877.7 248.5 878.5 245.5 878 244 876.9 238 874.4 235 873.8 230.5 873.6 229 874.1 226 874.2 224.5 873.7 221.5 874.7 217 873.7 214 873.8 209.5 874.8 206.2 873 198.1 867 194.8 864 194 862 194.5 860.9 197.5 861.4 200.5 862.5 209.5 867.3 214 866 217 865.8 221.5 866.6 224.5 865.5 226 865.8 230.5 865.4 238 866.5 239.5 867.3 241 867.2 245.5 868.4 250 868.1 257.5 868.5 260.5 868.4 262 867 265 865.7 271 864.9 278.5 865.1 280 866 283 865.8 284.5 865.3 289 866.2 296.5 866.2 301 867.7 305.5 867.6 310 869 313 868.7 320.5 870.3 326.5 870.1 331 871.5 335.5 871 341.5 872.1 344.5 873.2 346 873.1 350.5 871.7 356.5 871.2 361 873 365.5 872.9 370 874.6 376 872.7 377.5 873.1 382 872.2 388 877 391 877.3 394 875.8 400 871.4 403 870.4 406 868.5 409 867.4 413.5 866.7 416.5 864.5 419.5 863.2 449.5 860.2 497.5 852.4 505 851.6 523 850.5 527.5 851.3 528.5 852Z"/>
<path fill="#afff50" d="M527.3 854 526 855.1 523 856.2 517 857.4 496.5 860 448 868.5 433 870.3 427 870.5 421 871.7 419.5 871.5 418 872 415 874.2 413.5 874.7 409 874.7 401.5 878.8 397 883.1 394 883.8 389.5 886.2 388 886.2 383.5 881.6 382 881.1 379 882.4 377.5 882.6 376 882.1 370 883.5 367 882.8 365.5 881.9 361 882.1 356.5 881.3 346 882 340 880.3 338.5 880.5 334 879.9 331 880.6 326.5 879.4 320.5 879.7 313 878.1 310 878.5 305.5 877 299.5 877.6 296.5 876.6 292 875.9 289 876.1 284.5 874.8 280 875.2 278.5 874.3 277 874.1 268 875.3 265 874.1 260.5 876.7 257.5 877.5 251.5 877.4 248.5 878.1 245.5 877.7 244 876.6 238 874 232 873.2 229 873.8 226 873.8 224.5 873.3 221.5 874.3 217 873.4 214 873.4 209.5 874.5 203.8 871 198.7 867 195.9 864 195.7 863 196 861.9 200.5 862.9 209.5 867.8 214 866.3 217 866.2 221.5 867 224.5 865.9 226 866.2 230.5 865.8 238 866.8 239.5 867.7 241 867.5 245.5 868.9 250 868.5 257.5 869 260.5 868.8 262 867.3 265 866.1 271 865.2 278.5 865.5 280 866.4 283 866.2 284.5 865.6 289 866.6 296.5 866.6 301 868.2 305.5 868 310 869.4 313 869.1 320.5 870.7 326.5 870.4 331 871.8 335.5 871.4 341.5 872.4 344.5 873.6 346 873.5 350.5 872.1 356.5 871.6 361 873.3 365.5 873.3 370 875 374.5 873.3 376 873.1 377.5 873.5 382 872.5 383.5 873.3 388 877.4 391 877.7 394 876.2 399.6 872 404.5 870 406 868.8 409 867.7 413.5 867 416.5 864.8 419.5 863.5 448 860.8 500.5 852.3 521.5 850.8 526 851.4 527.1 852Z"/>
<path fill="#9fff60" d="M526.1 853 526.1 854 525 855 521.5 856.2 515.5 857.3 499 859.3 448 868.2 433 870 427 870.2 421 871.3 419.5 871.1 418 871.6 415 873.9 413.5 874.4 409 874.4 406 875.8 404.5 877.1 401.5 878.5 397 882.8 395.5 883 389.5 885.9 388 885.9 383.5 881.2 382 880.8 379 882 377.5 882.2 376 881.7 370 883.2 367 882.5 365.5 881.6 361 881.8 356.5 880.9 346 881.7 340 880 338.5 880.2 334 879.6 331 880.3 326.5 879 320.5 879.4 313 877.8 310 878.2 305.5 876.7 299.5 877.2 296.5 876.2 292 875.6 289 875.8 284.5 874.4 280 874.8 278.5 873.9 277 873.8 268 874.9 265 873.7 262 875.1 260.5 876.4 257.5 877.1 251.5 877 248.5 877.7 245.5 877.3 244 876.2 238 873.7 232 872.8 229 873.4 226 873.5 224.5 873 221.5 874 217 873 214 873.1 209.5 874.2 207.2 873 201.8 869 198.4 866 197.4 864 197.5 863 200.5 863.4 209.5 868.2 214 866.7 217 866.5 221.5 867.3 224.5 866.2 226 866.5 230.5 866.1 235 866.5 238 867.1 239.5 868 241 867.8 244 868.5 245.5 869.3 250 868.9 257.5 869.4 260.5 869.1 262 867.6 265 866.3 275.5 865.5 278.5 865.8 280 866.7 284.5 866 289 867 296.5 867 301 868.5 305.5 868.3 310 869.8 313 869.4 320.5 871 326.5 870.7 331 872.2 335.5 871.7 341.5 872.8 344.5 873.9 346 873.9 350.5 872.4 356.5 872 361 873.7 365.5 873.6 370 875.4 374.5 873.7 376 873.4 377.5 873.9 382 872.8 383.5 873.6 388 877.8 391 878.1 394 876.6 400 872.1 403.1 871 406 869.1 409 867.9 413.5 867.3 418 864.3 419.5 863.8 421 864 427 862.9 433 862.7 448.9 861 500.5 852.6 520 851.2 524.5 851.6 525.7 852Z"/>
<path fill="#8fff70" d="M524.9 853 524.8 854 523.9 855 517 856.8 499 859 449.5 867.7 433 869.7 427 869.9 421 871 419.5 870.8 418 871.3 415 873.6 413.5 874.1 409 874.1 406 875.5 404.5 876.8 401.5 878.2 397 882.5 394 883.3 389.5 885.7 388 885.7 383.5 880.9 382 880.4 379 881.6 377.5 881.9 376 881.4 370 882.9 367 882.2 365.5 881.2 361 881.5 356.5 880.6 346 881.5 340 879.7 334 879.3 331 880 326.5 878.7 320.5 879.1 313 877.5 310 877.9 305.5 876.3 299.5 876.9 296.5 875.9 292 875.3 289 875.4 284.5 874.1 280 874.6 278.5 873.6 277 873.5 268 874.6 265 873.4 262 874.8 260.5 876.1 257.5 876.8 251.5 876.7 247 877.4 238 873.4 232 872.5 229 873.1 226 873.1 224.5 872.6 221.5 873.7 217 872.7 214 872.7 209.5 873.9 203.4 870 200.2 867 199 865 199.7 864 200.5 864 209.5 868.6 214 867 217 866.8 221.5 867.7 224.5 866.5 226 866.8 230.5 866.3 238 867.4 239.5 868.3 241 868.1 245.5 869.7 250 869.3 257.5 869.7 260.5 869.4 262 868 265 866.6 275.5 865.8 278.5 866.1 280 867 283 866.8 284.5 866.3 289 867.3 296.5 867.3 301 868.9 305.5 868.6 310 870.1 313 869.7 320.5 871.3 326.5 871 331 872.5 335.5 872 341.5 873.1 344.5 874.2 346 874.3 350.5 872.8 356.5 872.3 361 874 365.5 873.9 370 875.7 376 873.7 377.5 874.2 382 873.1 383.5 873.9 388 878.2 391 878.4 394 876.9 400 872.4 403.6 871 406 869.3 409 868.2 413.5 867.6 418 864.5 419.5 864.1 449.5 861.2 500.5 852.8 518.5 851.5 524.1 852Z"/>
<path fill="#80ff80" d="M523.6 853 523.6 854 522.7 855 515.5 856.8 497.7 859 448 867.7 433 869.4 427 869.6 421 870.7 419.5 870.5 418 871 415 873.3 413.5 873.8 409 873.8 406 875.2 404.5 876.6 401.4 878 397 882.2 394 883.1 389.5 885.4 388 885.4 383.5 880.6 382 880.1 379 881.3 377.5 881.6 376 881 370 882.7 367 881.9 365.5 880.9 361 881.2 356.5 880.2 346 881.2 340 879.5 338.5 879.7 334 879 331 879.8 326.5 878.4 320.5 878.8 313 877.2 310 877.6 305.5 876 299.5 876.6 296.5 875.6 292 874.9 289 875.1 284.5 873.8 280 874.3 278.5 873.3 277 873.2 268 874.3 265 873.1 262 874.6 260.5 875.9 257.5 876.6 251.5 876.4 247 877.1 238 873.2 232 872.2 229 872.8 226 872.8 224.5 872.3 221.5 873.4 217 872.4 214 872.4 209.5 873.6 204 870 201.8 868 200.7 866 202 865.3 209.5 869 214 867.4 217 867.2 221.5 868 224.5 866.8 226 867.1 230.5 866.6 238 867.6 239.5 868.5 241 868.4 244 869.2 245.5 870 250 869.6 257.5 870.1 260.5 869.7 262 868.2 265 866.9 271 866.2 278.5 866.3 280 867.3 283 867.1 284.5 866.5 289 867.6 296.5 867.7 301 869.2 305.5 868.9 310 870.4 313 870 320.5 871.6 326.5 871.3 331 872.8 335.5 872.2 341.5 873.3 344.5 874.5 346 874.6 350.5 873.1 356.5 872.6 361 874.3 365.5 874.2 370 876 374.5 874.3 376 874.1 377.5 874.5 382 873.4 383.5 874.2 388 878.5 389.5 878.8 391 878.8 397 875.3 400 872.7 404.5 870.8 406 869.6 409 868.4 413.5 867.9 416.5 865.7 419.5 864.3 421 864.5 427 863.5 433 863.3 448 861.7 500.5 853.1 517 851.7 522.1 852Z"/>
<path fill="#70ff8f" d="M522.3 853 522.3 854 521.5 855 515.5 856.6 497.5 858.8 448 867.4 433 869.2 427 869.3 421 870.4 419.5 870.2 413.5 873.6 409 873.6 406 875 404.5 876.4 401.1 878 397 881.9 395.5 882.2 389.5 885.2 388 885.2 383.5 880.3 382 879.8 379 881 377.5 881.3 376 880.7 370 882.4 367 881.6 365.5 880.7 361 880.9 356.5 879.9 346 880.9 340 879.2 338.5 879.4 335.5 878.8 331 879.5 326.5 878.1 320.5 878.6 313 876.9 310 877.4 305.5 875.8 299.5 876.3 296.5 875.3 292 874.7 289 874.9 284.5 873.5 280 874 278.5 873 277 872.9 268 874 265 872.8 262 874.3 260.5 875.6 257.5 876.3 251.5 876.2 247 876.8 238 872.9 232 871.9 226 872.5 224.5 872 221.5 873.1 217 872 214 872.1 209.5 873.3 203.4 869 202.4 867 203.5 866.5 205 866.9 209.5 869.5 214 867.7 217 867.5 221.5 868.3 224.5 867.1 226 867.4 230.5 866.9 238 867.9 239.5 868.8 241 868.7 244 869.5 245.5 870.4 250 869.9 257.5 870.4 260.5 870 262 868.5 265 867.1 275.5 866.4 278.5 866.6 280 867.6 284.5 866.8 289 867.9 296.5 868 301 869.5 305.5 869.1 310 870.6 313 870.2 320.5 871.9 326.5 871.5 331 873.1 335.5 872.4 341.5 873.5 344.5 874.8 346 874.9 350.5 873.4 356.5 872.9 361 874.6 365.5 874.4 370 876.3 374.5 874.6 376 874.3 377.5 874.7 382 873.6 383.5 874.4 388 878.8 391 879.1 397 875.7 400 873 404.5 871 406 869.8 409 868.6 413.5 868.1 418 865 419.5 864.5 421 864.7 427 863.7 433 863.6 448 861.9 500.5 853.3 517 852 520 852.2Z"/>
<path fill="#60ff9f" d="M521 854 520.3 855 515.5 856.3 499 858.4 448 867.2 433 868.9 427 869 421 870.2 419.5 869.9 413.5 873.4 409 873.3 406 874.7 404.5 876.1 400.9 878 397 881.7 395.5 882 389.5 885 388 885 383.5 880 382 879.5 379 880.7 377.5 881 376 880.4 370 882.2 367 881.4 365.5 880.4 361 880.7 356.5 879.6 346 880.7 340 879 338.5 879.2 334 878.5 331 879.3 326.5 877.9 320.5 878.4 313 876.7 310 877.1 305.5 875.5 299.5 876.1 296.5 875 292 874.4 289 874.6 284.5 873.2 280 873.8 278.5 872.8 277 872.6 268 873.7 265 872.6 262 874.1 260.5 875.4 257.5 876.1 251.5 875.9 247 876.5 241 873.9 239.5 873.6 238 872.6 232 871.7 226 872.2 224.5 871.7 221.5 872.8 218.5 872.4 217 871.7 215.5 872.1 214 871.7 209.5 872.9 205 870 204.1 868 205 867.6 209.5 869.9 214 868.1 215.5 868.3 217 867.8 218.5 868.4 221.5 868.7 224.5 867.4 226 867.7 230.5 867.1 238 868.1 239.5 869 241 868.9 244 869.7 245.5 870.7 250 870.2 257.5 870.7 260.5 870.3 262 868.7 265 867.3 275.5 866.6 278.5 866.8 280 867.8 284.5 867.1 289 868.2 296.5 868.2 301 869.7 305.5 869.3 310 870.9 313 870.4 320.5 872.1 326.5 871.7 331 873.3 335.5 872.7 341.5 873.8 344.5 875 346 875.1 350.5 873.6 356.5 873.2 361 874.8 365.5 874.7 370 876.5 376 874.5 377.5 875 382 873.9 383.9 875 388 879.1 391 879.3 397 876 400 873.2 404.5 871.2 406 870 409 868.8 413.5 868.4 418 865.2 419.5 864.8 421 865 427 863.9 433 863.8 449.2 862 500.5 853.5 517 852.3 520.9 853Z"/>
<path fill="#50ffaf" d="M519.6 854 519.1 855 515.5 856.1 499 858.1 449.5 866.7 433 868.7 427 868.8 421 869.9 419.5 869.6 418 870.1 415 872.6 413.5 873.1 409 873.1 406 874.5 404.5 875.9 400.6 878 397 881.5 395.5 881.8 389.5 884.8 388 884.8 383.5 879.8 382 879.2 379 880.5 377.5 880.7 376 880.1 370 881.9 367 881.2 365.5 880.2 361 880.5 356.5 879.4 346 880.6 340 878.8 334 878.3 331 879.1 326.5 877.7 320.5 878.2 313 876.5 310 876.9 305.5 875.3 299.5 875.8 296.5 874.7 292 874.2 289 874.4 284.5 873 280 873.6 278.5 872.5 277 872.4 268 873.5 265 872.4 262 873.9 260.5 875.2 257.5 875.9 251.5 875.7 247 876.3 241 873.6 239.5 873.4 238 872.4 235 871.7 230.5 871.3 229 871.9 226 871.9 224.5 871.4 221.5 872.5 218.5 872.1 217 871.3 214 871.3 212.5 872 209.5 872.2 208 871 209.5 870.8 214 868.6 217 868.2 221.5 869 224.5 867.7 226 868 230.5 867.4 235 867.7 238 868.3 239.5 869.3 241 869.2 244 870 245.5 871 250 870.5 256 870.6 257.5 871 260.5 870.5 262 868.9 265 867.5 268 867.6 275.5 866.9 278.5 867.1 280 868.1 283 867.8 284.5 867.3 289 868.4 296.5 868.4 301 870 305.5 869.5 310 871.1 313 870.6 320.5 872.3 326.5 872 331 873.5 335.5 872.9 340 873.6 346 875.4 350.5 873.9 352 874.1 356.5 873.4 361 875.1 365.5 874.9 370 876.8 376 874.8 377.5 875.3 382 874.1 383.6 875 388 879.4 389.5 879.7 391 879.6 397 876.3 400 873.5 404.5 871.4 406 870.2 409 869 413.5 868.6 418 865.5 419.5 865 421 865.2 427 864.2 433 864.1 449.5 862.2 500.5 853.7 515.5 852.5 519.4 853Z"/>
<path fill="#40ffbf" d="M518.3 854 517.9 855 514.5 856 499 857.9 449.5 866.5 433 868.5 427 868.6 421 869.7 419.5 869.4 418 869.9 415 872.3 413.5 872.9 409 872.8 406 874.3 404.5 875.7 400.3 878 397 881.2 395.5 881.6 389.5 884.6 388 884.6 383.5 879.6 382 878.9 379 880.2 377.5 880.5 376 879.9 370 881.7 367 880.9 365.5 879.9 361 880.2 356.5 879.1 346 880.4 341.5 878.9 338.5 878.8 335.5 878.1 331 878.9 326.5 877.5 320.5 877.9 313 876.2 310 876.7 305.5 875 299.5 875.6 296.5 874.5 292 873.9 289 874.2 284.5 872.8 280 873.4 278.5 872.3 277 872.2 268 873.2 265 872.1 262 873.7 260.5 875 257.5 875.7 251.5 875.4 247 876 245.5 875.7 244 874.6 241 873.4 239.5 873.2 238 872.2 235 871.5 230.5 871.1 229 871.5 226 871.5 224.5 871 221.5 872.1 220.1 872 217 870.6 215.2 871 214.4 870 217 868.8 221.5 869.5 224.5 867.9 226 868.4 230.5 867.7 238 868.6 239.5 869.5 241 869.4 244 870.3 245.5 871.3 250 870.8 256 870.8 257.5 871.2 260.5 870.8 262 869.1 265 867.7 268 867.9 271 867.3 278.5 867.2 280 868.3 283 868.1 284.5 867.5 289 868.7 296.5 868.7 301 870.2 305.5 869.7 310 871.3 313 870.9 320.5 872.5 326.5 872.1 331 873.7 335.5 873.1 341.5 874.2 346 875.6 350.5 874.1 352 874.3 356.5 873.6 361 875.3 365.5 875.1 370 877 374.5 875.3 376 875 377.5 875.5 382 874.3 383.5 875.1 388 879.6 389.5 880 391 879.9 397 876.6 400 873.7 404.5 871.6 406 870.4 409 869.2 413.5 868.8 418 865.7 419.5 865.2 421 865.4 427 864.4 433 864.3 449.5 862.4 500.5 853.9 515.5 852.8 517.6 853Z"/>
<path fill="#30ffcf" d="M516.9 854 516.7 855 512.7 856 499 857.7 449.5 866.3 433 868.3 427 868.3 421 869.4 419.5 869.1 418 869.6 415 872.1 413.5 872.7 409 872.6 406 874 404.5 875.5 400 878 397 881 389.5 884.5 388 884.4 383.5 879.3 382 878.7 379 880 377.5 880.3 376 879.6 370 881.6 367 880.7 365.5 879.7 361 880 356.5 878.9 346 880.2 341.5 878.7 338.5 878.6 335.5 877.9 331 878.7 326.5 877.2 320.5 877.8 313 876 310 876.6 305.5 874.9 301 875.6 296.5 874.3 292 873.8 289 874 284.5 872.6 280 873.1 278.5 872.1 277 871.9 268 873 265 871.9 262 873.5 260.5 874.8 257.5 875.5 251.5 875.2 247 875.7 245.5 875.4 244 874.3 241 873.1 239.5 872.9 238 871.9 230.5 870.6 229 871.2 226 871.1 224.5 870.4 223 871.1 220.9 871 221.6 870 224.5 868.6 229 868.5 230.5 867.9 238 868.8 239.5 869.7 241 869.7 244 870.6 245.5 871.6 250 871 256 871.1 257.5 871.5 260.5 871 262 869.3 265 867.9 268 868.1 271 867.5 278.5 867.4 280 868.5 283 868.2 284.5 867.7 289 868.9 292 868.6 296.5 868.9 301 870.4 305.5 869.9 310 871.5 313 871 320.5 872.7 326.5 872.3 331 873.9 335.5 873.2 341.5 874.3 346 875.8 350.5 874.3 352 874.5 356.5 873.9 361 875.5 365.5 875.3 367 876.3 370 877.2 374.5 875.5 376 875.2 377.5 875.7 382 874.5 383.5 875.3 388 879.9 389.5 880.2 391 880.1 397 876.9 400 873.9 404.5 871.8 406 870.6 409 869.4 413.5 869 418 865.9 419.5 865.4 422.5 865.5 427 864.6 433 864.5 449.5 862.6 500.5 854.1 515.5 853.1Z"/>
<path fill="#20ffdf" d="M515.5 854 515.4 855 510.6 856 497.5 857.7 449.5 866.1 433 868 427 868.1 421 869.2 419.5 868.8 418 869.4 415 871.9 413.5 872.5 409 872.4 406 873.8 404.5 875.3 399.7 878 397 880.8 389.5 884.3 388 884.2 383.5 879.1 382 878.4 377.5 880 376 879.4 370 881.4 367 880.5 365.5 879.5 361 879.8 356.5 878.6 346 880 340 878.3 338.5 878.5 334 877.7 331 878.6 326.5 877 320.5 877.7 313 875.9 310 876.4 305.5 874.7 301 875.4 296.5 874.1 292 873.6 289 873.8 284.5 872.4 280 873 278.5 871.9 277 871.7 268 872.7 265 871.7 262 873.3 260.5 874.6 257.5 875.3 251.5 875 247 875.5 245.5 875.2 241 872.8 239.5 872.6 238 871.5 232 870.3 227.4 870 228 869 235 868.6 238 869 239.5 870 241 869.9 244 870.8 245.5 871.9 250 871.3 256 871.4 257.5 871.8 260.5 871.3 262 869.5 265 868.1 268 868.3 271 867.7 278.5 867.6 280 868.7 284.5 867.9 289 869.1 292 868.8 296.5 869.1 301 870.6 305.5 870.1 310 871.7 313 871.2 320.5 872.9 326.5 872.5 331 874.1 335.5 873.4 341.5 874.5 346 876.1 350.5 874.5 352 874.7 356.5 874.1 361 875.7 365.5 875.5 367 876.5 370 877.5 374.5 875.7 376 875.4 377.5 875.9 382 874.7 383.5 875.5 388 880.2 389.5 880.5 391 880.4 395.5 877.6 397 877.2 400 874.2 404.5 872 406 870.8 409 869.5 413.5 869.3 416.5 867 419.5 865.6 421 865.8 427 864.8 433 864.7 446.5 863.3 499 854.5 509.5 853.7Z"/>
<path fill="#10ffef" d="M511.5 855 508.3 856 497.5 857.5 448.6 866 433 867.7 427 867.7 421 868.9 419.5 868.5 413.5 872.3 409 872.2 406 873.5 404.5 875.1 401.5 876.4 399.4 878 397 880.5 389.5 884.1 388 884 383.8 879 382 878.2 377.5 879.8 376 879.1 370 881.2 367 880.3 365.5 879.3 361 879.6 356.5 878.4 352 879.2 350.5 878.9 346 879.8 340 878.1 338.5 878.3 334 877.6 331 878.4 326.5 876.9 320.5 877.5 313 875.7 310 876.2 305.5 874.5 301 875.2 296.5 873.9 292 873.4 289 873.6 284.5 872.2 280 872.8 278.5 871.7 277 871.6 268 872.5 265 871.5 262 873.1 260.5 874.4 257.5 875.1 251.5 874.6 247 875.2 245.5 874.9 244 873.6 234.7 870 235 869 236.5 869.7 238 869.7 239.5 870.6 241 870.5 244 871.3 245.5 872.3 250 871.6 256 871.6 257.5 872 260.5 871.5 262 869.7 265 868.3 268 868.6 271 867.9 278.5 867.8 280 868.9 284.5 868 289 869.3 296.5 869.2 301 870.8 305.5 870.2 310 871.9 313 871.3 320.5 873.1 326.5 872.6 331 874.3 335.5 873.5 341.5 874.6 346 876.2 350.5 874.7 352 875 356.5 874.3 361 875.9 365.5 875.7 367 876.7 370 877.7 374.5 875.9 376 875.6 377.5 876.2 382 874.9 383.5 875.7 388 880.4 391 880.6 395.5 877.9 397 877.5 400 874.5 404.5 872.3 406 870.9 409 869.7 413.5 869.6 417 867 419.5 865.8 421 866.1 427 865 433 864.9 448 863.4 499 854.7 509.8 854 511 854.3Z"/>
<path fill="#00ffff" d="M505.6 855 505.2 856 453.1 865 433 867.3 427 867.4 422.5 868.3 419.5 868.2 418 868.6 413.5 872 409 871.9 406 873.3 404.5 874.7 399 878 397 880.3 395.5 880.6 389.5 883.8 388 883.7 384.2 879 382 877.9 379 879.3 377.5 879.5 376 878.9 370 881 367 880.2 365.5 879.1 361 879.5 356.5 878.2 352 879 350.5 878.7 346 879.7 340 877.9 338.5 878.1 335.5 877.4 331 878.3 326.5 876.7 320.5 877.4 313 875.6 310 876 305.5 874.4 301 875.1 296.5 873.7 292 873.2 289 873.4 284.5 872 280 872.6 278.5 871.5 277 871.4 268 872.3 265 871.2 261.6 873 260.5 874.2 257.5 874.7 251.5 874.3 247 874.7 243.2 873 242.5 872 244 871.9 245.5 872.8 250 871.9 256 871.9 257.5 872.4 260.5 871.7 262 869.9 265 868.5 268 868.8 271 868.1 278.5 868 280 869 284.5 868.2 289 869.4 296.5 869.4 301 871 305.5 870.3 310 872 313 871.5 320.5 873.2 326.5 872.8 331 874.4 335.5 873.7 341.5 874.8 346 876.4 350.5 874.9 352 875.2 356.5 874.5 361 876.1 365.5 875.9 367 876.9 370 877.9 376 875.9 377.5 876.5 382 875.2 383.5 875.9 388 880.7 391 880.9 395.5 878.3 397 877.8 400 874.7 404.5 872.6 406.5 871 409 869.9 413.5 869.8 418 866.7 419.5 866.2 421 866.6 427 865.5 433 865.4 434.5 864.9 449.5 863.6 498.5 855Z"/>
<path fill="#00efff" d="M250.3 873 259 872.5 260.5 871.9 262.4 870 265 868.7 268 869 277 868 278.5 868.1 280 869.2 284.5 868.4 289 869.6 292 869.3 296.5 869.6 301 871.1 305.5 870.5 310 872.2 313 871.6 320.5 873.4 326.5 872.9 331 874.6 335.5 873.9 341.5 875 346 876.6 350.5 875.1 352 875.4 356.5 874.7 361 876.3 365.5 876.1 367 877.1 370 878.2 376 876.2 377.5 876.7 382 875.6 383.5 876.3 388 881 389.5 881.5 391 881.4 395.5 878.7 397 878.4 397.5 879 397 880.1 395.5 880.3 391 883.1 388 883.3 384.6 879 382 877.5 379 879 377.5 879.2 376 878.5 370 880.7 367 879.9 365.5 878.8 361 879.3 356.5 878 352 878.8 350.5 878.5 346 879.5 340 877.7 338.5 878 335.5 877.2 331 878.1 326.5 876.6 320.5 877.2 313 875.4 310 875.9 305.5 874.2 301 874.9 296.5 873.5 292 873 289 873.3 284.5 871.8 283 872.3 280 872.5 278.5 871.3 277 871.2 268 872.1 265 871 261.1 873 260.5 874.1 257.5 874.4 251.3 874ZM416.4 869 416.5 868 418 867.6 418.1 868ZM414.5 871 409 871.2 401.5 875.9 398.5 878.3 397.6 878 400 875 403 873.8 407.3 871 410.5 870ZM414.5 870 415.1 870 415 870.6Z"/>
<path fill="#00dfff" d="M261.4 872 262 870.8 265 868.9 268 869.4 271 868.6 278.5 868.4 280 869.4 283 869.1 284.5 868.5 289 869.8 292 869.4 296.5 869.7 301 871.3 305.5 870.6 310 872.3 313 871.7 320.5 873.5 326.5 873.1 331 874.7 335.5 874 341 875 346 876.7 350.5 875.4 352 875.6 356.5 874.8 361 876.6 365.5 876.4 367 877.5 368.5 877.7 370 878.5 374.5 876.8 380.5 876.7 382 875.9 383.5 877 383.5 877.4 382 877.1 377.5 878.8 376 878.2 374.5 878.4 371.9 880 370 880.4 367 879.6 365.5 878.5 361 879.1 356.5 877.7 352 878.6 350.5 878.3 346 879.4 340 877.6 338.5 877.8 335.5 877.1 331 878 326.5 876.5 320.5 877.1 316 876.3 313 875.3 310 875.8 305.5 874 301 874.8 296.5 873.4 292 872.8 289 873.1 284.5 871.6 283 872.1 280 872.3 278.5 871.1 277 871 268 871.7 265 870.6 262 872.2ZM258.3 873 260.5 872.7 260.7 873 259 873.5Z"/>
<path fill="#00cfff" d="M264.8 870 268 869.8 269.6 869 278.5 868.6 280 869.6 283 869.4 284.5 868.7 289 870 292 869.6 296.5 869.9 301 871.4 305.5 870.7 310 872.4 313 871.9 320.5 873.6 326.5 873.2 331 874.9 335.5 874.2 340.4 875 346 876.9 350.5 875.6 352 875.8 356.5 875.1 361 876.8 365.5 876.8 367 877.8 368.5 877.9 370 878.9 372 879 370 880.1 368.5 879.2 367 879.2 365.5 878.2 361 878.7 356.5 877.4 355 878 350.5 878.1 346 879.2 341.5 877.7 335.5 876.9 331 877.8 326.5 876.3 320.5 876.9 316 876.2 313 875.1 310 875.7 305.5 873.9 301 874.6 296.5 873.2 292 872.7 289 872.9 284.5 871.4 283 871.9 280 872.1 278.5 870.9 277 870.6 268 871.2Z"/>
<path fill="#00bfff" d="M271 870 273.4 869 278.5 868.8 280 869.8 283 869.6 284.5 868.8 289 870.2 292 869.8 296.5 870.1 301 871.6 305.5 870.9 310 872.6 313 872 320.5 873.8 326.5 873.3 331 875 335.5 874.4 338.5 875.3 340 875.2 346 877.2 350.5 875.8 352 876.1 356.5 875.7 358.2 876 361.6 878 359.5 878 356.5 877.1 352 878.1 350.5 877.8 346 879.1 341.5 877.5 338.5 877.4 335.5 876.7 331 877.7 326.5 876.2 320.5 876.8 316 876 313 875 310 875.5 305.5 873.7 301 874.5 296.5 873.1 292 872.5 289 872.7 284.5 871.2 280 871.8 278.5 870.5 274 870.6Z"/>
<path fill="#00afff" d="M277.3 870 277.7 869 278.5 869 279.6 870ZM279.8 871 280.2 870 283 869.8 284.5 869 289 870.5 292 869.9 296.5 870.3 301 871.7 305.5 871 310 872.7 313 872.2 320.5 873.9 326.5 873.5 331 875.2 332.5 874.7 335.5 874.6 338.5 875.6 342.2 876 346 877.7 347.5 876.9 351.3 877 349.2 878 346 878.4 341.5 877.2 338.5 877.2 335.5 876.5 331 877.5 326.5 876 320.5 876.7 316.5 876 313 874.8 310 875.4 305.5 873.6 301 874.4 296.5 872.8 289 872.4 284.5 871Z"/>
<path fill="#009fff" d="M283.7 870 286 869.9 289 870.8 292 870.2 296.5 870.5 301 871.9 305.5 871.2 310 872.8 313 872.3 316 873.3 322 874.1 326.5 873.6 331 875.5 332.5 874.8 337.1 875 338.5 875.9 340.7 876 339.1 877 335.5 876.3 331 877.3 326.5 875.8 320.5 876.6 317 876 313 874.7 310 875.3 305.5 873.4 301 874.2 296.5 872.6 287.5 872Z"/>
<path fill="#008fff" d="M289.8 871 296.5 870.8 301 872.1 305.5 871.5 310 872.9 313 872.5 316 873.4 322 874.3 326.5 873.7 331 875.7 332.5 875 335.5 875 336.4 876 332.5 876.4 331 877.2 326.5 875.6 320.5 876.4 313 874.5 310 875.2 305.5 873.3 300.5 874 296.5 872.3 292 871.7 289.9 872Z"/>
<path fill="#0080ff" d="M296.1 871 301 872.6 302.5 871.9 305.5 871.7 310 873.2 311.5 872.7 314.5 872.8 316 873.6 320.5 874.4 326.5 873.9 331 875.9 332.5 876 331 877 326.5 875.4 323.5 876.2 320.5 876.3 313 874.3 310 875.1 305.5 873.1 301 873.7 298 872.3 296.1 872Z"/>
<path fill="#0070ff" d="M302.8 873 303.6 872 305.9 872 304.8 873ZM305.8 873 308.5 872.8 310 873.6 311.5 872.9 314.5 872.9 316 873.7 322 874.7 326.5 874 328.2 875 325 875.2 323.5 876.1 320.5 876.2 316 875.3 314.5 874.4 311.5 874.2 310 874.6Z"/>
<path fill="#0060ff" d="M310.6 874 311.5 873 313.7 873 320.5 874.8 324.7 875 322.8 876 320.5 876.1 319 875.4 316 875.1 314.5 874.1Z"/>
</g></g>
<rect x="87.5" y="663.5" width="497" height="290.5" fill="none" stroke="#303030" stroke-width="1" opacity="0.35"/>
<path d="M99 663.6H87.7V953.8H99" fill="none" stroke="#444" stroke-width="1.3"/>
<path d="M88 760.367h5" stroke="#444" stroke-width="1.2"/>
<path d="M88 857.033h5" stroke="#444" stroke-width="1.2"/>
<text x="78.3" y="672.8" font-size="21" fill="#262626" text-anchor="end">10</text>
<text x="78.3" y="769.467" font-size="21" fill="#262626" text-anchor="end">9</text>
<text x="78.3" y="866.133" font-size="21" fill="#262626" text-anchor="end">8</text>
<text x="78.3" y="962.8" font-size="21" fill="#262626" text-anchor="end">7</text>
<text transform="translate(42.8 809) rotate(-90)" font-size="24.7" fill="#262626" text-anchor="middle">Freq (GHz)</text>
<path d="M88.0 664.0 89.7 668.9 91.4 673.8 93.1 678.7 94.8 683.7 96.6 688.6 98.4 693.5 100.2 698.4 102.0 703.3 103.8 708.2 105.7 713.2 107.5 718.1 109.4 723.0 111.3 727.9 113.3 732.8 115.2 737.7 117.2 742.6 119.2 747.6 121.2 752.5 123.3 757.4 125.4 762.3 127.5 767.2 129.6 772.1 131.8 777.1 133.9 782.0 136.1 786.9 138.4 791.8 140.7 796.7 142.9 801.6 145.3 806.5 147.6 811.5 150.0 816.4 152.4 821.3 154.9 826.2 157.4 831.1 159.9 836.0 162.5 840.9 165.0 845.9 167.7 850.8 170.3 855.7 173.1 860.6 175.8 865.5 178.6 870.4 181.4 875.4 184.3 880.3 187.2 885.2 190.2 890.1 193.2 895.0 196.3 899.9 199.4 904.8 202.6 909.8 205.8 914.7 209.1 919.6 212.5 924.5 215.9 929.4 219.4 934.3 222.9 939.3 226.5 944.2 230.2 949.1 233.9 954.0" fill="none" stroke="#0a0af0" stroke-width="3.6"/>
<path d="M260.5 664.0 261.5 668.9 262.5 673.8 263.5 678.7 264.5 683.7 265.5 688.6 266.5 693.5 267.6 698.4 268.6 703.3 269.7 708.2 270.8 713.2 271.9 718.1 273.0 723.0 274.1 727.9 275.3 732.8 276.4 737.7 277.6 742.6 278.8 747.6 280.0 752.5 281.2 757.4 282.5 762.3 283.7 767.2 285.0 772.1 286.3 777.1 287.6 782.0 288.9 786.9 290.3 791.8 291.7 796.7 293.1 801.6 294.5 806.5 295.9 811.5 297.4 816.4 298.8 821.3 300.3 826.2 301.9 831.1 303.4 836.0 305.0 840.9 306.6 845.9 308.2 850.8 309.9 855.7 311.5 860.6 313.3 865.5 315.0 870.4 316.8 875.4 318.6 880.3 320.4 885.2 322.3 890.1 324.2 895.0 326.1 899.9 328.1 904.8 330.1 909.8 332.1 914.7 334.2 919.6 336.4 924.5 338.5 929.4 340.8 934.3 343.0 939.3 345.3 944.2 347.7 949.1 350.1 954.0" fill="none" stroke="#140606" stroke-width="3.2" stroke-dasharray="2.7 2.7"/>
<text x="434.7" y="719.2" font-size="27" font-style="italic" fill="#d9d2d2" textLength="132.8" lengthAdjust="spacingAndGlyphs">w=4.1 mm</text>
<text x="122.8" y="935.5" font-size="27" fill="#0a0000" textLength="56" lengthAdjust="spacingAndGlyphs"><tspan font-style="italic">m</tspan>=0</text>
<text x="479.9" y="934.9" font-size="27" fill="#0a0000" textLength="89.5" lengthAdjust="spacingAndGlyphs"><tspan font-style="italic">m</tspan>=-1,0</text>
<use href="#xm" x="318.3" y="874.9" fill="#0a0a0a"/>
<use href="#xs" x="193.6" y="862" fill="#0a0a0a"/>
<use href="#xs" x="499.7" y="855.9" fill="#0a0a0a"/>
<text x="88" y="986.3" font-size="21" fill="#262626" text-anchor="middle">0</text>
<text x="203" y="986.3" font-size="21" fill="#262626" text-anchor="middle">20</text>
<text x="318" y="986.3" font-size="21" fill="#262626" text-anchor="middle">40</text>
<text x="433" y="986.3" font-size="21" fill="#262626" text-anchor="middle">60</text>
<text x="548" y="986.3" font-size="21" fill="#262626" text-anchor="middle">80</text>
<text y="1018.3" font-size="23.5" fill="#262626"><tspan x="332.5">|</tspan><tspan x="339.6" font-family="'Liberation Serif', serif" font-style="italic" font-size="25.5">θ</tspan><tspan x="351" y="1028.8" font-size="16">i</tspan><tspan x="355.3" y="1018.3">|</tspan></text>
<rect x="600" y="151.00" width="36.5" height="11.66" fill="#800000"/>
<rect x="600" y="162.26" width="36.5" height="11.66" fill="#8f0000"/>
<rect x="600" y="173.52" width="36.5" height="11.66" fill="#9f0000"/>
<rect x="600" y="184.77" width="36.5" height="11.66" fill="#af0000"/>
<rect x="600" y="196.03" width="36.5" height="11.66" fill="#bf0000"/>
<rect x="600" y="207.29" width="36.5" height="11.66" fill="#cf0000"/>
<rect x="600" y="218.55" width="36.5" height="11.66" fill="#df0000"/>
<rect x="600" y="229.80" width="36.5" height="11.66" fill="#ef0000"/>
<rect x="600" y="241.06" width="36.5" height="11.66" fill="#ff0000"/>
<rect x="600" y="252.32" width="36.5" height="11.66" fill="#ff1000"/>
<rect x="600" y="263.58" width="36.5" height="11.66" fill="#ff2000"/>
<rect x="600" y="274.84" width="36.5" height="11.66" fill="#ff3000"/>
<rect x="600" y="286.09" width="36.5" height="11.66" fill="#ff4000"/>
<rect x="600" y="297.35" width="36.5" height="11.66" fill="#ff5000"/>
<rect x="600" y="308.61" width="36.5" height="11.66" fill="#ff6000"/>
<rect x="600" y="319.87" width="36.5" height="11.66" fill="#ff7000"/>
<rect x="600" y="331.12" width="36.5" height="11.66" fill="#ff8000"/>
<rect x="600" y="342.38" width="36.5" height="11.66" fill="#ff8f00"/>
<rect x="600" y="353.64" width="36.5" height="11.66" fill="#ff9f00"/>
<rect x="600" y="364.90" width="36.5" height="11.66" fill="#ffaf00"/>
<rect x="600" y="376.16" width="36.5" height="11.66" fill="#ffbf00"/>
<rect x="600" y="387.41" width="36.5" height="11.66" fill="#ffcf00"/>
<rect x="600" y="398.67" width="36.5" height="11.66" fill="#ffdf00"/>
<rect x="600" y="409.93" width="36.5" height="11.66" fill="#ffef00"/>
<rect x="600" y="421.19" width="36.5" height="11.66" fill="#ffff00"/>
<rect x="600" y="432.45" width="36.5" height="11.66" fill="#efff10"/>
<rect x="600" y="443.70" width="36.5" height="11.66" fill="#dfff20"/>
<rect x="600" y="454.96" width="36.5" height="11.66" fill="#cfff30"/>
<rect x="600" y="466.22" width="36.5" height="11.66" fill="#bfff40"/>
<rect x="600" y="477.48" width="36.5" height="11.66" fill="#afff50"/>
<rect x="600" y="488.73" width="36.5" height="11.66" fill="#9fff60"/>
<rect x="600" y="499.99" width="36.5" height="11.66" fill="#8fff70"/>
<rect x="600" y="511.25" width="36.5" height="11.66" fill="#80ff80"/>
<rect x="600" y="522.51" width="36.5" height="11.66" fill="#70ff8f"/>
<rect x="600" y="533.77" width="36.5" height="11.66" fill="#60ff9f"/>
<rect x="600" y="545.02" width="36.5" height="11.66" fill="#50ffaf"/>
<rect x="600" y="556.28" width="36.5" height="11.66" fill="#40ffbf"/>
<rect x="600" y="567.54" width="36.5" height="11.66" fill="#30ffcf"/>
<rect x="600" y="578.80" width="36.5" height="11.66" fill="#20ffdf"/>
<rect x="600" y="590.05" width="36.5" height="11.66" fill="#10ffef"/>
<rect x="600" y="601.31" width="36.5" height="11.66" fill="#00ffff"/>
<rect x="600" y="612.57" width="36.5" height="11.66" fill="#00efff"/>
<rect x="600" y="623.83" width="36.5" height="11.66" fill="#00dfff"/>
<rect x="600" y="635.09" width="36.5" height="11.66" fill="#00cfff"/>
<rect x="600" y="646.34" width="36.5" height="11.66" fill="#00bfff"/>
<rect x="600" y="657.60" width="36.5" height="11.66" fill="#00afff"/>
<rect x="600" y="668.86" width="36.5" height="11.66" fill="#009fff"/>
<rect x="600" y="680.12" width="36.5" height="11.66" fill="#008fff"/>
<rect x="600" y="691.38" width="36.5" height="11.66" fill="#0080ff"/>
<rect x="600" y="702.63" width="36.5" height="11.66" fill="#0070ff"/>
<rect x="600" y="713.89" width="36.5" height="11.66" fill="#0060ff"/>
<rect x="600" y="725.15" width="36.5" height="11.66" fill="#0050ff"/>
<rect x="600" y="736.41" width="36.5" height="11.66" fill="#0040ff"/>
<rect x="600" y="747.66" width="36.5" height="11.66" fill="#0030ff"/>
<rect x="600" y="758.92" width="36.5" height="11.66" fill="#0020ff"/>
<rect x="600" y="770.18" width="36.5" height="11.66" fill="#0010ff"/>
<rect x="600" y="781.44" width="36.5" height="11.66" fill="#0000ff"/>
<rect x="600" y="792.70" width="36.5" height="11.66" fill="#0000ef"/>
<rect x="600" y="803.95" width="36.5" height="11.66" fill="#0000df"/>
<rect x="600" y="815.21" width="36.5" height="11.66" fill="#0000cf"/>
<rect x="600" y="826.47" width="36.5" height="11.66" fill="#0000bf"/>
<rect x="600" y="837.73" width="36.5" height="11.66" fill="#0000af"/>
<rect x="600" y="848.98" width="36.5" height="11.66" fill="#00009f"/>
<rect x="600" y="860.24" width="36.5" height="11.26" fill="#00008f"/>
<rect x="600" y="151" width="36.5" height="720.5" fill="none" stroke="#2a2a2a" stroke-width="1"/>
<path d="M636.5 223.05h-6" stroke="#2a2a2a" stroke-width="1"/>
<text x="645.5" y="231.25" font-size="18.5" fill="#262626">-5</text>
<path d="M636.5 295.1h-6" stroke="#2a2a2a" stroke-width="1"/>
<text x="645.5" y="303.3" font-size="18.5" fill="#262626">-10</text>
<path d="M636.5 367.15h-6" stroke="#2a2a2a" stroke-width="1"/>
<text x="645.5" y="375.35" font-size="18.5" fill="#262626">-15</text>
<path d="M636.5 439.2h-6" stroke="#2a2a2a" stroke-width="1"/>
<text x="645.5" y="447.4" font-size="18.5" fill="#262626">-20</text>
<path d="M636.5 511.25h-6" stroke="#2a2a2a" stroke-width="1"/>
<text x="645.5" y="519.45" font-size="18.5" fill="#262626">-25</text>
<path d="M636.5 583.3h-6" stroke="#2a2a2a" stroke-width="1"/>
<text x="645.5" y="591.5" font-size="18.5" fill="#262626">-30</text>
<path d="M636.5 655.35h-6" stroke="#2a2a2a" stroke-width="1"/>
<text x="645.5" y="663.55" font-size="18.5" fill="#262626">-35</text>
<path d="M636.5 727.4h-6" stroke="#2a2a2a" stroke-width="1"/>
<text x="645.5" y="735.6" font-size="18.5" fill="#262626">-40</text>
<path d="M636.5 799.45h-6" stroke="#2a2a2a" stroke-width="1"/>
<text x="645.5" y="807.65" font-size="18.5" fill="#262626">-45</text>
<text x="645.5" y="879.7" font-size="18.5" fill="#262626">-50</text>
<text transform="translate(20.8 27) scale(0.95 1.05)" font-size="49" font-weight="bold" fill="#000">a</text>
<text x="21" y="1061.5" font-size="49" font-weight="bold" fill="#000">b</text>
<g fill="none" stroke="#000" stroke-width="4.4" stroke-linejoin="miter">
<path d="M41 1107.5H185M41 1260.7H185M505.5 1107.5H649.5M505.5 1260.7H649.5" stroke-width="9"/>
<path d="M185 1107.5H240V1144.5a18 10.125 0 0 1 0 20.25a18 10.125 0 0 1 0 20.25a18 10.125 0 0 1 0 20.25a18 10.125 0 0 1 0 20.25V1260.7H185"/>
<path d="M291 1122.5V1144.5a18 10.125 0 0 0 0 20.25a18 10.125 0 0 0 0 20.25a18 10.125 0 0 0 0 20.25a18 10.125 0 0 0 0 20.25V1260.7H402.5V1225.5a18 10.125 0 0 0 0 -20.25a18 10.125 0 0 0 0 -20.25a18 10.125 0 0 0 0 -20.25a18 10.125 0 0 0 0 -20.25V1107.5H291V1123.5"/>
<path d="M505.5 1107.5H454.5V1144.5a18 10.125 0 0 0 0 20.25a18 10.125 0 0 0 0 20.25a18 10.125 0 0 0 0 20.25a18 10.125 0 0 0 0 20.25V1260.7H505.5"/>
<path d="M346.7 1107.5V1142.8M346.7 1222.1V1260.7"/>
<rect x="332" y="1142.8" width="29.3" height="79.3"/>
</g>
<circle cx="185" cy="1107.5" r="13.1" fill="#000"/>
<circle cx="185" cy="1260.7" r="13.1" fill="#000"/>
<circle cx="505.5" cy="1107.5" r="13.1" fill="#000"/>
<circle cx="505.5" cy="1260.7" r="13.1" fill="#000"/>
<text x="228.8" y="1076" font-size="36" fill="#000" textLength="75" lengthAdjust="spacingAndGlyphs">N<tspan font-size="22.5" dy="9">0</tspan><tspan dy="-9">:1</tspan></text>
<text x="396.3" y="1076" font-size="36" fill="#000" textLength="84" lengthAdjust="spacingAndGlyphs">1:N<tspan font-size="24" dy="9">-1</tspan></text>
<text y="1197.6" font-size="44" font-style="italic" fill="#000"><tspan x="99.8">Z</tspan><tspan x="123" y="1208.8" font-size="27.5" font-style="normal">0</tspan></text>
<text y="1197.6" font-size="44" font-style="italic" fill="#000"><tspan x="558.3">Z</tspan><tspan x="582.2" y="1208.8" font-size="27.5" font-style="normal">-1</tspan></text>
<text transform="translate(354.8 1315.3) scale(0.8 1)" font-size="50" fill="#000" stroke="#000" stroke-width="1.5" text-anchor="middle">Y</text>
</svg>
</body></html>
